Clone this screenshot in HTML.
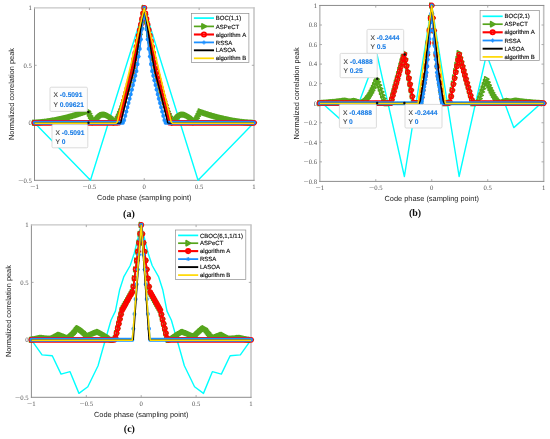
<!DOCTYPE html>
<html><head><meta charset="utf-8"><title>Normalized correlation peaks</title>
<style>
html,body{margin:0;padding:0;background:#fff}
svg{display:block}
text{text-rendering:geometricPrecision}
.tk{font-family:"Liberation Serif",serif;font-size:6.7px;fill:#555}
.lb{font-family:"Liberation Sans",sans-serif;font-size:7.4px;fill:#1c1c1c}
.lg{font-family:"Liberation Sans",sans-serif;font-size:6px;fill:#111;stroke:#111;stroke-width:0.15px;font-kerning:none}
.dt{font-family:"Liberation Sans",sans-serif;font-size:6.7px;fill:#333;stroke:#333;stroke-width:0.1px}
.dv{font-weight:bold;fill:#1a7de6;stroke:#1a7de6;stroke-width:0.1px}
.cap{font-family:"Liberation Serif",serif;font-weight:bold;font-size:10px;fill:#111}
</style></head><body>
<svg width="550" height="439" viewBox="0 0 550 439">
<defs><filter id="soft" x="0" y="0" width="550" height="439" filterUnits="userSpaceOnUse"><feGaussianBlur stdDeviation="0.36"/></filter></defs>
<rect width="550" height="439" fill="#fff"/>
<g filter="url(#soft)">
<line x1="34.5" y1="7.3" x2="34.5" y2="180.8" stroke="#8c8c8c" stroke-width="1"/>
<line x1="254" y1="7.3" x2="254" y2="180.8" stroke="#c6c6c6" stroke-width="1.6"/>
<line x1="34.0" y1="7.8" x2="254.5" y2="7.8" stroke="#c6c6c6" stroke-width="1.2"/>
<line x1="34.0" y1="180.3" x2="254.5" y2="180.3" stroke="#8c8c8c" stroke-width="1"/>
<path d="M89.38,180.3v-2.2M89.38,7.8v2.2M144.25,180.3v-2.2M144.25,7.8v2.2M199.12,180.3v-2.2M199.12,7.8v2.2M34.5,122.8h2.2M254,122.8h-2.2M34.5,65.3h2.2M254,65.3h-2.2" stroke="#9a9a9a" stroke-width="0.8" fill="none"/>
<text transform="translate(30.22,189.1) scale(1.38,1)" class="tk">−</text>
<text x="35.43" y="189.1" class="tk">1</text>
<text transform="translate(82.58,189.1) scale(1.38,1)" class="tk">−</text>
<text x="87.79" y="189.1" class="tk">0.5</text>
<text x="144.25" y="189.1" class="tk" text-anchor="middle">0</text>
<text x="199.12" y="189.1" class="tk" text-anchor="middle">0.5</text>
<text x="254" y="189.1" class="tk" text-anchor="middle">1</text>
<text transform="translate(18.21,182.6) scale(1.38,1)" class="tk">−</text>
<text x="23.43" y="182.6" class="tk">0.5</text>
<text x="31.8" y="125.1" class="tk" text-anchor="end">0</text>
<text x="31.8" y="67.6" class="tk" text-anchor="end">0.5</text>
<text x="31.8" y="10.1" class="tk" text-anchor="end">1</text>
<text x="144.25" y="199.65" class="lb" text-anchor="middle">Code phase (sampling point)</text>
<text transform="translate(13.65,94.05) rotate(-90)" class="lb" text-anchor="middle">Normalized correlation peak</text>
<polyline points="34.5,122.8 90.47,180.3 144.25,7.8 198.03,180.3 254,122.8" fill="none" stroke="#00ffff" stroke-width="1.4" stroke-linejoin="round" />
<polyline points="34.5,122.74 35.62,122.69 36.74,122.64 37.86,122.57 38.98,122.5 40.1,122.41 41.22,122.32 42.34,122.21 43.46,122.1 44.58,121.98 45.7,121.85 46.82,121.71 47.94,121.56 49.06,121.41 50.18,121.24 51.3,121.07 52.42,120.89 53.54,120.7 54.66,120.51 55.78,120.31 56.9,120.1 58.02,119.88 59.14,119.65 60.26,119.42 61.38,119.18 62.5,118.94 63.62,118.68 64.74,118.42 65.86,118.15 66.98,117.88 68.1,117.59 69.22,117.3 70.34,117.01 71.46,116.7 72.58,116.39 73.7,116.07 74.82,115.75 75.94,115.42 77.06,115.08 78.18,114.74 79.3,114.39 80.42,114.03 81.54,113.67 82.66,113.3 83.78,112.92 84.9,112.53 86.02,112.14 87.14,111.75 88.26,111.34 89.38,113.65 90.49,116.1 91.61,118.37 92.73,120.45 93.85,122.34 94.97,121.55 96.09,120.03 97.21,118.7 98.33,117.55 99.45,116.6 100.57,115.82 101.69,115.24 102.81,114.84 103.93,114.62 105.05,114.6 106.17,114.76 107.29,115.11 108.41,115.64 109.53,116.36 110.65,117.27 111.77,118.36 112.89,119.64 114.01,121.11 115.13,122.77 116.25,120.96 117.37,118.84 118.49,116.53 119.61,114.02 120.73,111.3 121.85,108.38 122.97,105.27 124.09,101.95 125.21,98.43 126.33,94.7 127.45,90.78 128.57,86.66 129.69,82.33 130.81,77.81 131.93,73.08 133.05,68.15 134.17,63.02 135.29,57.69 136.41,52.16 137.53,46.42 138.65,40.49 139.77,34.35 140.89,28.02 142.01,21.48 143.13,14.74 144.25,7.8 145.37,14.74 146.49,21.48 147.61,28.02 148.73,34.35 149.85,40.49 150.97,46.42 152.09,52.16 153.21,57.69 154.33,63.02 155.45,68.15 156.57,73.08 157.69,77.81 158.81,82.33 159.93,86.66 161.05,90.78 162.17,94.7 163.29,98.43 164.41,101.95 165.53,105.27 166.65,108.38 167.77,111.3 168.89,114.02 170.01,116.53 171.13,118.84 172.25,120.96 173.37,122.77 174.49,121.11 175.61,119.64 176.73,118.36 177.85,117.27 178.97,116.36 180.09,115.64 181.21,115.11 182.33,114.76 183.45,114.6 184.57,114.62 185.69,114.84 186.81,115.24 187.93,115.82 189.05,116.6 190.17,117.55 191.29,118.7 192.41,120.03 193.53,121.55 194.65,122.34 195.77,120.45 196.89,118.37 198.01,116.1 199.12,113.65 200.24,111.34 201.36,111.75 202.48,112.14 203.6,112.53 204.72,112.92 205.84,113.3 206.96,113.67 208.08,114.03 209.2,114.39 210.32,114.74 211.44,115.08 212.56,115.42 213.68,115.75 214.8,116.07 215.92,116.39 217.04,116.7 218.16,117.01 219.28,117.3 220.4,117.59 221.52,117.88 222.64,118.15 223.76,118.42 224.88,118.68 226,118.94 227.12,119.18 228.24,119.42 229.36,119.65 230.48,119.88 231.6,120.1 232.72,120.31 233.84,120.51 234.96,120.7 236.08,120.89 237.2,121.07 238.32,121.24 239.44,121.41 240.56,121.56 241.68,121.71 242.8,121.85 243.92,121.98 245.04,122.1 246.16,122.21 247.28,122.32 248.4,122.41 249.52,122.5 250.64,122.57 251.76,122.64 252.88,122.69 254,122.74" fill="none" stroke="#55a51c" stroke-width="1.6" stroke-linejoin="round" />
<path d="M32.58,120.34L36.9,122.74L32.58,125.14ZM33.7,120.29L38.02,122.69L33.7,125.09ZM34.82,120.24L39.14,122.64L34.82,125.04ZM35.94,120.17L40.26,122.57L35.94,124.97ZM37.06,120.1L41.38,122.5L37.06,124.9ZM38.18,120.01L42.5,122.41L38.18,124.81ZM39.3,119.92L43.62,122.32L39.3,124.72ZM40.42,119.81L44.74,122.21L40.42,124.61ZM41.54,119.7L45.86,122.1L41.54,124.5ZM42.66,119.58L46.98,121.98L42.66,124.38ZM43.78,119.45L48.1,121.85L43.78,124.25ZM44.9,119.31L49.22,121.71L44.9,124.11ZM46.02,119.16L50.34,121.56L46.02,123.96ZM47.14,119.01L51.46,121.41L47.14,123.81ZM48.26,118.84L52.58,121.24L48.26,123.64ZM49.38,118.67L53.7,121.07L49.38,123.47ZM50.5,118.49L54.82,120.89L50.5,123.29ZM51.62,118.3L55.94,120.7L51.62,123.1ZM52.74,118.11L57.06,120.51L52.74,122.91ZM53.86,117.91L58.18,120.31L53.86,122.71ZM54.98,117.7L59.3,120.1L54.98,122.5ZM56.1,117.48L60.42,119.88L56.1,122.28ZM57.22,117.25L61.54,119.65L57.22,122.05ZM58.34,117.02L62.66,119.42L58.34,121.82ZM59.46,116.78L63.78,119.18L59.46,121.58ZM60.58,116.54L64.9,118.94L60.58,121.34ZM61.7,116.28L66.02,118.68L61.7,121.08ZM62.82,116.02L67.14,118.42L62.82,120.82ZM63.94,115.75L68.26,118.15L63.94,120.55ZM65.06,115.48L69.38,117.88L65.06,120.28ZM66.18,115.19L70.5,117.59L66.18,119.99ZM67.3,114.9L71.62,117.3L67.3,119.7ZM68.42,114.61L72.74,117.01L68.42,119.41ZM69.54,114.3L73.86,116.7L69.54,119.1ZM70.66,113.99L74.98,116.39L70.66,118.79ZM71.78,113.67L76.1,116.07L71.78,118.47ZM72.9,113.35L77.22,115.75L72.9,118.15ZM74.02,113.02L78.34,115.42L74.02,117.82ZM75.14,112.68L79.46,115.08L75.14,117.48ZM76.26,112.34L80.58,114.74L76.26,117.14ZM77.38,111.99L81.7,114.39L77.38,116.79ZM78.5,111.63L82.82,114.03L78.5,116.43ZM79.62,111.27L83.94,113.67L79.62,116.07ZM80.74,110.9L85.06,113.3L80.74,115.7ZM81.86,110.52L86.18,112.92L81.86,115.32ZM82.98,110.13L87.3,112.53L82.98,114.93ZM84.1,109.74L88.42,112.14L84.1,114.54ZM85.22,109.35L89.54,111.75L85.22,114.15ZM86.34,108.94L90.66,111.34L86.34,113.74ZM87.45,111.25L91.78,113.65L87.45,116.05ZM88.57,113.7L92.89,116.1L88.57,118.5ZM89.69,115.97L94.01,118.37L89.69,120.77ZM90.81,118.05L95.13,120.45L90.81,122.85ZM91.93,119.94L96.25,122.34L91.93,124.74ZM93.05,119.15L97.37,121.55L93.05,123.95ZM94.17,117.63L98.49,120.03L94.17,122.43ZM95.29,116.3L99.61,118.7L95.29,121.1ZM96.41,115.15L100.73,117.55L96.41,119.95ZM97.53,114.2L101.85,116.6L97.53,119ZM98.65,113.42L102.97,115.82L98.65,118.22ZM99.77,112.84L104.09,115.24L99.77,117.64ZM100.89,112.44L105.21,114.84L100.89,117.24ZM102.01,112.22L106.33,114.62L102.01,117.02ZM103.13,112.2L107.45,114.6L103.13,117ZM104.25,112.36L108.57,114.76L104.25,117.16ZM105.37,112.71L109.69,115.11L105.37,117.51ZM106.49,113.24L110.81,115.64L106.49,118.04ZM107.61,113.96L111.93,116.36L107.61,118.76ZM108.73,114.87L113.05,117.27L108.73,119.67ZM109.85,115.96L114.17,118.36L109.85,120.76ZM110.97,117.24L115.29,119.64L110.97,122.04ZM112.09,118.71L116.41,121.11L112.09,123.51ZM113.21,120.37L117.53,122.77L113.21,125.17ZM114.33,118.56L118.65,120.96L114.33,123.36ZM115.45,116.44L119.77,118.84L115.45,121.24ZM116.57,114.13L120.89,116.53L116.57,118.93ZM117.69,111.62L122.01,114.02L117.69,116.42ZM118.81,108.9L123.13,111.3L118.81,113.7ZM119.93,105.98L124.25,108.38L119.93,110.78ZM121.05,102.87L125.37,105.27L121.05,107.67ZM122.17,99.55L126.49,101.95L122.17,104.35ZM123.29,96.03L127.61,98.43L123.29,100.83ZM124.41,92.3L128.73,94.7L124.41,97.1ZM125.53,88.38L129.85,90.78L125.53,93.18ZM126.65,84.26L130.97,86.66L126.65,89.06ZM127.77,79.93L132.09,82.33L127.77,84.73ZM128.89,75.41L133.21,77.81L128.89,80.21ZM130.01,70.68L134.33,73.08L130.01,75.48ZM131.13,65.75L135.45,68.15L131.13,70.55ZM132.25,60.62L136.57,63.02L132.25,65.42ZM133.37,55.29L137.69,57.69L133.37,60.09ZM134.49,49.76L138.81,52.16L134.49,54.56ZM135.61,44.02L139.93,46.42L135.61,48.82ZM136.73,38.09L141.05,40.49L136.73,42.89ZM137.85,31.95L142.17,34.35L137.85,36.75ZM138.97,25.62L143.29,28.02L138.97,30.42ZM140.09,19.08L144.41,21.48L140.09,23.88ZM141.21,12.34L145.53,14.74L141.21,17.14ZM142.33,5.4L146.65,7.8L142.33,10.2ZM143.45,12.34L147.77,14.74L143.45,17.14ZM144.57,19.08L148.89,21.48L144.57,23.88ZM145.69,25.62L150.01,28.02L145.69,30.42ZM146.81,31.95L151.13,34.35L146.81,36.75ZM147.93,38.09L152.25,40.49L147.93,42.89ZM149.05,44.02L153.37,46.42L149.05,48.82ZM150.17,49.76L154.49,52.16L150.17,54.56ZM151.29,55.29L155.61,57.69L151.29,60.09ZM152.41,60.62L156.73,63.02L152.41,65.42ZM153.53,65.75L157.85,68.15L153.53,70.55ZM154.65,70.68L158.97,73.08L154.65,75.48ZM155.77,75.41L160.09,77.81L155.77,80.21ZM156.89,79.93L161.21,82.33L156.89,84.73ZM158.01,84.26L162.33,86.66L158.01,89.06ZM159.13,88.38L163.45,90.78L159.13,93.18ZM160.25,92.3L164.57,94.7L160.25,97.1ZM161.37,96.03L165.69,98.43L161.37,100.83ZM162.49,99.55L166.81,101.95L162.49,104.35ZM163.61,102.87L167.93,105.27L163.61,107.67ZM164.73,105.98L169.05,108.38L164.73,110.78ZM165.85,108.9L170.17,111.3L165.85,113.7ZM166.97,111.62L171.29,114.02L166.97,116.42ZM168.09,114.13L172.41,116.53L168.09,118.93ZM169.21,116.44L173.53,118.84L169.21,121.24ZM170.33,118.56L174.65,120.96L170.33,123.36ZM171.45,120.37L175.77,122.77L171.45,125.17ZM172.57,118.71L176.89,121.11L172.57,123.51ZM173.69,117.24L178.01,119.64L173.69,122.04ZM174.81,115.96L179.13,118.36L174.81,120.76ZM175.93,114.87L180.25,117.27L175.93,119.67ZM177.05,113.96L181.37,116.36L177.05,118.76ZM178.17,113.24L182.49,115.64L178.17,118.04ZM179.29,112.71L183.61,115.11L179.29,117.51ZM180.41,112.36L184.73,114.76L180.41,117.16ZM181.53,112.2L185.85,114.6L181.53,117ZM182.65,112.22L186.97,114.62L182.65,117.02ZM183.77,112.44L188.09,114.84L183.77,117.24ZM184.89,112.84L189.21,115.24L184.89,117.64ZM186.01,113.42L190.33,115.82L186.01,118.22ZM187.13,114.2L191.45,116.6L187.13,119ZM188.25,115.15L192.57,117.55L188.25,119.95ZM189.37,116.3L193.69,118.7L189.37,121.1ZM190.49,117.63L194.81,120.03L190.49,122.43ZM191.61,119.15L195.93,121.55L191.61,123.95ZM192.73,119.94L197.05,122.34L192.73,124.74ZM193.85,118.05L198.17,120.45L193.85,122.85ZM194.97,115.97L199.29,118.37L194.97,120.77ZM196.09,113.7L200.41,116.1L196.09,118.5ZM197.2,111.25L201.52,113.65L197.2,116.05ZM198.32,108.94L202.64,111.34L198.32,113.74ZM199.44,109.35L203.76,111.75L199.44,114.15ZM200.56,109.74L204.88,112.14L200.56,114.54ZM201.68,110.13L206,112.53L201.68,114.93ZM202.8,110.52L207.12,112.92L202.8,115.32ZM203.92,110.9L208.24,113.3L203.92,115.7ZM205.04,111.27L209.36,113.67L205.04,116.07ZM206.16,111.63L210.48,114.03L206.16,116.43ZM207.28,111.99L211.6,114.39L207.28,116.79ZM208.4,112.34L212.72,114.74L208.4,117.14ZM209.52,112.68L213.84,115.08L209.52,117.48ZM210.64,113.02L214.96,115.42L210.64,117.82ZM211.76,113.35L216.08,115.75L211.76,118.15ZM212.88,113.67L217.2,116.07L212.88,118.47ZM214,113.99L218.32,116.39L214,118.79ZM215.12,114.3L219.44,116.7L215.12,119.1ZM216.24,114.61L220.56,117.01L216.24,119.41ZM217.36,114.9L221.68,117.3L217.36,119.7ZM218.48,115.19L222.8,117.59L218.48,119.99ZM219.6,115.48L223.92,117.88L219.6,120.28ZM220.72,115.75L225.04,118.15L220.72,120.55ZM221.84,116.02L226.16,118.42L221.84,120.82ZM222.96,116.28L227.28,118.68L222.96,121.08ZM224.08,116.54L228.4,118.94L224.08,121.34ZM225.2,116.78L229.52,119.18L225.2,121.58ZM226.32,117.02L230.64,119.42L226.32,121.82ZM227.44,117.25L231.76,119.65L227.44,122.05ZM228.56,117.48L232.88,119.88L228.56,122.28ZM229.68,117.7L234,120.1L229.68,122.5ZM230.8,117.91L235.12,120.31L230.8,122.71ZM231.92,118.11L236.24,120.51L231.92,122.91ZM233.04,118.3L237.36,120.7L233.04,123.1ZM234.16,118.49L238.48,120.89L234.16,123.29ZM235.28,118.67L239.6,121.07L235.28,123.47ZM236.4,118.84L240.72,121.24L236.4,123.64ZM237.52,119.01L241.84,121.41L237.52,123.81ZM238.64,119.16L242.96,121.56L238.64,123.96ZM239.76,119.31L244.08,121.71L239.76,124.11ZM240.88,119.45L245.2,121.85L240.88,124.25ZM242,119.58L246.32,121.98L242,124.38ZM243.12,119.7L247.44,122.1L243.12,124.5ZM244.24,119.81L248.56,122.21L244.24,124.61ZM245.36,119.92L249.68,122.32L245.36,124.72ZM246.48,120.01L250.8,122.41L246.48,124.81ZM247.6,120.1L251.92,122.5L247.6,124.9ZM248.72,120.17L253.04,122.57L248.72,124.97ZM249.84,120.24L254.16,122.64L249.84,125.04ZM250.96,120.29L255.28,122.69L250.96,125.09ZM252.08,120.34L256.4,122.74L252.08,125.14Z" fill="none" stroke="#55a51c" stroke-width="1.5" stroke-linejoin="round"/>
<polyline points="34.5,122.8 117.37,122.8 118.49,122.67 124.09,101.13 125.21,96.82 131.93,71.36 133.05,65.73 136.41,46.86 137.53,41.19 144.25,7.8 150.97,41.19 152.09,46.86 155.45,65.73 156.57,71.36 163.29,96.82 164.41,101.13 170.01,122.67 171.13,122.8 254,122.8" fill="none" stroke="#ff0000" stroke-width="1.7" stroke-linejoin="round" />
<path d="M32.35,122.8a2.15,2.15 0 1 0 4.3,0a2.15,2.15 0 1 0 -4.3,0M33.47,122.8a2.15,2.15 0 1 0 4.3,0a2.15,2.15 0 1 0 -4.3,0M34.59,122.8a2.15,2.15 0 1 0 4.3,0a2.15,2.15 0 1 0 -4.3,0M35.71,122.8a2.15,2.15 0 1 0 4.3,0a2.15,2.15 0 1 0 -4.3,0M36.83,122.8a2.15,2.15 0 1 0 4.3,0a2.15,2.15 0 1 0 -4.3,0M37.95,122.8a2.15,2.15 0 1 0 4.3,0a2.15,2.15 0 1 0 -4.3,0M39.07,122.8a2.15,2.15 0 1 0 4.3,0a2.15,2.15 0 1 0 -4.3,0M40.19,122.8a2.15,2.15 0 1 0 4.3,0a2.15,2.15 0 1 0 -4.3,0M41.31,122.8a2.15,2.15 0 1 0 4.3,0a2.15,2.15 0 1 0 -4.3,0M42.43,122.8a2.15,2.15 0 1 0 4.3,0a2.15,2.15 0 1 0 -4.3,0M43.55,122.8a2.15,2.15 0 1 0 4.3,0a2.15,2.15 0 1 0 -4.3,0M44.67,122.8a2.15,2.15 0 1 0 4.3,0a2.15,2.15 0 1 0 -4.3,0M45.79,122.8a2.15,2.15 0 1 0 4.3,0a2.15,2.15 0 1 0 -4.3,0M46.91,122.8a2.15,2.15 0 1 0 4.3,0a2.15,2.15 0 1 0 -4.3,0M48.03,122.8a2.15,2.15 0 1 0 4.3,0a2.15,2.15 0 1 0 -4.3,0M49.15,122.8a2.15,2.15 0 1 0 4.3,0a2.15,2.15 0 1 0 -4.3,0M50.27,122.8a2.15,2.15 0 1 0 4.3,0a2.15,2.15 0 1 0 -4.3,0M51.39,122.8a2.15,2.15 0 1 0 4.3,0a2.15,2.15 0 1 0 -4.3,0M52.51,122.8a2.15,2.15 0 1 0 4.3,0a2.15,2.15 0 1 0 -4.3,0M53.63,122.8a2.15,2.15 0 1 0 4.3,0a2.15,2.15 0 1 0 -4.3,0M54.75,122.8a2.15,2.15 0 1 0 4.3,0a2.15,2.15 0 1 0 -4.3,0M55.87,122.8a2.15,2.15 0 1 0 4.3,0a2.15,2.15 0 1 0 -4.3,0M56.99,122.8a2.15,2.15 0 1 0 4.3,0a2.15,2.15 0 1 0 -4.3,0M58.11,122.8a2.15,2.15 0 1 0 4.3,0a2.15,2.15 0 1 0 -4.3,0M59.23,122.8a2.15,2.15 0 1 0 4.3,0a2.15,2.15 0 1 0 -4.3,0M60.35,122.8a2.15,2.15 0 1 0 4.3,0a2.15,2.15 0 1 0 -4.3,0M61.47,122.8a2.15,2.15 0 1 0 4.3,0a2.15,2.15 0 1 0 -4.3,0M62.59,122.8a2.15,2.15 0 1 0 4.3,0a2.15,2.15 0 1 0 -4.3,0M63.71,122.8a2.15,2.15 0 1 0 4.3,0a2.15,2.15 0 1 0 -4.3,0M64.83,122.8a2.15,2.15 0 1 0 4.3,0a2.15,2.15 0 1 0 -4.3,0M65.95,122.8a2.15,2.15 0 1 0 4.3,0a2.15,2.15 0 1 0 -4.3,0M67.07,122.8a2.15,2.15 0 1 0 4.3,0a2.15,2.15 0 1 0 -4.3,0M68.19,122.8a2.15,2.15 0 1 0 4.3,0a2.15,2.15 0 1 0 -4.3,0M69.31,122.8a2.15,2.15 0 1 0 4.3,0a2.15,2.15 0 1 0 -4.3,0M70.43,122.8a2.15,2.15 0 1 0 4.3,0a2.15,2.15 0 1 0 -4.3,0M71.55,122.8a2.15,2.15 0 1 0 4.3,0a2.15,2.15 0 1 0 -4.3,0M72.67,122.8a2.15,2.15 0 1 0 4.3,0a2.15,2.15 0 1 0 -4.3,0M73.79,122.8a2.15,2.15 0 1 0 4.3,0a2.15,2.15 0 1 0 -4.3,0M74.91,122.8a2.15,2.15 0 1 0 4.3,0a2.15,2.15 0 1 0 -4.3,0M76.03,122.8a2.15,2.15 0 1 0 4.3,0a2.15,2.15 0 1 0 -4.3,0M77.15,122.8a2.15,2.15 0 1 0 4.3,0a2.15,2.15 0 1 0 -4.3,0M78.27,122.8a2.15,2.15 0 1 0 4.3,0a2.15,2.15 0 1 0 -4.3,0M79.39,122.8a2.15,2.15 0 1 0 4.3,0a2.15,2.15 0 1 0 -4.3,0M80.51,122.8a2.15,2.15 0 1 0 4.3,0a2.15,2.15 0 1 0 -4.3,0M81.63,122.8a2.15,2.15 0 1 0 4.3,0a2.15,2.15 0 1 0 -4.3,0M82.75,122.8a2.15,2.15 0 1 0 4.3,0a2.15,2.15 0 1 0 -4.3,0M83.87,122.8a2.15,2.15 0 1 0 4.3,0a2.15,2.15 0 1 0 -4.3,0M84.99,122.8a2.15,2.15 0 1 0 4.3,0a2.15,2.15 0 1 0 -4.3,0M86.11,122.8a2.15,2.15 0 1 0 4.3,0a2.15,2.15 0 1 0 -4.3,0M87.22,122.8a2.15,2.15 0 1 0 4.3,0a2.15,2.15 0 1 0 -4.3,0M88.34,122.8a2.15,2.15 0 1 0 4.3,0a2.15,2.15 0 1 0 -4.3,0M89.46,122.8a2.15,2.15 0 1 0 4.3,0a2.15,2.15 0 1 0 -4.3,0M90.58,122.8a2.15,2.15 0 1 0 4.3,0a2.15,2.15 0 1 0 -4.3,0M91.7,122.8a2.15,2.15 0 1 0 4.3,0a2.15,2.15 0 1 0 -4.3,0M92.82,122.8a2.15,2.15 0 1 0 4.3,0a2.15,2.15 0 1 0 -4.3,0M93.94,122.8a2.15,2.15 0 1 0 4.3,0a2.15,2.15 0 1 0 -4.3,0M95.06,122.8a2.15,2.15 0 1 0 4.3,0a2.15,2.15 0 1 0 -4.3,0M96.18,122.8a2.15,2.15 0 1 0 4.3,0a2.15,2.15 0 1 0 -4.3,0M97.3,122.8a2.15,2.15 0 1 0 4.3,0a2.15,2.15 0 1 0 -4.3,0M98.42,122.8a2.15,2.15 0 1 0 4.3,0a2.15,2.15 0 1 0 -4.3,0M99.54,122.8a2.15,2.15 0 1 0 4.3,0a2.15,2.15 0 1 0 -4.3,0M100.66,122.8a2.15,2.15 0 1 0 4.3,0a2.15,2.15 0 1 0 -4.3,0M101.78,122.8a2.15,2.15 0 1 0 4.3,0a2.15,2.15 0 1 0 -4.3,0M102.9,122.8a2.15,2.15 0 1 0 4.3,0a2.15,2.15 0 1 0 -4.3,0M104.02,122.8a2.15,2.15 0 1 0 4.3,0a2.15,2.15 0 1 0 -4.3,0M105.14,122.8a2.15,2.15 0 1 0 4.3,0a2.15,2.15 0 1 0 -4.3,0M106.26,122.8a2.15,2.15 0 1 0 4.3,0a2.15,2.15 0 1 0 -4.3,0M107.38,122.8a2.15,2.15 0 1 0 4.3,0a2.15,2.15 0 1 0 -4.3,0M108.5,122.8a2.15,2.15 0 1 0 4.3,0a2.15,2.15 0 1 0 -4.3,0M109.62,122.8a2.15,2.15 0 1 0 4.3,0a2.15,2.15 0 1 0 -4.3,0M110.74,122.8a2.15,2.15 0 1 0 4.3,0a2.15,2.15 0 1 0 -4.3,0M111.86,122.8a2.15,2.15 0 1 0 4.3,0a2.15,2.15 0 1 0 -4.3,0M112.98,122.8a2.15,2.15 0 1 0 4.3,0a2.15,2.15 0 1 0 -4.3,0M114.1,122.8a2.15,2.15 0 1 0 4.3,0a2.15,2.15 0 1 0 -4.3,0M115.22,122.8a2.15,2.15 0 1 0 4.3,0a2.15,2.15 0 1 0 -4.3,0M116.34,122.67a2.15,2.15 0 1 0 4.3,0a2.15,2.15 0 1 0 -4.3,0M117.46,118.36a2.15,2.15 0 1 0 4.3,0a2.15,2.15 0 1 0 -4.3,0M118.58,114.05a2.15,2.15 0 1 0 4.3,0a2.15,2.15 0 1 0 -4.3,0M119.7,109.74a2.15,2.15 0 1 0 4.3,0a2.15,2.15 0 1 0 -4.3,0M120.82,105.43a2.15,2.15 0 1 0 4.3,0a2.15,2.15 0 1 0 -4.3,0M121.94,101.13a2.15,2.15 0 1 0 4.3,0a2.15,2.15 0 1 0 -4.3,0M123.06,96.82a2.15,2.15 0 1 0 4.3,0a2.15,2.15 0 1 0 -4.3,0M124.18,92.58a2.15,2.15 0 1 0 4.3,0a2.15,2.15 0 1 0 -4.3,0M125.3,88.33a2.15,2.15 0 1 0 4.3,0a2.15,2.15 0 1 0 -4.3,0M126.42,84.09a2.15,2.15 0 1 0 4.3,0a2.15,2.15 0 1 0 -4.3,0M127.54,79.85a2.15,2.15 0 1 0 4.3,0a2.15,2.15 0 1 0 -4.3,0M128.66,75.61a2.15,2.15 0 1 0 4.3,0a2.15,2.15 0 1 0 -4.3,0M129.78,71.36a2.15,2.15 0 1 0 4.3,0a2.15,2.15 0 1 0 -4.3,0M130.9,65.73a2.15,2.15 0 1 0 4.3,0a2.15,2.15 0 1 0 -4.3,0M132.02,59.44a2.15,2.15 0 1 0 4.3,0a2.15,2.15 0 1 0 -4.3,0M133.14,53.15a2.15,2.15 0 1 0 4.3,0a2.15,2.15 0 1 0 -4.3,0M134.26,46.86a2.15,2.15 0 1 0 4.3,0a2.15,2.15 0 1 0 -4.3,0M135.38,41.19a2.15,2.15 0 1 0 4.3,0a2.15,2.15 0 1 0 -4.3,0M136.5,35.63a2.15,2.15 0 1 0 4.3,0a2.15,2.15 0 1 0 -4.3,0M137.62,30.06a2.15,2.15 0 1 0 4.3,0a2.15,2.15 0 1 0 -4.3,0M138.74,24.5a2.15,2.15 0 1 0 4.3,0a2.15,2.15 0 1 0 -4.3,0M139.86,18.93a2.15,2.15 0 1 0 4.3,0a2.15,2.15 0 1 0 -4.3,0M140.98,13.37a2.15,2.15 0 1 0 4.3,0a2.15,2.15 0 1 0 -4.3,0M142.1,7.8a2.15,2.15 0 1 0 4.3,0a2.15,2.15 0 1 0 -4.3,0M143.22,13.37a2.15,2.15 0 1 0 4.3,0a2.15,2.15 0 1 0 -4.3,0M144.34,18.93a2.15,2.15 0 1 0 4.3,0a2.15,2.15 0 1 0 -4.3,0M145.46,24.5a2.15,2.15 0 1 0 4.3,0a2.15,2.15 0 1 0 -4.3,0M146.58,30.06a2.15,2.15 0 1 0 4.3,0a2.15,2.15 0 1 0 -4.3,0M147.7,35.63a2.15,2.15 0 1 0 4.3,0a2.15,2.15 0 1 0 -4.3,0M148.82,41.19a2.15,2.15 0 1 0 4.3,0a2.15,2.15 0 1 0 -4.3,0M149.94,46.86a2.15,2.15 0 1 0 4.3,0a2.15,2.15 0 1 0 -4.3,0M151.06,53.15a2.15,2.15 0 1 0 4.3,0a2.15,2.15 0 1 0 -4.3,0M152.18,59.44a2.15,2.15 0 1 0 4.3,0a2.15,2.15 0 1 0 -4.3,0M153.3,65.73a2.15,2.15 0 1 0 4.3,0a2.15,2.15 0 1 0 -4.3,0M154.42,71.36a2.15,2.15 0 1 0 4.3,0a2.15,2.15 0 1 0 -4.3,0M155.54,75.61a2.15,2.15 0 1 0 4.3,0a2.15,2.15 0 1 0 -4.3,0M156.66,79.85a2.15,2.15 0 1 0 4.3,0a2.15,2.15 0 1 0 -4.3,0M157.78,84.09a2.15,2.15 0 1 0 4.3,0a2.15,2.15 0 1 0 -4.3,0M158.9,88.33a2.15,2.15 0 1 0 4.3,0a2.15,2.15 0 1 0 -4.3,0M160.02,92.58a2.15,2.15 0 1 0 4.3,0a2.15,2.15 0 1 0 -4.3,0M161.14,96.82a2.15,2.15 0 1 0 4.3,0a2.15,2.15 0 1 0 -4.3,0M162.26,101.13a2.15,2.15 0 1 0 4.3,0a2.15,2.15 0 1 0 -4.3,0M163.38,105.43a2.15,2.15 0 1 0 4.3,0a2.15,2.15 0 1 0 -4.3,0M164.5,109.74a2.15,2.15 0 1 0 4.3,0a2.15,2.15 0 1 0 -4.3,0M165.62,114.05a2.15,2.15 0 1 0 4.3,0a2.15,2.15 0 1 0 -4.3,0M166.74,118.36a2.15,2.15 0 1 0 4.3,0a2.15,2.15 0 1 0 -4.3,0M167.86,122.67a2.15,2.15 0 1 0 4.3,0a2.15,2.15 0 1 0 -4.3,0M168.98,122.8a2.15,2.15 0 1 0 4.3,0a2.15,2.15 0 1 0 -4.3,0M170.1,122.8a2.15,2.15 0 1 0 4.3,0a2.15,2.15 0 1 0 -4.3,0M171.22,122.8a2.15,2.15 0 1 0 4.3,0a2.15,2.15 0 1 0 -4.3,0M172.34,122.8a2.15,2.15 0 1 0 4.3,0a2.15,2.15 0 1 0 -4.3,0M173.46,122.8a2.15,2.15 0 1 0 4.3,0a2.15,2.15 0 1 0 -4.3,0M174.58,122.8a2.15,2.15 0 1 0 4.3,0a2.15,2.15 0 1 0 -4.3,0M175.7,122.8a2.15,2.15 0 1 0 4.3,0a2.15,2.15 0 1 0 -4.3,0M176.82,122.8a2.15,2.15 0 1 0 4.3,0a2.15,2.15 0 1 0 -4.3,0M177.94,122.8a2.15,2.15 0 1 0 4.3,0a2.15,2.15 0 1 0 -4.3,0M179.06,122.8a2.15,2.15 0 1 0 4.3,0a2.15,2.15 0 1 0 -4.3,0M180.18,122.8a2.15,2.15 0 1 0 4.3,0a2.15,2.15 0 1 0 -4.3,0M181.3,122.8a2.15,2.15 0 1 0 4.3,0a2.15,2.15 0 1 0 -4.3,0M182.42,122.8a2.15,2.15 0 1 0 4.3,0a2.15,2.15 0 1 0 -4.3,0M183.54,122.8a2.15,2.15 0 1 0 4.3,0a2.15,2.15 0 1 0 -4.3,0M184.66,122.8a2.15,2.15 0 1 0 4.3,0a2.15,2.15 0 1 0 -4.3,0M185.78,122.8a2.15,2.15 0 1 0 4.3,0a2.15,2.15 0 1 0 -4.3,0M186.9,122.8a2.15,2.15 0 1 0 4.3,0a2.15,2.15 0 1 0 -4.3,0M188.02,122.8a2.15,2.15 0 1 0 4.3,0a2.15,2.15 0 1 0 -4.3,0M189.14,122.8a2.15,2.15 0 1 0 4.3,0a2.15,2.15 0 1 0 -4.3,0M190.26,122.8a2.15,2.15 0 1 0 4.3,0a2.15,2.15 0 1 0 -4.3,0M191.38,122.8a2.15,2.15 0 1 0 4.3,0a2.15,2.15 0 1 0 -4.3,0M192.5,122.8a2.15,2.15 0 1 0 4.3,0a2.15,2.15 0 1 0 -4.3,0M193.62,122.8a2.15,2.15 0 1 0 4.3,0a2.15,2.15 0 1 0 -4.3,0M194.74,122.8a2.15,2.15 0 1 0 4.3,0a2.15,2.15 0 1 0 -4.3,0M195.86,122.8a2.15,2.15 0 1 0 4.3,0a2.15,2.15 0 1 0 -4.3,0M196.97,122.8a2.15,2.15 0 1 0 4.3,0a2.15,2.15 0 1 0 -4.3,0M198.09,122.8a2.15,2.15 0 1 0 4.3,0a2.15,2.15 0 1 0 -4.3,0M199.21,122.8a2.15,2.15 0 1 0 4.3,0a2.15,2.15 0 1 0 -4.3,0M200.33,122.8a2.15,2.15 0 1 0 4.3,0a2.15,2.15 0 1 0 -4.3,0M201.45,122.8a2.15,2.15 0 1 0 4.3,0a2.15,2.15 0 1 0 -4.3,0M202.57,122.8a2.15,2.15 0 1 0 4.3,0a2.15,2.15 0 1 0 -4.3,0M203.69,122.8a2.15,2.15 0 1 0 4.3,0a2.15,2.15 0 1 0 -4.3,0M204.81,122.8a2.15,2.15 0 1 0 4.3,0a2.15,2.15 0 1 0 -4.3,0M205.93,122.8a2.15,2.15 0 1 0 4.3,0a2.15,2.15 0 1 0 -4.3,0M207.05,122.8a2.15,2.15 0 1 0 4.3,0a2.15,2.15 0 1 0 -4.3,0M208.17,122.8a2.15,2.15 0 1 0 4.3,0a2.15,2.15 0 1 0 -4.3,0M209.29,122.8a2.15,2.15 0 1 0 4.3,0a2.15,2.15 0 1 0 -4.3,0M210.41,122.8a2.15,2.15 0 1 0 4.3,0a2.15,2.15 0 1 0 -4.3,0M211.53,122.8a2.15,2.15 0 1 0 4.3,0a2.15,2.15 0 1 0 -4.3,0M212.65,122.8a2.15,2.15 0 1 0 4.3,0a2.15,2.15 0 1 0 -4.3,0M213.77,122.8a2.15,2.15 0 1 0 4.3,0a2.15,2.15 0 1 0 -4.3,0M214.89,122.8a2.15,2.15 0 1 0 4.3,0a2.15,2.15 0 1 0 -4.3,0M216.01,122.8a2.15,2.15 0 1 0 4.3,0a2.15,2.15 0 1 0 -4.3,0M217.13,122.8a2.15,2.15 0 1 0 4.3,0a2.15,2.15 0 1 0 -4.3,0M218.25,122.8a2.15,2.15 0 1 0 4.3,0a2.15,2.15 0 1 0 -4.3,0M219.37,122.8a2.15,2.15 0 1 0 4.3,0a2.15,2.15 0 1 0 -4.3,0M220.49,122.8a2.15,2.15 0 1 0 4.3,0a2.15,2.15 0 1 0 -4.3,0M221.61,122.8a2.15,2.15 0 1 0 4.3,0a2.15,2.15 0 1 0 -4.3,0M222.73,122.8a2.15,2.15 0 1 0 4.3,0a2.15,2.15 0 1 0 -4.3,0M223.85,122.8a2.15,2.15 0 1 0 4.3,0a2.15,2.15 0 1 0 -4.3,0M224.97,122.8a2.15,2.15 0 1 0 4.3,0a2.15,2.15 0 1 0 -4.3,0M226.09,122.8a2.15,2.15 0 1 0 4.3,0a2.15,2.15 0 1 0 -4.3,0M227.21,122.8a2.15,2.15 0 1 0 4.3,0a2.15,2.15 0 1 0 -4.3,0M228.33,122.8a2.15,2.15 0 1 0 4.3,0a2.15,2.15 0 1 0 -4.3,0M229.45,122.8a2.15,2.15 0 1 0 4.3,0a2.15,2.15 0 1 0 -4.3,0M230.57,122.8a2.15,2.15 0 1 0 4.3,0a2.15,2.15 0 1 0 -4.3,0M231.69,122.8a2.15,2.15 0 1 0 4.3,0a2.15,2.15 0 1 0 -4.3,0M232.81,122.8a2.15,2.15 0 1 0 4.3,0a2.15,2.15 0 1 0 -4.3,0M233.93,122.8a2.15,2.15 0 1 0 4.3,0a2.15,2.15 0 1 0 -4.3,0M235.05,122.8a2.15,2.15 0 1 0 4.3,0a2.15,2.15 0 1 0 -4.3,0M236.17,122.8a2.15,2.15 0 1 0 4.3,0a2.15,2.15 0 1 0 -4.3,0M237.29,122.8a2.15,2.15 0 1 0 4.3,0a2.15,2.15 0 1 0 -4.3,0M238.41,122.8a2.15,2.15 0 1 0 4.3,0a2.15,2.15 0 1 0 -4.3,0M239.53,122.8a2.15,2.15 0 1 0 4.3,0a2.15,2.15 0 1 0 -4.3,0M240.65,122.8a2.15,2.15 0 1 0 4.3,0a2.15,2.15 0 1 0 -4.3,0M241.77,122.8a2.15,2.15 0 1 0 4.3,0a2.15,2.15 0 1 0 -4.3,0M242.89,122.8a2.15,2.15 0 1 0 4.3,0a2.15,2.15 0 1 0 -4.3,0M244.01,122.8a2.15,2.15 0 1 0 4.3,0a2.15,2.15 0 1 0 -4.3,0M245.13,122.8a2.15,2.15 0 1 0 4.3,0a2.15,2.15 0 1 0 -4.3,0M246.25,122.8a2.15,2.15 0 1 0 4.3,0a2.15,2.15 0 1 0 -4.3,0M247.37,122.8a2.15,2.15 0 1 0 4.3,0a2.15,2.15 0 1 0 -4.3,0M248.49,122.8a2.15,2.15 0 1 0 4.3,0a2.15,2.15 0 1 0 -4.3,0M249.61,122.8a2.15,2.15 0 1 0 4.3,0a2.15,2.15 0 1 0 -4.3,0M250.73,122.8a2.15,2.15 0 1 0 4.3,0a2.15,2.15 0 1 0 -4.3,0M251.85,122.8a2.15,2.15 0 1 0 4.3,0a2.15,2.15 0 1 0 -4.3,0" fill="none" stroke="#ff0000" stroke-width="1.4"/>
<polyline points="34.5,122.8 122.97,122.8 124.09,120.15 129.69,98.74 130.81,94.25 136.41,71.12 137.53,64.17 139.77,48.85 140.89,39.39 144.25,7.8 147.61,39.39 148.73,48.85 150.97,64.17 152.09,71.12 157.69,94.25 158.81,98.74 164.41,120.15 165.53,122.8 254,122.8" fill="none" stroke="#1e90ff" stroke-width="1.6" stroke-linejoin="round" />
<path d="M32.5,122.8h4M34.5,120.8v4M33.09,121.39l2.83,2.83M33.09,124.21l2.83,-2.83M33.62,122.8h4M35.62,120.8v4M34.21,121.39l2.83,2.83M34.21,124.21l2.83,-2.83M34.74,122.8h4M36.74,120.8v4M35.33,121.39l2.83,2.83M35.33,124.21l2.83,-2.83M35.86,122.8h4M37.86,120.8v4M36.45,121.39l2.83,2.83M36.45,124.21l2.83,-2.83M36.98,122.8h4M38.98,120.8v4M37.57,121.39l2.83,2.83M37.57,124.21l2.83,-2.83M38.1,122.8h4M40.1,120.8v4M38.69,121.39l2.83,2.83M38.69,124.21l2.83,-2.83M39.22,122.8h4M41.22,120.8v4M39.81,121.39l2.83,2.83M39.81,124.21l2.83,-2.83M40.34,122.8h4M42.34,120.8v4M40.93,121.39l2.83,2.83M40.93,124.21l2.83,-2.83M41.46,122.8h4M43.46,120.8v4M42.05,121.39l2.83,2.83M42.05,124.21l2.83,-2.83M42.58,122.8h4M44.58,120.8v4M43.17,121.39l2.83,2.83M43.17,124.21l2.83,-2.83M43.7,122.8h4M45.7,120.8v4M44.28,121.39l2.83,2.83M44.28,124.21l2.83,-2.83M44.82,122.8h4M46.82,120.8v4M45.4,121.39l2.83,2.83M45.4,124.21l2.83,-2.83M45.94,122.8h4M47.94,120.8v4M46.52,121.39l2.83,2.83M46.52,124.21l2.83,-2.83M47.06,122.8h4M49.06,120.8v4M47.64,121.39l2.83,2.83M47.64,124.21l2.83,-2.83M48.18,122.8h4M50.18,120.8v4M48.76,121.39l2.83,2.83M48.76,124.21l2.83,-2.83M49.3,122.8h4M51.3,120.8v4M49.88,121.39l2.83,2.83M49.88,124.21l2.83,-2.83M50.42,122.8h4M52.42,120.8v4M51,121.39l2.83,2.83M51,124.21l2.83,-2.83M51.54,122.8h4M53.54,120.8v4M52.12,121.39l2.83,2.83M52.12,124.21l2.83,-2.83M52.66,122.8h4M54.66,120.8v4M53.24,121.39l2.83,2.83M53.24,124.21l2.83,-2.83M53.78,122.8h4M55.78,120.8v4M54.36,121.39l2.83,2.83M54.36,124.21l2.83,-2.83M54.9,122.8h4M56.9,120.8v4M55.48,121.39l2.83,2.83M55.48,124.21l2.83,-2.83M56.02,122.8h4M58.02,120.8v4M56.6,121.39l2.83,2.83M56.6,124.21l2.83,-2.83M57.14,122.8h4M59.14,120.8v4M57.72,121.39l2.83,2.83M57.72,124.21l2.83,-2.83M58.26,122.8h4M60.26,120.8v4M58.84,121.39l2.83,2.83M58.84,124.21l2.83,-2.83M59.38,122.8h4M61.38,120.8v4M59.96,121.39l2.83,2.83M59.96,124.21l2.83,-2.83M60.5,122.8h4M62.5,120.8v4M61.08,121.39l2.83,2.83M61.08,124.21l2.83,-2.83M61.62,122.8h4M63.62,120.8v4M62.2,121.39l2.83,2.83M62.2,124.21l2.83,-2.83M62.74,122.8h4M64.74,120.8v4M63.32,121.39l2.83,2.83M63.32,124.21l2.83,-2.83M63.86,122.8h4M65.86,120.8v4M64.44,121.39l2.83,2.83M64.44,124.21l2.83,-2.83M64.98,122.8h4M66.98,120.8v4M65.56,121.39l2.83,2.83M65.56,124.21l2.83,-2.83M66.1,122.8h4M68.1,120.8v4M66.68,121.39l2.83,2.83M66.68,124.21l2.83,-2.83M67.22,122.8h4M69.22,120.8v4M67.8,121.39l2.83,2.83M67.8,124.21l2.83,-2.83M68.34,122.8h4M70.34,120.8v4M68.92,121.39l2.83,2.83M68.92,124.21l2.83,-2.83M69.46,122.8h4M71.46,120.8v4M70.04,121.39l2.83,2.83M70.04,124.21l2.83,-2.83M70.58,122.8h4M72.58,120.8v4M71.16,121.39l2.83,2.83M71.16,124.21l2.83,-2.83M71.7,122.8h4M73.7,120.8v4M72.28,121.39l2.83,2.83M72.28,124.21l2.83,-2.83M72.82,122.8h4M74.82,120.8v4M73.4,121.39l2.83,2.83M73.4,124.21l2.83,-2.83M73.94,122.8h4M75.94,120.8v4M74.52,121.39l2.83,2.83M74.52,124.21l2.83,-2.83M75.06,122.8h4M77.06,120.8v4M75.64,121.39l2.83,2.83M75.64,124.21l2.83,-2.83M76.18,122.8h4M78.18,120.8v4M76.76,121.39l2.83,2.83M76.76,124.21l2.83,-2.83M77.3,122.8h4M79.3,120.8v4M77.88,121.39l2.83,2.83M77.88,124.21l2.83,-2.83M78.42,122.8h4M80.42,120.8v4M79,121.39l2.83,2.83M79,124.21l2.83,-2.83M79.54,122.8h4M81.54,120.8v4M80.12,121.39l2.83,2.83M80.12,124.21l2.83,-2.83M80.66,122.8h4M82.66,120.8v4M81.24,121.39l2.83,2.83M81.24,124.21l2.83,-2.83M81.78,122.8h4M83.78,120.8v4M82.36,121.39l2.83,2.83M82.36,124.21l2.83,-2.83M82.9,122.8h4M84.9,120.8v4M83.48,121.39l2.83,2.83M83.48,124.21l2.83,-2.83M84.02,122.8h4M86.02,120.8v4M84.6,121.39l2.83,2.83M84.6,124.21l2.83,-2.83M85.14,122.8h4M87.14,120.8v4M85.72,121.39l2.83,2.83M85.72,124.21l2.83,-2.83M86.26,122.8h4M88.26,120.8v4M86.84,121.39l2.83,2.83M86.84,124.21l2.83,-2.83M87.38,122.8h4M89.38,120.8v4M87.96,121.39l2.83,2.83M87.96,124.21l2.83,-2.83M88.49,122.8h4M90.49,120.8v4M89.08,121.39l2.83,2.83M89.08,124.21l2.83,-2.83M89.61,122.8h4M91.61,120.8v4M90.2,121.39l2.83,2.83M90.2,124.21l2.83,-2.83M90.73,122.8h4M92.73,120.8v4M91.32,121.39l2.83,2.83M91.32,124.21l2.83,-2.83M91.85,122.8h4M93.85,120.8v4M92.44,121.39l2.83,2.83M92.44,124.21l2.83,-2.83M92.97,122.8h4M94.97,120.8v4M93.56,121.39l2.83,2.83M93.56,124.21l2.83,-2.83M94.09,122.8h4M96.09,120.8v4M94.68,121.39l2.83,2.83M94.68,124.21l2.83,-2.83M95.21,122.8h4M97.21,120.8v4M95.8,121.39l2.83,2.83M95.8,124.21l2.83,-2.83M96.33,122.8h4M98.33,120.8v4M96.92,121.39l2.83,2.83M96.92,124.21l2.83,-2.83M97.45,122.8h4M99.45,120.8v4M98.04,121.39l2.83,2.83M98.04,124.21l2.83,-2.83M98.57,122.8h4M100.57,120.8v4M99.16,121.39l2.83,2.83M99.16,124.21l2.83,-2.83M99.69,122.8h4M101.69,120.8v4M100.28,121.39l2.83,2.83M100.28,124.21l2.83,-2.83M100.81,122.8h4M102.81,120.8v4M101.4,121.39l2.83,2.83M101.4,124.21l2.83,-2.83M101.93,122.8h4M103.93,120.8v4M102.52,121.39l2.83,2.83M102.52,124.21l2.83,-2.83M103.05,122.8h4M105.05,120.8v4M103.64,121.39l2.83,2.83M103.64,124.21l2.83,-2.83M104.17,122.8h4M106.17,120.8v4M104.76,121.39l2.83,2.83M104.76,124.21l2.83,-2.83M105.29,122.8h4M107.29,120.8v4M105.88,121.39l2.83,2.83M105.88,124.21l2.83,-2.83M106.41,122.8h4M108.41,120.8v4M107,121.39l2.83,2.83M107,124.21l2.83,-2.83M107.53,122.8h4M109.53,120.8v4M108.12,121.39l2.83,2.83M108.12,124.21l2.83,-2.83M108.65,122.8h4M110.65,120.8v4M109.24,121.39l2.83,2.83M109.24,124.21l2.83,-2.83M109.77,122.8h4M111.77,120.8v4M110.36,121.39l2.83,2.83M110.36,124.21l2.83,-2.83M110.89,122.8h4M112.89,120.8v4M111.48,121.39l2.83,2.83M111.48,124.21l2.83,-2.83M112.01,122.8h4M114.01,120.8v4M112.6,121.39l2.83,2.83M112.6,124.21l2.83,-2.83M113.13,122.8h4M115.13,120.8v4M113.72,121.39l2.83,2.83M113.72,124.21l2.83,-2.83M114.25,122.8h4M116.25,120.8v4M114.84,121.39l2.83,2.83M114.84,124.21l2.83,-2.83M115.37,122.8h4M117.37,120.8v4M115.96,121.39l2.83,2.83M115.96,124.21l2.83,-2.83M116.49,122.8h4M118.49,120.8v4M117.08,121.39l2.83,2.83M117.08,124.21l2.83,-2.83M117.61,122.8h4M119.61,120.8v4M118.2,121.39l2.83,2.83M118.2,124.21l2.83,-2.83M118.73,122.8h4M120.73,120.8v4M119.32,121.39l2.83,2.83M119.32,124.21l2.83,-2.83M119.85,122.8h4M121.85,120.8v4M120.44,121.39l2.83,2.83M120.44,124.21l2.83,-2.83M120.97,122.8h4M122.97,120.8v4M121.56,121.39l2.83,2.83M121.56,124.21l2.83,-2.83M122.09,120.15h4M124.09,118.15v4M122.68,118.73l2.83,2.83M122.68,121.56l2.83,-2.83M123.21,115.86h4M125.21,113.86v4M123.8,114.45l2.83,2.83M123.8,117.28l2.83,-2.83M124.33,111.58h4M126.33,109.58v4M124.92,110.17l2.83,2.83M124.92,113l2.83,-2.83M125.45,107.3h4M127.45,105.3v4M126.04,105.89l2.83,2.83M126.04,108.72l2.83,-2.83M126.57,103.02h4M128.57,101.02v4M127.16,101.61l2.83,2.83M127.16,104.44l2.83,-2.83M127.69,98.74h4M129.69,96.74v4M128.28,97.33l2.83,2.83M128.28,100.15l2.83,-2.83M128.81,94.25h4M130.81,92.25v4M129.4,92.84l2.83,2.83M129.4,95.66l2.83,-2.83M129.93,89.62h4M131.93,87.62v4M130.52,88.21l2.83,2.83M130.52,91.04l2.83,-2.83M131.05,85h4M133.05,83v4M131.64,83.58l2.83,2.83M131.64,86.41l2.83,-2.83M132.17,80.37h4M134.17,78.37v4M132.76,78.96l2.83,2.83M132.76,81.78l2.83,-2.83M133.29,75.74h4M135.29,73.74v4M133.88,74.33l2.83,2.83M133.88,77.16l2.83,-2.83M134.41,71.12h4M136.41,69.12v4M135,69.7l2.83,2.83M135,72.53l2.83,-2.83M135.53,64.17h4M137.53,62.17v4M136.12,62.76l2.83,2.83M136.12,65.59l2.83,-2.83M136.65,56.51h4M138.65,54.51v4M137.24,55.1l2.83,2.83M137.24,57.92l2.83,-2.83M137.77,48.85h4M139.77,46.85v4M138.36,47.43l2.83,2.83M138.36,50.26l2.83,-2.83M138.89,39.39h4M140.89,37.39v4M139.48,37.97l2.83,2.83M139.48,40.8l2.83,-2.83M140.01,28.86h4M142.01,26.86v4M140.6,27.45l2.83,2.83M140.6,30.27l2.83,-2.83M141.13,18.33h4M143.13,16.33v4M141.72,16.92l2.83,2.83M141.72,19.74l2.83,-2.83M142.25,7.8h4M144.25,5.8v4M142.84,6.39l2.83,2.83M142.84,9.21l2.83,-2.83M143.37,18.33h4M145.37,16.33v4M143.96,16.92l2.83,2.83M143.96,19.74l2.83,-2.83M144.49,28.86h4M146.49,26.86v4M145.08,27.45l2.83,2.83M145.08,30.27l2.83,-2.83M145.61,39.39h4M147.61,37.39v4M146.2,37.97l2.83,2.83M146.2,40.8l2.83,-2.83M146.73,48.85h4M148.73,46.85v4M147.32,47.43l2.83,2.83M147.32,50.26l2.83,-2.83M147.85,56.51h4M149.85,54.51v4M148.44,55.1l2.83,2.83M148.44,57.92l2.83,-2.83M148.97,64.17h4M150.97,62.17v4M149.56,62.76l2.83,2.83M149.56,65.59l2.83,-2.83M150.09,71.12h4M152.09,69.12v4M150.68,69.7l2.83,2.83M150.68,72.53l2.83,-2.83M151.21,75.74h4M153.21,73.74v4M151.8,74.33l2.83,2.83M151.8,77.16l2.83,-2.83M152.33,80.37h4M154.33,78.37v4M152.92,78.96l2.83,2.83M152.92,81.78l2.83,-2.83M153.45,85h4M155.45,83v4M154.03,83.58l2.83,2.83M154.03,86.41l2.83,-2.83M154.57,89.62h4M156.57,87.62v4M155.15,88.21l2.83,2.83M155.15,91.04l2.83,-2.83M155.69,94.25h4M157.69,92.25v4M156.27,92.84l2.83,2.83M156.27,95.66l2.83,-2.83M156.81,98.74h4M158.81,96.74v4M157.39,97.33l2.83,2.83M157.39,100.15l2.83,-2.83M157.93,103.02h4M159.93,101.02v4M158.51,101.61l2.83,2.83M158.51,104.44l2.83,-2.83M159.05,107.3h4M161.05,105.3v4M159.63,105.89l2.83,2.83M159.63,108.72l2.83,-2.83M160.17,111.58h4M162.17,109.58v4M160.75,110.17l2.83,2.83M160.75,113l2.83,-2.83M161.29,115.86h4M163.29,113.86v4M161.87,114.45l2.83,2.83M161.87,117.28l2.83,-2.83M162.41,120.15h4M164.41,118.15v4M162.99,118.73l2.83,2.83M162.99,121.56l2.83,-2.83M163.53,122.8h4M165.53,120.8v4M164.11,121.39l2.83,2.83M164.11,124.21l2.83,-2.83M164.65,122.8h4M166.65,120.8v4M165.23,121.39l2.83,2.83M165.23,124.21l2.83,-2.83M165.77,122.8h4M167.77,120.8v4M166.35,121.39l2.83,2.83M166.35,124.21l2.83,-2.83M166.89,122.8h4M168.89,120.8v4M167.47,121.39l2.83,2.83M167.47,124.21l2.83,-2.83M168.01,122.8h4M170.01,120.8v4M168.59,121.39l2.83,2.83M168.59,124.21l2.83,-2.83M169.13,122.8h4M171.13,120.8v4M169.71,121.39l2.83,2.83M169.71,124.21l2.83,-2.83M170.25,122.8h4M172.25,120.8v4M170.83,121.39l2.83,2.83M170.83,124.21l2.83,-2.83M171.37,122.8h4M173.37,120.8v4M171.95,121.39l2.83,2.83M171.95,124.21l2.83,-2.83M172.49,122.8h4M174.49,120.8v4M173.07,121.39l2.83,2.83M173.07,124.21l2.83,-2.83M173.61,122.8h4M175.61,120.8v4M174.19,121.39l2.83,2.83M174.19,124.21l2.83,-2.83M174.73,122.8h4M176.73,120.8v4M175.31,121.39l2.83,2.83M175.31,124.21l2.83,-2.83M175.85,122.8h4M177.85,120.8v4M176.43,121.39l2.83,2.83M176.43,124.21l2.83,-2.83M176.97,122.8h4M178.97,120.8v4M177.55,121.39l2.83,2.83M177.55,124.21l2.83,-2.83M178.09,122.8h4M180.09,120.8v4M178.67,121.39l2.83,2.83M178.67,124.21l2.83,-2.83M179.21,122.8h4M181.21,120.8v4M179.79,121.39l2.83,2.83M179.79,124.21l2.83,-2.83M180.33,122.8h4M182.33,120.8v4M180.91,121.39l2.83,2.83M180.91,124.21l2.83,-2.83M181.45,122.8h4M183.45,120.8v4M182.03,121.39l2.83,2.83M182.03,124.21l2.83,-2.83M182.57,122.8h4M184.57,120.8v4M183.15,121.39l2.83,2.83M183.15,124.21l2.83,-2.83M183.69,122.8h4M185.69,120.8v4M184.27,121.39l2.83,2.83M184.27,124.21l2.83,-2.83M184.81,122.8h4M186.81,120.8v4M185.39,121.39l2.83,2.83M185.39,124.21l2.83,-2.83M185.93,122.8h4M187.93,120.8v4M186.51,121.39l2.83,2.83M186.51,124.21l2.83,-2.83M187.05,122.8h4M189.05,120.8v4M187.63,121.39l2.83,2.83M187.63,124.21l2.83,-2.83M188.17,122.8h4M190.17,120.8v4M188.75,121.39l2.83,2.83M188.75,124.21l2.83,-2.83M189.29,122.8h4M191.29,120.8v4M189.87,121.39l2.83,2.83M189.87,124.21l2.83,-2.83M190.41,122.8h4M192.41,120.8v4M190.99,121.39l2.83,2.83M190.99,124.21l2.83,-2.83M191.53,122.8h4M193.53,120.8v4M192.11,121.39l2.83,2.83M192.11,124.21l2.83,-2.83M192.65,122.8h4M194.65,120.8v4M193.23,121.39l2.83,2.83M193.23,124.21l2.83,-2.83M193.77,122.8h4M195.77,120.8v4M194.35,121.39l2.83,2.83M194.35,124.21l2.83,-2.83M194.89,122.8h4M196.89,120.8v4M195.47,121.39l2.83,2.83M195.47,124.21l2.83,-2.83M196.01,122.8h4M198.01,120.8v4M196.59,121.39l2.83,2.83M196.59,124.21l2.83,-2.83M197.12,122.8h4M199.12,120.8v4M197.71,121.39l2.83,2.83M197.71,124.21l2.83,-2.83M198.24,122.8h4M200.24,120.8v4M198.83,121.39l2.83,2.83M198.83,124.21l2.83,-2.83M199.36,122.8h4M201.36,120.8v4M199.95,121.39l2.83,2.83M199.95,124.21l2.83,-2.83M200.48,122.8h4M202.48,120.8v4M201.07,121.39l2.83,2.83M201.07,124.21l2.83,-2.83M201.6,122.8h4M203.6,120.8v4M202.19,121.39l2.83,2.83M202.19,124.21l2.83,-2.83M202.72,122.8h4M204.72,120.8v4M203.31,121.39l2.83,2.83M203.31,124.21l2.83,-2.83M203.84,122.8h4M205.84,120.8v4M204.43,121.39l2.83,2.83M204.43,124.21l2.83,-2.83M204.96,122.8h4M206.96,120.8v4M205.55,121.39l2.83,2.83M205.55,124.21l2.83,-2.83M206.08,122.8h4M208.08,120.8v4M206.67,121.39l2.83,2.83M206.67,124.21l2.83,-2.83M207.2,122.8h4M209.2,120.8v4M207.79,121.39l2.83,2.83M207.79,124.21l2.83,-2.83M208.32,122.8h4M210.32,120.8v4M208.91,121.39l2.83,2.83M208.91,124.21l2.83,-2.83M209.44,122.8h4M211.44,120.8v4M210.03,121.39l2.83,2.83M210.03,124.21l2.83,-2.83M210.56,122.8h4M212.56,120.8v4M211.15,121.39l2.83,2.83M211.15,124.21l2.83,-2.83M211.68,122.8h4M213.68,120.8v4M212.27,121.39l2.83,2.83M212.27,124.21l2.83,-2.83M212.8,122.8h4M214.8,120.8v4M213.39,121.39l2.83,2.83M213.39,124.21l2.83,-2.83M213.92,122.8h4M215.92,120.8v4M214.51,121.39l2.83,2.83M214.51,124.21l2.83,-2.83M215.04,122.8h4M217.04,120.8v4M215.63,121.39l2.83,2.83M215.63,124.21l2.83,-2.83M216.16,122.8h4M218.16,120.8v4M216.75,121.39l2.83,2.83M216.75,124.21l2.83,-2.83M217.28,122.8h4M219.28,120.8v4M217.87,121.39l2.83,2.83M217.87,124.21l2.83,-2.83M218.4,122.8h4M220.4,120.8v4M218.99,121.39l2.83,2.83M218.99,124.21l2.83,-2.83M219.52,122.8h4M221.52,120.8v4M220.11,121.39l2.83,2.83M220.11,124.21l2.83,-2.83M220.64,122.8h4M222.64,120.8v4M221.23,121.39l2.83,2.83M221.23,124.21l2.83,-2.83M221.76,122.8h4M223.76,120.8v4M222.35,121.39l2.83,2.83M222.35,124.21l2.83,-2.83M222.88,122.8h4M224.88,120.8v4M223.47,121.39l2.83,2.83M223.47,124.21l2.83,-2.83M224,122.8h4M226,120.8v4M224.59,121.39l2.83,2.83M224.59,124.21l2.83,-2.83M225.12,122.8h4M227.12,120.8v4M225.71,121.39l2.83,2.83M225.71,124.21l2.83,-2.83M226.24,122.8h4M228.24,120.8v4M226.83,121.39l2.83,2.83M226.83,124.21l2.83,-2.83M227.36,122.8h4M229.36,120.8v4M227.95,121.39l2.83,2.83M227.95,124.21l2.83,-2.83M228.48,122.8h4M230.48,120.8v4M229.07,121.39l2.83,2.83M229.07,124.21l2.83,-2.83M229.6,122.8h4M231.6,120.8v4M230.19,121.39l2.83,2.83M230.19,124.21l2.83,-2.83M230.72,122.8h4M232.72,120.8v4M231.31,121.39l2.83,2.83M231.31,124.21l2.83,-2.83M231.84,122.8h4M233.84,120.8v4M232.43,121.39l2.83,2.83M232.43,124.21l2.83,-2.83M232.96,122.8h4M234.96,120.8v4M233.55,121.39l2.83,2.83M233.55,124.21l2.83,-2.83M234.08,122.8h4M236.08,120.8v4M234.67,121.39l2.83,2.83M234.67,124.21l2.83,-2.83M235.2,122.8h4M237.2,120.8v4M235.79,121.39l2.83,2.83M235.79,124.21l2.83,-2.83M236.32,122.8h4M238.32,120.8v4M236.91,121.39l2.83,2.83M236.91,124.21l2.83,-2.83M237.44,122.8h4M239.44,120.8v4M238.03,121.39l2.83,2.83M238.03,124.21l2.83,-2.83M238.56,122.8h4M240.56,120.8v4M239.15,121.39l2.83,2.83M239.15,124.21l2.83,-2.83M239.68,122.8h4M241.68,120.8v4M240.27,121.39l2.83,2.83M240.27,124.21l2.83,-2.83M240.8,122.8h4M242.8,120.8v4M241.39,121.39l2.83,2.83M241.39,124.21l2.83,-2.83M241.92,122.8h4M243.92,120.8v4M242.51,121.39l2.83,2.83M242.51,124.21l2.83,-2.83M243.04,122.8h4M245.04,120.8v4M243.63,121.39l2.83,2.83M243.63,124.21l2.83,-2.83M244.16,122.8h4M246.16,120.8v4M244.75,121.39l2.83,2.83M244.75,124.21l2.83,-2.83M245.28,122.8h4M247.28,120.8v4M245.87,121.39l2.83,2.83M245.87,124.21l2.83,-2.83M246.4,122.8h4M248.4,120.8v4M246.99,121.39l2.83,2.83M246.99,124.21l2.83,-2.83M247.52,122.8h4M249.52,120.8v4M248.11,121.39l2.83,2.83M248.11,124.21l2.83,-2.83M248.64,122.8h4M250.64,120.8v4M249.23,121.39l2.83,2.83M249.23,124.21l2.83,-2.83M249.76,122.8h4M251.76,120.8v4M250.35,121.39l2.83,2.83M250.35,124.21l2.83,-2.83M250.88,122.8h4M252.88,120.8v4M251.47,121.39l2.83,2.83M251.47,124.21l2.83,-2.83M252,122.8h4M254,120.8v4M252.59,121.39l2.83,2.83M252.59,124.21l2.83,-2.83" fill="none" stroke="#1e90ff" stroke-width="1.1"/>
<polyline points="34.5,123.15 119.61,123.15 120.73,122.82 126.33,99.35 127.45,94.88 133.05,73.34 134.17,68.42 137.53,49.55 138.65,42.64 140.89,27.51 142.01,20.94 144.25,8.15 146.49,20.94 147.61,27.51 149.85,42.64 150.97,49.55 154.33,68.42 155.45,73.34 161.05,94.88 162.17,99.35 167.77,122.82 168.89,123.15 254,123.15" fill="none" stroke="#000000" stroke-width="1.4" stroke-linejoin="round" />
<polyline points="34.5,123.15 116.25,123.15 117.37,121.71 144.25,8.15 171.13,121.71 172.25,123.15 254,123.15" fill="none" stroke="#ffd800" stroke-width="1.5" stroke-linejoin="round" />
<rect x="191.4" y="13.5" width="57.5" height="49.1" fill="#fff" stroke="#8e8e8e" stroke-width="0.7"/>
<line x1="193.9" y1="18.1" x2="214" y2="18.1" stroke="#00ffff" stroke-width="1.7"/>
<text x="215.8" y="20.25" class="lg">BOC(1,1)</text>
<line x1="193.9" y1="26.4" x2="214" y2="26.4" stroke="#55a51c" stroke-width="1.7"/>
<path d="M202.05,24L206.25,26.4L202.05,28.8Z" fill="none" stroke="#55a51c" stroke-width="1.9" stroke-linejoin="round"/>
<text x="215.8" y="28.55" class="lg">ASPeCT</text>
<line x1="193.9" y1="34.5" x2="214" y2="34.5" stroke="#ff0000" stroke-width="2.1"/>
<circle cx="203.95" cy="34.5" r="2.1" fill="none" stroke="#ff0000" stroke-width="1.9"/>
<text x="215.8" y="36.65" class="lg">algorithm A</text>
<line x1="193.9" y1="42.4" x2="214" y2="42.4" stroke="#1e90ff" stroke-width="1.8"/>
<path d="M202.54,40.99l2.83,2.83M202.54,43.81l2.83,-2.83" stroke="#1e90ff" stroke-width="0.6" fill="none"/>
<path d="M203.95,40.4v4" stroke="#1e90ff" stroke-width="1.2" fill="none"/>
<text x="215.8" y="44.55" class="lg">RSSA</text>
<line x1="193.9" y1="50.3" x2="214" y2="50.3" stroke="#000000" stroke-width="1.9"/>
<text x="215.8" y="52.45" class="lg">LASOA</text>
<line x1="193.9" y1="58.3" x2="214" y2="58.3" stroke="#ffd800" stroke-width="1.7"/>
<text x="215.8" y="60.45" class="lg">algorithm B</text>
<rect x="50" y="87.2" width="37.4" height="24.2" rx="1.2" fill="#fdfdfd" stroke="#d2d2d2" stroke-width="0.8"/>
<text x="53.5" y="97.4" class="dt">X <tspan class="dv">-0.5091</tspan></text>
<text x="53.5" y="106.5" class="dt">Y <tspan class="dv">0.09621</tspan></text>
<circle cx="88.4" cy="112" r="1.25" fill="#111"/>
<rect x="52" y="124.6" width="35.8" height="23.2" rx="1.2" fill="#fdfdfd" stroke="#d2d2d2" stroke-width="0.8"/>
<text x="55.5" y="134.8" class="dt">X <tspan class="dv">-0.5091</tspan></text>
<text x="55.5" y="143.9" class="dt">Y <tspan class="dv">0</tspan></text>
<circle cx="88.5" cy="122.8" r="1.25" fill="#111"/>
<text x="128.9" y="216.6" class="cap" text-anchor="middle">(a)</text>
<line x1="319.8" y1="4.95" x2="319.8" y2="181.9" stroke="#c0c0c0" stroke-width="1.6"/>
<line x1="543.7" y1="4.95" x2="543.7" y2="181.9" stroke="#c0c0c0" stroke-width="1.6"/>
<line x1="319.3" y1="5.45" x2="544.2" y2="5.45" stroke="#8c8c8c" stroke-width="1"/>
<line x1="319.3" y1="181.4" x2="544.2" y2="181.4" stroke="#8c8c8c" stroke-width="1"/>
<path d="M375.78,181.4v-2.2M375.78,5.45v2.2M431.75,181.4v-2.2M431.75,5.45v2.2M487.73,181.4v-2.2M487.73,5.45v2.2M319.8,161.85h2.2M543.7,161.85h-2.2M319.8,142.3h2.2M543.7,142.3h-2.2M319.8,122.75h2.2M543.7,122.75h-2.2M319.8,103.2h2.2M543.7,103.2h-2.2M319.8,83.65h2.2M543.7,83.65h-2.2M319.8,64.1h2.2M543.7,64.1h-2.2M319.8,44.55h2.2M543.7,44.55h-2.2M319.8,25h2.2M543.7,25h-2.2" stroke="#9a9a9a" stroke-width="0.8" fill="none"/>
<text transform="translate(315.52,190.2) scale(1.38,1)" class="tk">−</text>
<text x="320.73" y="190.2" class="tk">1</text>
<text transform="translate(368.98,190.2) scale(1.38,1)" class="tk">−</text>
<text x="374.19" y="190.2" class="tk">0.5</text>
<text x="431.75" y="190.2" class="tk" text-anchor="middle">0</text>
<text x="487.73" y="190.2" class="tk" text-anchor="middle">0.5</text>
<text x="543.7" y="190.2" class="tk" text-anchor="middle">1</text>
<text transform="translate(303.51,183.7) scale(1.38,1)" class="tk">−</text>
<text x="308.73" y="183.7" class="tk">0.8</text>
<text transform="translate(303.51,164.15) scale(1.38,1)" class="tk">−</text>
<text x="308.73" y="164.15" class="tk">0.6</text>
<text transform="translate(303.51,144.6) scale(1.38,1)" class="tk">−</text>
<text x="308.73" y="144.6" class="tk">0.4</text>
<text transform="translate(303.51,125.05) scale(1.38,1)" class="tk">−</text>
<text x="308.73" y="125.05" class="tk">0.2</text>
<text x="317.1" y="105.5" class="tk" text-anchor="end">0</text>
<text x="317.1" y="85.95" class="tk" text-anchor="end">0.2</text>
<text x="317.1" y="66.4" class="tk" text-anchor="end">0.4</text>
<text x="317.1" y="46.85" class="tk" text-anchor="end">0.6</text>
<text x="317.1" y="27.3" class="tk" text-anchor="end">0.8</text>
<text x="317.1" y="7.75" class="tk" text-anchor="end">1</text>
<text x="431.75" y="200.75" class="lb" text-anchor="middle">Code phase (sampling point)</text>
<text transform="translate(298.8,93.42) rotate(-90)" class="lb" text-anchor="middle">Normalized correlation peak</text>
<polyline points="319.8,103.2 322.31,103.2 349.67,127.64 377.03,54.32 404.39,176.51 431.75,5.45 459.11,176.51 486.47,54.32 513.83,127.64 541.19,103.2 543.7,103.2" fill="none" stroke="#00ffff" stroke-width="1.4" stroke-linejoin="round" />
<polyline points="319.8,103.2 320.94,103.11 322.08,103.01 323.23,102.92 324.37,102.83 325.51,102.73 326.65,102.64 327.8,102.55 328.94,102.46 330.08,102.36 331.22,102.27 332.37,102.18 333.51,102.08 334.65,101.99 335.79,101.9 336.94,101.79 338.08,101.64 339.22,101.49 340.36,101.34 341.5,101.19 342.65,101.04 343.79,100.89 344.93,100.74 346.07,100.59 347.22,100.76 348.36,101.01 349.5,101.27 350.64,101.52 351.79,101.52 352.93,101.32 354.07,101.13 355.21,100.93 356.36,101.07 357.5,101.42 358.64,101.77 359.78,102.11 360.92,102.46 362.07,102.73 363.21,102.43 364.35,101.73 365.49,100.8 366.64,99.65 367.78,98.27 368.92,96.66 370.06,94.83 371.21,92.77 372.35,90.49 373.49,87.98 374.63,85.24 375.78,82.28 376.92,79.09 378.06,81.81 379.2,85.19 380.34,88.57 381.49,91.95 382.63,95.33 383.77,98.71 384.91,102.08 386.06,103.2 387.2,103.2 388.34,103.2 389.48,103.2 390.63,103.2 391.77,99.53 392.91,95.31 394.05,91.08 395.19,86.86 396.34,82.64 397.48,78.41 398.62,74.19 399.76,69.96 400.91,65.74 402.05,61.51 403.19,57.29 404.33,53.06 405.48,58.79 406.62,65.02 407.76,71.26 408.9,77.49 410.05,83.72 411.19,89.96 412.33,96.19 413.47,102.43 414.61,103.2 415.76,103.2 416.9,103.2 418.04,103.2 419.18,103.2 420.33,103.2 421.47,97.4 422.61,90.14 423.75,82.89 424.9,75.63 426.04,66.24 427.18,54.59 428.32,42.94 429.47,30.6 430.61,18.02 431.75,5.45 432.89,18.02 434.03,30.6 435.18,42.94 436.32,54.59 437.46,66.24 438.6,75.63 439.75,82.89 440.89,90.14 442.03,97.4 443.17,103.2 444.32,103.2 445.46,103.2 446.6,103.2 447.74,103.2 448.89,103.2 450.03,102.43 451.17,96.19 452.31,89.96 453.45,83.72 454.6,77.49 455.74,71.26 456.88,65.02 458.02,58.79 459.17,53.06 460.31,57.29 461.45,61.51 462.59,65.74 463.74,69.96 464.88,74.19 466.02,78.41 467.16,82.64 468.31,86.86 469.45,91.08 470.59,95.31 471.73,99.53 472.87,103.2 474.02,103.2 475.16,103.2 476.3,103.2 477.44,103.2 478.59,102.08 479.73,98.71 480.87,95.33 482.01,91.95 483.16,88.57 484.3,85.19 485.44,81.81 486.58,79.09 487.73,82.28 488.87,85.24 490.01,87.98 491.15,90.49 492.29,92.77 493.44,94.83 494.58,96.66 495.72,98.27 496.86,99.65 498.01,100.8 499.15,101.73 500.29,102.43 501.43,102.73 502.58,102.46 503.72,102.11 504.86,101.77 506,101.42 507.14,101.07 508.29,100.93 509.43,101.13 510.57,101.32 511.71,101.52 512.86,101.52 514,101.27 515.14,101.01 516.28,100.76 517.43,100.59 518.57,100.74 519.71,100.89 520.85,101.04 522,101.19 523.14,101.34 524.28,101.49 525.42,101.64 526.56,101.79 527.71,101.9 528.85,101.99 529.99,102.08 531.13,102.18 532.28,102.27 533.42,102.36 534.56,102.46 535.7,102.55 536.85,102.64 537.99,102.73 539.13,102.83 540.27,102.92 541.42,103.01 542.56,103.11 543.7,103.2" fill="none" stroke="#55a51c" stroke-width="1.6" stroke-linejoin="round" />
<path d="M317.88,100.8L322.2,103.2L317.88,105.6ZM319.02,100.71L323.34,103.11L319.02,105.51ZM320.16,100.61L324.48,103.01L320.16,105.41ZM321.31,100.52L325.63,102.92L321.31,105.32ZM322.45,100.43L326.77,102.83L322.45,105.23ZM323.59,100.33L327.91,102.73L323.59,105.13ZM324.73,100.24L329.05,102.64L324.73,105.04ZM325.88,100.15L330.2,102.55L325.88,104.95ZM327.02,100.06L331.34,102.46L327.02,104.86ZM328.16,99.96L332.48,102.36L328.16,104.76ZM329.3,99.87L333.62,102.27L329.3,104.67ZM330.45,99.78L334.77,102.18L330.45,104.58ZM331.59,99.68L335.91,102.08L331.59,104.48ZM332.73,99.59L337.05,101.99L332.73,104.39ZM333.87,99.5L338.19,101.9L333.87,104.3ZM335.02,99.39L339.34,101.79L335.02,104.19ZM336.16,99.24L340.48,101.64L336.16,104.04ZM337.3,99.09L341.62,101.49L337.3,103.89ZM338.44,98.94L342.76,101.34L338.44,103.74ZM339.58,98.79L343.9,101.19L339.58,103.59ZM340.73,98.64L345.05,101.04L340.73,103.44ZM341.87,98.49L346.19,100.89L341.87,103.29ZM343.01,98.34L347.33,100.74L343.01,103.14ZM344.15,98.19L348.47,100.59L344.15,102.99ZM345.3,98.36L349.62,100.76L345.3,103.16ZM346.44,98.61L350.76,101.01L346.44,103.41ZM347.58,98.87L351.9,101.27L347.58,103.67ZM348.72,99.12L353.04,101.52L348.72,103.92ZM349.87,99.12L354.19,101.52L349.87,103.92ZM351.01,98.92L355.33,101.32L351.01,103.72ZM352.15,98.73L356.47,101.13L352.15,103.53ZM353.29,98.53L357.61,100.93L353.29,103.33ZM354.44,98.67L358.76,101.07L354.44,103.47ZM355.58,99.02L359.9,101.42L355.58,103.82ZM356.72,99.37L361.04,101.77L356.72,104.17ZM357.86,99.71L362.18,102.11L357.86,104.51ZM359,100.06L363.32,102.46L359,104.86ZM360.15,100.33L364.47,102.73L360.15,105.13ZM361.29,100.03L365.61,102.43L361.29,104.83ZM362.43,99.33L366.75,101.73L362.43,104.13ZM363.57,98.4L367.89,100.8L363.57,103.2ZM364.72,97.25L369.04,99.65L364.72,102.05ZM365.86,95.87L370.18,98.27L365.86,100.67ZM367,94.26L371.32,96.66L367,99.06ZM368.14,92.43L372.46,94.83L368.14,97.23ZM369.29,90.37L373.61,92.77L369.29,95.17ZM370.43,88.09L374.75,90.49L370.43,92.89ZM371.57,85.58L375.89,87.98L371.57,90.38ZM372.71,82.84L377.03,85.24L372.71,87.64ZM373.86,79.88L378.18,82.28L373.86,84.68ZM375,76.69L379.32,79.09L375,81.49ZM376.14,79.41L380.46,81.81L376.14,84.21ZM377.28,82.79L381.6,85.19L377.28,87.59ZM378.42,86.17L382.74,88.57L378.42,90.97ZM379.57,89.55L383.89,91.95L379.57,94.35ZM380.71,92.93L385.03,95.33L380.71,97.73ZM381.85,96.31L386.17,98.71L381.85,101.11ZM382.99,99.68L387.31,102.08L382.99,104.48ZM384.14,100.8L388.46,103.2L384.14,105.6ZM385.28,100.8L389.6,103.2L385.28,105.6ZM386.42,100.8L390.74,103.2L386.42,105.6ZM387.56,100.8L391.88,103.2L387.56,105.6ZM388.71,100.8L393.03,103.2L388.71,105.6ZM389.85,97.13L394.17,99.53L389.85,101.93ZM390.99,92.91L395.31,95.31L390.99,97.71ZM392.13,88.68L396.45,91.08L392.13,93.48ZM393.27,84.46L397.59,86.86L393.27,89.26ZM394.42,80.24L398.74,82.64L394.42,85.04ZM395.56,76.01L399.88,78.41L395.56,80.81ZM396.7,71.79L401.02,74.19L396.7,76.59ZM397.84,67.56L402.16,69.96L397.84,72.36ZM398.99,63.34L403.31,65.74L398.99,68.14ZM400.13,59.11L404.45,61.51L400.13,63.91ZM401.27,54.89L405.59,57.29L401.27,59.69ZM402.41,50.66L406.73,53.06L402.41,55.46ZM403.56,56.39L407.88,58.79L403.56,61.19ZM404.7,62.62L409.02,65.02L404.7,67.42ZM405.84,68.86L410.16,71.26L405.84,73.66ZM406.98,75.09L411.3,77.49L406.98,79.89ZM408.13,81.32L412.45,83.72L408.13,86.12ZM409.27,87.56L413.59,89.96L409.27,92.36ZM410.41,93.79L414.73,96.19L410.41,98.59ZM411.55,100.03L415.87,102.43L411.55,104.83ZM412.69,100.8L417.01,103.2L412.69,105.6ZM413.84,100.8L418.16,103.2L413.84,105.6ZM414.98,100.8L419.3,103.2L414.98,105.6ZM416.12,100.8L420.44,103.2L416.12,105.6ZM417.26,100.8L421.58,103.2L417.26,105.6ZM418.41,100.8L422.73,103.2L418.41,105.6ZM419.55,95L423.87,97.4L419.55,99.8ZM420.69,87.74L425.01,90.14L420.69,92.54ZM421.83,80.49L426.15,82.89L421.83,85.29ZM422.98,73.23L427.3,75.63L422.98,78.03ZM424.12,63.84L428.44,66.24L424.12,68.64ZM425.26,52.19L429.58,54.59L425.26,56.99ZM426.4,40.54L430.72,42.94L426.4,45.34ZM427.55,28.2L431.87,30.6L427.55,33ZM428.69,15.62L433.01,18.02L428.69,20.42ZM429.83,3.05L434.15,5.45L429.83,7.85ZM430.97,15.62L435.29,18.02L430.97,20.42ZM432.11,28.2L436.43,30.6L432.11,33ZM433.26,40.54L437.58,42.94L433.26,45.34ZM434.4,52.19L438.72,54.59L434.4,56.99ZM435.54,63.84L439.86,66.24L435.54,68.64ZM436.68,73.23L441,75.63L436.68,78.03ZM437.83,80.49L442.15,82.89L437.83,85.29ZM438.97,87.74L443.29,90.14L438.97,92.54ZM440.11,95L444.43,97.4L440.11,99.8ZM441.25,100.8L445.57,103.2L441.25,105.6ZM442.4,100.8L446.72,103.2L442.4,105.6ZM443.54,100.8L447.86,103.2L443.54,105.6ZM444.68,100.8L449,103.2L444.68,105.6ZM445.82,100.8L450.14,103.2L445.82,105.6ZM446.97,100.8L451.29,103.2L446.97,105.6ZM448.11,100.03L452.43,102.43L448.11,104.83ZM449.25,93.79L453.57,96.19L449.25,98.59ZM450.39,87.56L454.71,89.96L450.39,92.36ZM451.53,81.32L455.85,83.72L451.53,86.12ZM452.68,75.09L457,77.49L452.68,79.89ZM453.82,68.86L458.14,71.26L453.82,73.66ZM454.96,62.62L459.28,65.02L454.96,67.42ZM456.1,56.39L460.42,58.79L456.1,61.19ZM457.25,50.66L461.57,53.06L457.25,55.46ZM458.39,54.89L462.71,57.29L458.39,59.69ZM459.53,59.11L463.85,61.51L459.53,63.91ZM460.67,63.34L464.99,65.74L460.67,68.14ZM461.82,67.56L466.14,69.96L461.82,72.36ZM462.96,71.79L467.28,74.19L462.96,76.59ZM464.1,76.01L468.42,78.41L464.1,80.81ZM465.24,80.24L469.56,82.64L465.24,85.04ZM466.39,84.46L470.71,86.86L466.39,89.26ZM467.53,88.68L471.85,91.08L467.53,93.48ZM468.67,92.91L472.99,95.31L468.67,97.71ZM469.81,97.13L474.13,99.53L469.81,101.93ZM470.95,100.8L475.27,103.2L470.95,105.6ZM472.1,100.8L476.42,103.2L472.1,105.6ZM473.24,100.8L477.56,103.2L473.24,105.6ZM474.38,100.8L478.7,103.2L474.38,105.6ZM475.52,100.8L479.84,103.2L475.52,105.6ZM476.67,99.68L480.99,102.08L476.67,104.48ZM477.81,96.31L482.13,98.71L477.81,101.11ZM478.95,92.93L483.27,95.33L478.95,97.73ZM480.09,89.55L484.41,91.95L480.09,94.35ZM481.24,86.17L485.56,88.57L481.24,90.97ZM482.38,82.79L486.7,85.19L482.38,87.59ZM483.52,79.41L487.84,81.81L483.52,84.21ZM484.66,76.69L488.98,79.09L484.66,81.49ZM485.81,79.88L490.12,82.28L485.81,84.68ZM486.95,82.84L491.27,85.24L486.95,87.64ZM488.09,85.58L492.41,87.98L488.09,90.38ZM489.23,88.09L493.55,90.49L489.23,92.89ZM490.37,90.37L494.69,92.77L490.37,95.17ZM491.52,92.43L495.84,94.83L491.52,97.23ZM492.66,94.26L496.98,96.66L492.66,99.06ZM493.8,95.87L498.12,98.27L493.8,100.67ZM494.94,97.25L499.26,99.65L494.94,102.05ZM496.09,98.4L500.41,100.8L496.09,103.2ZM497.23,99.33L501.55,101.73L497.23,104.13ZM498.37,100.03L502.69,102.43L498.37,104.83ZM499.51,100.33L503.83,102.73L499.51,105.13ZM500.66,100.06L504.98,102.46L500.66,104.86ZM501.8,99.71L506.12,102.11L501.8,104.51ZM502.94,99.37L507.26,101.77L502.94,104.17ZM504.08,99.02L508.4,101.42L504.08,103.82ZM505.22,98.67L509.54,101.07L505.22,103.47ZM506.37,98.53L510.69,100.93L506.37,103.33ZM507.51,98.73L511.83,101.13L507.51,103.53ZM508.65,98.92L512.97,101.32L508.65,103.72ZM509.79,99.12L514.11,101.52L509.79,103.92ZM510.94,99.12L515.26,101.52L510.94,103.92ZM512.08,98.87L516.4,101.27L512.08,103.67ZM513.22,98.61L517.54,101.01L513.22,103.41ZM514.36,98.36L518.68,100.76L514.36,103.16ZM515.51,98.19L519.83,100.59L515.51,102.99ZM516.65,98.34L520.97,100.74L516.65,103.14ZM517.79,98.49L522.11,100.89L517.79,103.29ZM518.93,98.64L523.25,101.04L518.93,103.44ZM520.08,98.79L524.4,101.19L520.08,103.59ZM521.22,98.94L525.54,101.34L521.22,103.74ZM522.36,99.09L526.68,101.49L522.36,103.89ZM523.5,99.24L527.82,101.64L523.5,104.04ZM524.64,99.39L528.96,101.79L524.64,104.19ZM525.79,99.5L530.11,101.9L525.79,104.3ZM526.93,99.59L531.25,101.99L526.93,104.39ZM528.07,99.68L532.39,102.08L528.07,104.48ZM529.21,99.78L533.53,102.18L529.21,104.58ZM530.36,99.87L534.68,102.27L530.36,104.67ZM531.5,99.96L535.82,102.36L531.5,104.76ZM532.64,100.06L536.96,102.46L532.64,104.86ZM533.78,100.15L538.1,102.55L533.78,104.95ZM534.93,100.24L539.25,102.64L534.93,105.04ZM536.07,100.33L540.39,102.73L536.07,105.13ZM537.21,100.43L541.53,102.83L537.21,105.23ZM538.35,100.52L542.67,102.92L538.35,105.32ZM539.5,100.61L543.82,103.01L539.5,105.41ZM540.64,100.71L544.96,103.11L540.64,105.51ZM541.78,100.8L546.1,103.2L541.78,105.6Z" fill="none" stroke="#55a51c" stroke-width="1.5" stroke-linejoin="round"/>
<polyline points="319.8,103.2 320.94,103.2 322.08,103.2 323.23,103.2 324.37,103.2 325.51,103.2 326.65,103.2 327.8,103.2 328.94,103.2 330.08,103.2 331.22,103.2 332.37,103.2 333.51,103.2 334.65,103.2 335.79,103.2 336.94,103.2 338.08,103.2 339.22,103.2 340.36,103.2 341.5,103.2 342.65,103.2 343.79,103.2 344.93,103.2 346.07,103.2 347.22,103.2 348.36,103.2 349.5,103.2 350.64,103.2 351.79,103.2 352.93,103.2 354.07,103.2 355.21,103.2 356.36,103.2 357.5,103.2 358.64,103.2 359.78,103.2 360.92,103.2 362.07,103.2 363.21,103.2 364.35,103.2 365.49,103.2 366.64,103.2 367.78,103.2 368.92,103.2 370.06,103.2 371.21,103.2 372.35,103.2 373.49,103.2 374.63,103.2 375.78,103.2 376.92,103.2 378.06,103.2 379.2,103.2 380.34,103.2 381.49,103.2 382.63,103.2 383.77,103.2 384.91,103.2 386.06,103.2 387.2,103.2 388.34,103.2 389.48,103.2 390.63,103.2 391.77,99.64 392.91,95.54 394.05,91.44 395.19,87.34 396.34,83.23 397.48,79.13 398.62,75.03 399.76,70.93 400.91,66.83 402.05,62.73 403.19,58.63 404.33,54.53 405.48,60.08 406.62,66.13 407.76,72.19 408.9,78.24 410.05,84.29 411.19,90.34 412.33,96.4 413.47,102.45 414.61,103.2 415.76,103.2 416.9,103.2 418.04,103.2 419.18,103.2 420.33,103.2 421.47,97.4 422.61,90.14 423.75,82.89 424.9,75.63 426.04,66.24 427.18,54.59 428.32,42.94 429.47,30.6 430.61,18.02 431.75,5.45 432.89,18.02 434.03,30.6 435.18,42.94 436.32,54.59 437.46,66.24 438.6,75.63 439.75,82.89 440.89,90.14 442.03,97.4 443.17,103.2 444.32,103.2 445.46,103.2 446.6,103.2 447.74,103.2 448.89,103.2 450.03,102.45 451.17,96.4 452.31,90.34 453.45,84.29 454.6,78.24 455.74,72.19 456.88,66.13 458.02,60.08 459.17,54.53 460.31,58.63 461.45,62.73 462.59,66.83 463.74,70.93 464.88,75.03 466.02,79.13 467.16,83.23 468.31,87.34 469.45,91.44 470.59,95.54 471.73,99.64 472.87,103.2 474.02,103.2 475.16,103.2 476.3,103.2 477.44,103.2 478.59,103.2 479.73,103.2 480.87,103.2 482.01,103.2 483.16,103.2 484.3,103.2 485.44,103.2 486.58,103.2 487.73,103.2 488.87,103.2 490.01,103.2 491.15,103.2 492.29,103.2 493.44,103.2 494.58,103.2 495.72,103.2 496.86,103.2 498.01,103.2 499.15,103.2 500.29,103.2 501.43,103.2 502.58,103.2 503.72,103.2 504.86,103.2 506,103.2 507.14,103.2 508.29,103.2 509.43,103.2 510.57,103.2 511.71,103.2 512.86,103.2 514,103.2 515.14,103.2 516.28,103.2 517.43,103.2 518.57,103.2 519.71,103.2 520.85,103.2 522,103.2 523.14,103.2 524.28,103.2 525.42,103.2 526.56,103.2 527.71,103.2 528.85,103.2 529.99,103.2 531.13,103.2 532.28,103.2 533.42,103.2 534.56,103.2 535.7,103.2 536.85,103.2 537.99,103.2 539.13,103.2 540.27,103.2 541.42,103.2 542.56,103.2 543.7,103.2" fill="none" stroke="#ff0000" stroke-width="1.7" stroke-linejoin="round" />
<path d="M317.65,103.2a2.15,2.15 0 1 0 4.3,0a2.15,2.15 0 1 0 -4.3,0M318.79,103.2a2.15,2.15 0 1 0 4.3,0a2.15,2.15 0 1 0 -4.3,0M319.93,103.2a2.15,2.15 0 1 0 4.3,0a2.15,2.15 0 1 0 -4.3,0M321.08,103.2a2.15,2.15 0 1 0 4.3,0a2.15,2.15 0 1 0 -4.3,0M322.22,103.2a2.15,2.15 0 1 0 4.3,0a2.15,2.15 0 1 0 -4.3,0M323.36,103.2a2.15,2.15 0 1 0 4.3,0a2.15,2.15 0 1 0 -4.3,0M324.5,103.2a2.15,2.15 0 1 0 4.3,0a2.15,2.15 0 1 0 -4.3,0M325.65,103.2a2.15,2.15 0 1 0 4.3,0a2.15,2.15 0 1 0 -4.3,0M326.79,103.2a2.15,2.15 0 1 0 4.3,0a2.15,2.15 0 1 0 -4.3,0M327.93,103.2a2.15,2.15 0 1 0 4.3,0a2.15,2.15 0 1 0 -4.3,0M329.07,103.2a2.15,2.15 0 1 0 4.3,0a2.15,2.15 0 1 0 -4.3,0M330.22,103.2a2.15,2.15 0 1 0 4.3,0a2.15,2.15 0 1 0 -4.3,0M331.36,103.2a2.15,2.15 0 1 0 4.3,0a2.15,2.15 0 1 0 -4.3,0M332.5,103.2a2.15,2.15 0 1 0 4.3,0a2.15,2.15 0 1 0 -4.3,0M333.64,103.2a2.15,2.15 0 1 0 4.3,0a2.15,2.15 0 1 0 -4.3,0M334.79,103.2a2.15,2.15 0 1 0 4.3,0a2.15,2.15 0 1 0 -4.3,0M335.93,103.2a2.15,2.15 0 1 0 4.3,0a2.15,2.15 0 1 0 -4.3,0M337.07,103.2a2.15,2.15 0 1 0 4.3,0a2.15,2.15 0 1 0 -4.3,0M338.21,103.2a2.15,2.15 0 1 0 4.3,0a2.15,2.15 0 1 0 -4.3,0M339.35,103.2a2.15,2.15 0 1 0 4.3,0a2.15,2.15 0 1 0 -4.3,0M340.5,103.2a2.15,2.15 0 1 0 4.3,0a2.15,2.15 0 1 0 -4.3,0M341.64,103.2a2.15,2.15 0 1 0 4.3,0a2.15,2.15 0 1 0 -4.3,0M342.78,103.2a2.15,2.15 0 1 0 4.3,0a2.15,2.15 0 1 0 -4.3,0M343.92,103.2a2.15,2.15 0 1 0 4.3,0a2.15,2.15 0 1 0 -4.3,0M345.07,103.2a2.15,2.15 0 1 0 4.3,0a2.15,2.15 0 1 0 -4.3,0M346.21,103.2a2.15,2.15 0 1 0 4.3,0a2.15,2.15 0 1 0 -4.3,0M347.35,103.2a2.15,2.15 0 1 0 4.3,0a2.15,2.15 0 1 0 -4.3,0M348.49,103.2a2.15,2.15 0 1 0 4.3,0a2.15,2.15 0 1 0 -4.3,0M349.64,103.2a2.15,2.15 0 1 0 4.3,0a2.15,2.15 0 1 0 -4.3,0M350.78,103.2a2.15,2.15 0 1 0 4.3,0a2.15,2.15 0 1 0 -4.3,0M351.92,103.2a2.15,2.15 0 1 0 4.3,0a2.15,2.15 0 1 0 -4.3,0M353.06,103.2a2.15,2.15 0 1 0 4.3,0a2.15,2.15 0 1 0 -4.3,0M354.21,103.2a2.15,2.15 0 1 0 4.3,0a2.15,2.15 0 1 0 -4.3,0M355.35,103.2a2.15,2.15 0 1 0 4.3,0a2.15,2.15 0 1 0 -4.3,0M356.49,103.2a2.15,2.15 0 1 0 4.3,0a2.15,2.15 0 1 0 -4.3,0M357.63,103.2a2.15,2.15 0 1 0 4.3,0a2.15,2.15 0 1 0 -4.3,0M358.77,103.2a2.15,2.15 0 1 0 4.3,0a2.15,2.15 0 1 0 -4.3,0M359.92,103.2a2.15,2.15 0 1 0 4.3,0a2.15,2.15 0 1 0 -4.3,0M361.06,103.2a2.15,2.15 0 1 0 4.3,0a2.15,2.15 0 1 0 -4.3,0M362.2,103.2a2.15,2.15 0 1 0 4.3,0a2.15,2.15 0 1 0 -4.3,0M363.34,103.2a2.15,2.15 0 1 0 4.3,0a2.15,2.15 0 1 0 -4.3,0M364.49,103.2a2.15,2.15 0 1 0 4.3,0a2.15,2.15 0 1 0 -4.3,0M365.63,103.2a2.15,2.15 0 1 0 4.3,0a2.15,2.15 0 1 0 -4.3,0M366.77,103.2a2.15,2.15 0 1 0 4.3,0a2.15,2.15 0 1 0 -4.3,0M367.91,103.2a2.15,2.15 0 1 0 4.3,0a2.15,2.15 0 1 0 -4.3,0M369.06,103.2a2.15,2.15 0 1 0 4.3,0a2.15,2.15 0 1 0 -4.3,0M370.2,103.2a2.15,2.15 0 1 0 4.3,0a2.15,2.15 0 1 0 -4.3,0M371.34,103.2a2.15,2.15 0 1 0 4.3,0a2.15,2.15 0 1 0 -4.3,0M372.48,103.2a2.15,2.15 0 1 0 4.3,0a2.15,2.15 0 1 0 -4.3,0M373.63,103.2a2.15,2.15 0 1 0 4.3,0a2.15,2.15 0 1 0 -4.3,0M374.77,103.2a2.15,2.15 0 1 0 4.3,0a2.15,2.15 0 1 0 -4.3,0M375.91,103.2a2.15,2.15 0 1 0 4.3,0a2.15,2.15 0 1 0 -4.3,0M377.05,103.2a2.15,2.15 0 1 0 4.3,0a2.15,2.15 0 1 0 -4.3,0M378.19,103.2a2.15,2.15 0 1 0 4.3,0a2.15,2.15 0 1 0 -4.3,0M379.34,103.2a2.15,2.15 0 1 0 4.3,0a2.15,2.15 0 1 0 -4.3,0M380.48,103.2a2.15,2.15 0 1 0 4.3,0a2.15,2.15 0 1 0 -4.3,0M381.62,103.2a2.15,2.15 0 1 0 4.3,0a2.15,2.15 0 1 0 -4.3,0M382.76,103.2a2.15,2.15 0 1 0 4.3,0a2.15,2.15 0 1 0 -4.3,0M383.91,103.2a2.15,2.15 0 1 0 4.3,0a2.15,2.15 0 1 0 -4.3,0M385.05,103.2a2.15,2.15 0 1 0 4.3,0a2.15,2.15 0 1 0 -4.3,0M386.19,103.2a2.15,2.15 0 1 0 4.3,0a2.15,2.15 0 1 0 -4.3,0M387.33,103.2a2.15,2.15 0 1 0 4.3,0a2.15,2.15 0 1 0 -4.3,0M388.48,103.2a2.15,2.15 0 1 0 4.3,0a2.15,2.15 0 1 0 -4.3,0M389.62,99.64a2.15,2.15 0 1 0 4.3,0a2.15,2.15 0 1 0 -4.3,0M390.76,95.54a2.15,2.15 0 1 0 4.3,0a2.15,2.15 0 1 0 -4.3,0M391.9,91.44a2.15,2.15 0 1 0 4.3,0a2.15,2.15 0 1 0 -4.3,0M393.04,87.34a2.15,2.15 0 1 0 4.3,0a2.15,2.15 0 1 0 -4.3,0M394.19,83.23a2.15,2.15 0 1 0 4.3,0a2.15,2.15 0 1 0 -4.3,0M395.33,79.13a2.15,2.15 0 1 0 4.3,0a2.15,2.15 0 1 0 -4.3,0M396.47,75.03a2.15,2.15 0 1 0 4.3,0a2.15,2.15 0 1 0 -4.3,0M397.61,70.93a2.15,2.15 0 1 0 4.3,0a2.15,2.15 0 1 0 -4.3,0M398.76,66.83a2.15,2.15 0 1 0 4.3,0a2.15,2.15 0 1 0 -4.3,0M399.9,62.73a2.15,2.15 0 1 0 4.3,0a2.15,2.15 0 1 0 -4.3,0M401.04,58.63a2.15,2.15 0 1 0 4.3,0a2.15,2.15 0 1 0 -4.3,0M402.18,54.53a2.15,2.15 0 1 0 4.3,0a2.15,2.15 0 1 0 -4.3,0M403.33,60.08a2.15,2.15 0 1 0 4.3,0a2.15,2.15 0 1 0 -4.3,0M404.47,66.13a2.15,2.15 0 1 0 4.3,0a2.15,2.15 0 1 0 -4.3,0M405.61,72.19a2.15,2.15 0 1 0 4.3,0a2.15,2.15 0 1 0 -4.3,0M406.75,78.24a2.15,2.15 0 1 0 4.3,0a2.15,2.15 0 1 0 -4.3,0M407.9,84.29a2.15,2.15 0 1 0 4.3,0a2.15,2.15 0 1 0 -4.3,0M409.04,90.34a2.15,2.15 0 1 0 4.3,0a2.15,2.15 0 1 0 -4.3,0M410.18,96.4a2.15,2.15 0 1 0 4.3,0a2.15,2.15 0 1 0 -4.3,0M411.32,102.45a2.15,2.15 0 1 0 4.3,0a2.15,2.15 0 1 0 -4.3,0M412.46,103.2a2.15,2.15 0 1 0 4.3,0a2.15,2.15 0 1 0 -4.3,0M413.61,103.2a2.15,2.15 0 1 0 4.3,0a2.15,2.15 0 1 0 -4.3,0M414.75,103.2a2.15,2.15 0 1 0 4.3,0a2.15,2.15 0 1 0 -4.3,0M415.89,103.2a2.15,2.15 0 1 0 4.3,0a2.15,2.15 0 1 0 -4.3,0M417.03,103.2a2.15,2.15 0 1 0 4.3,0a2.15,2.15 0 1 0 -4.3,0M418.18,103.2a2.15,2.15 0 1 0 4.3,0a2.15,2.15 0 1 0 -4.3,0M419.32,97.4a2.15,2.15 0 1 0 4.3,0a2.15,2.15 0 1 0 -4.3,0M420.46,90.14a2.15,2.15 0 1 0 4.3,0a2.15,2.15 0 1 0 -4.3,0M421.6,82.89a2.15,2.15 0 1 0 4.3,0a2.15,2.15 0 1 0 -4.3,0M422.75,75.63a2.15,2.15 0 1 0 4.3,0a2.15,2.15 0 1 0 -4.3,0M423.89,66.24a2.15,2.15 0 1 0 4.3,0a2.15,2.15 0 1 0 -4.3,0M425.03,54.59a2.15,2.15 0 1 0 4.3,0a2.15,2.15 0 1 0 -4.3,0M426.17,42.94a2.15,2.15 0 1 0 4.3,0a2.15,2.15 0 1 0 -4.3,0M427.32,30.6a2.15,2.15 0 1 0 4.3,0a2.15,2.15 0 1 0 -4.3,0M428.46,18.02a2.15,2.15 0 1 0 4.3,0a2.15,2.15 0 1 0 -4.3,0M429.6,5.45a2.15,2.15 0 1 0 4.3,0a2.15,2.15 0 1 0 -4.3,0M430.74,18.02a2.15,2.15 0 1 0 4.3,0a2.15,2.15 0 1 0 -4.3,0M431.88,30.6a2.15,2.15 0 1 0 4.3,0a2.15,2.15 0 1 0 -4.3,0M433.03,42.94a2.15,2.15 0 1 0 4.3,0a2.15,2.15 0 1 0 -4.3,0M434.17,54.59a2.15,2.15 0 1 0 4.3,0a2.15,2.15 0 1 0 -4.3,0M435.31,66.24a2.15,2.15 0 1 0 4.3,0a2.15,2.15 0 1 0 -4.3,0M436.45,75.63a2.15,2.15 0 1 0 4.3,0a2.15,2.15 0 1 0 -4.3,0M437.6,82.89a2.15,2.15 0 1 0 4.3,0a2.15,2.15 0 1 0 -4.3,0M438.74,90.14a2.15,2.15 0 1 0 4.3,0a2.15,2.15 0 1 0 -4.3,0M439.88,97.4a2.15,2.15 0 1 0 4.3,0a2.15,2.15 0 1 0 -4.3,0M441.02,103.2a2.15,2.15 0 1 0 4.3,0a2.15,2.15 0 1 0 -4.3,0M442.17,103.2a2.15,2.15 0 1 0 4.3,0a2.15,2.15 0 1 0 -4.3,0M443.31,103.2a2.15,2.15 0 1 0 4.3,0a2.15,2.15 0 1 0 -4.3,0M444.45,103.2a2.15,2.15 0 1 0 4.3,0a2.15,2.15 0 1 0 -4.3,0M445.59,103.2a2.15,2.15 0 1 0 4.3,0a2.15,2.15 0 1 0 -4.3,0M446.74,103.2a2.15,2.15 0 1 0 4.3,0a2.15,2.15 0 1 0 -4.3,0M447.88,102.45a2.15,2.15 0 1 0 4.3,0a2.15,2.15 0 1 0 -4.3,0M449.02,96.4a2.15,2.15 0 1 0 4.3,0a2.15,2.15 0 1 0 -4.3,0M450.16,90.34a2.15,2.15 0 1 0 4.3,0a2.15,2.15 0 1 0 -4.3,0M451.3,84.29a2.15,2.15 0 1 0 4.3,0a2.15,2.15 0 1 0 -4.3,0M452.45,78.24a2.15,2.15 0 1 0 4.3,0a2.15,2.15 0 1 0 -4.3,0M453.59,72.19a2.15,2.15 0 1 0 4.3,0a2.15,2.15 0 1 0 -4.3,0M454.73,66.13a2.15,2.15 0 1 0 4.3,0a2.15,2.15 0 1 0 -4.3,0M455.87,60.08a2.15,2.15 0 1 0 4.3,0a2.15,2.15 0 1 0 -4.3,0M457.02,54.53a2.15,2.15 0 1 0 4.3,0a2.15,2.15 0 1 0 -4.3,0M458.16,58.63a2.15,2.15 0 1 0 4.3,0a2.15,2.15 0 1 0 -4.3,0M459.3,62.73a2.15,2.15 0 1 0 4.3,0a2.15,2.15 0 1 0 -4.3,0M460.44,66.83a2.15,2.15 0 1 0 4.3,0a2.15,2.15 0 1 0 -4.3,0M461.59,70.93a2.15,2.15 0 1 0 4.3,0a2.15,2.15 0 1 0 -4.3,0M462.73,75.03a2.15,2.15 0 1 0 4.3,0a2.15,2.15 0 1 0 -4.3,0M463.87,79.13a2.15,2.15 0 1 0 4.3,0a2.15,2.15 0 1 0 -4.3,0M465.01,83.23a2.15,2.15 0 1 0 4.3,0a2.15,2.15 0 1 0 -4.3,0M466.16,87.34a2.15,2.15 0 1 0 4.3,0a2.15,2.15 0 1 0 -4.3,0M467.3,91.44a2.15,2.15 0 1 0 4.3,0a2.15,2.15 0 1 0 -4.3,0M468.44,95.54a2.15,2.15 0 1 0 4.3,0a2.15,2.15 0 1 0 -4.3,0M469.58,99.64a2.15,2.15 0 1 0 4.3,0a2.15,2.15 0 1 0 -4.3,0M470.72,103.2a2.15,2.15 0 1 0 4.3,0a2.15,2.15 0 1 0 -4.3,0M471.87,103.2a2.15,2.15 0 1 0 4.3,0a2.15,2.15 0 1 0 -4.3,0M473.01,103.2a2.15,2.15 0 1 0 4.3,0a2.15,2.15 0 1 0 -4.3,0M474.15,103.2a2.15,2.15 0 1 0 4.3,0a2.15,2.15 0 1 0 -4.3,0M475.29,103.2a2.15,2.15 0 1 0 4.3,0a2.15,2.15 0 1 0 -4.3,0M476.44,103.2a2.15,2.15 0 1 0 4.3,0a2.15,2.15 0 1 0 -4.3,0M477.58,103.2a2.15,2.15 0 1 0 4.3,0a2.15,2.15 0 1 0 -4.3,0M478.72,103.2a2.15,2.15 0 1 0 4.3,0a2.15,2.15 0 1 0 -4.3,0M479.86,103.2a2.15,2.15 0 1 0 4.3,0a2.15,2.15 0 1 0 -4.3,0M481.01,103.2a2.15,2.15 0 1 0 4.3,0a2.15,2.15 0 1 0 -4.3,0M482.15,103.2a2.15,2.15 0 1 0 4.3,0a2.15,2.15 0 1 0 -4.3,0M483.29,103.2a2.15,2.15 0 1 0 4.3,0a2.15,2.15 0 1 0 -4.3,0M484.43,103.2a2.15,2.15 0 1 0 4.3,0a2.15,2.15 0 1 0 -4.3,0M485.58,103.2a2.15,2.15 0 1 0 4.3,0a2.15,2.15 0 1 0 -4.3,0M486.72,103.2a2.15,2.15 0 1 0 4.3,0a2.15,2.15 0 1 0 -4.3,0M487.86,103.2a2.15,2.15 0 1 0 4.3,0a2.15,2.15 0 1 0 -4.3,0M489,103.2a2.15,2.15 0 1 0 4.3,0a2.15,2.15 0 1 0 -4.3,0M490.14,103.2a2.15,2.15 0 1 0 4.3,0a2.15,2.15 0 1 0 -4.3,0M491.29,103.2a2.15,2.15 0 1 0 4.3,0a2.15,2.15 0 1 0 -4.3,0M492.43,103.2a2.15,2.15 0 1 0 4.3,0a2.15,2.15 0 1 0 -4.3,0M493.57,103.2a2.15,2.15 0 1 0 4.3,0a2.15,2.15 0 1 0 -4.3,0M494.71,103.2a2.15,2.15 0 1 0 4.3,0a2.15,2.15 0 1 0 -4.3,0M495.86,103.2a2.15,2.15 0 1 0 4.3,0a2.15,2.15 0 1 0 -4.3,0M497,103.2a2.15,2.15 0 1 0 4.3,0a2.15,2.15 0 1 0 -4.3,0M498.14,103.2a2.15,2.15 0 1 0 4.3,0a2.15,2.15 0 1 0 -4.3,0M499.28,103.2a2.15,2.15 0 1 0 4.3,0a2.15,2.15 0 1 0 -4.3,0M500.43,103.2a2.15,2.15 0 1 0 4.3,0a2.15,2.15 0 1 0 -4.3,0M501.57,103.2a2.15,2.15 0 1 0 4.3,0a2.15,2.15 0 1 0 -4.3,0M502.71,103.2a2.15,2.15 0 1 0 4.3,0a2.15,2.15 0 1 0 -4.3,0M503.85,103.2a2.15,2.15 0 1 0 4.3,0a2.15,2.15 0 1 0 -4.3,0M504.99,103.2a2.15,2.15 0 1 0 4.3,0a2.15,2.15 0 1 0 -4.3,0M506.14,103.2a2.15,2.15 0 1 0 4.3,0a2.15,2.15 0 1 0 -4.3,0M507.28,103.2a2.15,2.15 0 1 0 4.3,0a2.15,2.15 0 1 0 -4.3,0M508.42,103.2a2.15,2.15 0 1 0 4.3,0a2.15,2.15 0 1 0 -4.3,0M509.56,103.2a2.15,2.15 0 1 0 4.3,0a2.15,2.15 0 1 0 -4.3,0M510.71,103.2a2.15,2.15 0 1 0 4.3,0a2.15,2.15 0 1 0 -4.3,0M511.85,103.2a2.15,2.15 0 1 0 4.3,0a2.15,2.15 0 1 0 -4.3,0M512.99,103.2a2.15,2.15 0 1 0 4.3,0a2.15,2.15 0 1 0 -4.3,0M514.13,103.2a2.15,2.15 0 1 0 4.3,0a2.15,2.15 0 1 0 -4.3,0M515.28,103.2a2.15,2.15 0 1 0 4.3,0a2.15,2.15 0 1 0 -4.3,0M516.42,103.2a2.15,2.15 0 1 0 4.3,0a2.15,2.15 0 1 0 -4.3,0M517.56,103.2a2.15,2.15 0 1 0 4.3,0a2.15,2.15 0 1 0 -4.3,0M518.7,103.2a2.15,2.15 0 1 0 4.3,0a2.15,2.15 0 1 0 -4.3,0M519.85,103.2a2.15,2.15 0 1 0 4.3,0a2.15,2.15 0 1 0 -4.3,0M520.99,103.2a2.15,2.15 0 1 0 4.3,0a2.15,2.15 0 1 0 -4.3,0M522.13,103.2a2.15,2.15 0 1 0 4.3,0a2.15,2.15 0 1 0 -4.3,0M523.27,103.2a2.15,2.15 0 1 0 4.3,0a2.15,2.15 0 1 0 -4.3,0M524.41,103.2a2.15,2.15 0 1 0 4.3,0a2.15,2.15 0 1 0 -4.3,0M525.56,103.2a2.15,2.15 0 1 0 4.3,0a2.15,2.15 0 1 0 -4.3,0M526.7,103.2a2.15,2.15 0 1 0 4.3,0a2.15,2.15 0 1 0 -4.3,0M527.84,103.2a2.15,2.15 0 1 0 4.3,0a2.15,2.15 0 1 0 -4.3,0M528.98,103.2a2.15,2.15 0 1 0 4.3,0a2.15,2.15 0 1 0 -4.3,0M530.13,103.2a2.15,2.15 0 1 0 4.3,0a2.15,2.15 0 1 0 -4.3,0M531.27,103.2a2.15,2.15 0 1 0 4.3,0a2.15,2.15 0 1 0 -4.3,0M532.41,103.2a2.15,2.15 0 1 0 4.3,0a2.15,2.15 0 1 0 -4.3,0M533.55,103.2a2.15,2.15 0 1 0 4.3,0a2.15,2.15 0 1 0 -4.3,0M534.7,103.2a2.15,2.15 0 1 0 4.3,0a2.15,2.15 0 1 0 -4.3,0M535.84,103.2a2.15,2.15 0 1 0 4.3,0a2.15,2.15 0 1 0 -4.3,0M536.98,103.2a2.15,2.15 0 1 0 4.3,0a2.15,2.15 0 1 0 -4.3,0M538.12,103.2a2.15,2.15 0 1 0 4.3,0a2.15,2.15 0 1 0 -4.3,0M539.27,103.2a2.15,2.15 0 1 0 4.3,0a2.15,2.15 0 1 0 -4.3,0M540.41,103.2a2.15,2.15 0 1 0 4.3,0a2.15,2.15 0 1 0 -4.3,0M541.55,103.2a2.15,2.15 0 1 0 4.3,0a2.15,2.15 0 1 0 -4.3,0" fill="none" stroke="#ff0000" stroke-width="1.4"/>
<polyline points="319.8,103.2 421.47,103.2 422.61,97.38 426.04,76.1 427.18,66.35 428.32,52.76 429.47,38.98 431.75,5.45 434.03,38.98 435.18,52.76 436.32,66.35 437.46,76.1 440.89,97.38 442.03,103.2 543.7,103.2" fill="none" stroke="#1e90ff" stroke-width="1.6" stroke-linejoin="round" />
<path d="M317.8,103.2h4M319.8,101.2v4M318.39,101.79l2.83,2.83M318.39,104.61l2.83,-2.83M318.94,103.2h4M320.94,101.2v4M319.53,101.79l2.83,2.83M319.53,104.61l2.83,-2.83M320.08,103.2h4M322.08,101.2v4M320.67,101.79l2.83,2.83M320.67,104.61l2.83,-2.83M321.23,103.2h4M323.23,101.2v4M321.81,101.79l2.83,2.83M321.81,104.61l2.83,-2.83M322.37,103.2h4M324.37,101.2v4M322.96,101.79l2.83,2.83M322.96,104.61l2.83,-2.83M323.51,103.2h4M325.51,101.2v4M324.1,101.79l2.83,2.83M324.1,104.61l2.83,-2.83M324.65,103.2h4M326.65,101.2v4M325.24,101.79l2.83,2.83M325.24,104.61l2.83,-2.83M325.8,103.2h4M327.8,101.2v4M326.38,101.79l2.83,2.83M326.38,104.61l2.83,-2.83M326.94,103.2h4M328.94,101.2v4M327.52,101.79l2.83,2.83M327.52,104.61l2.83,-2.83M328.08,103.2h4M330.08,101.2v4M328.67,101.79l2.83,2.83M328.67,104.61l2.83,-2.83M329.22,103.2h4M331.22,101.2v4M329.81,101.79l2.83,2.83M329.81,104.61l2.83,-2.83M330.37,103.2h4M332.37,101.2v4M330.95,101.79l2.83,2.83M330.95,104.61l2.83,-2.83M331.51,103.2h4M333.51,101.2v4M332.09,101.79l2.83,2.83M332.09,104.61l2.83,-2.83M332.65,103.2h4M334.65,101.2v4M333.24,101.79l2.83,2.83M333.24,104.61l2.83,-2.83M333.79,103.2h4M335.79,101.2v4M334.38,101.79l2.83,2.83M334.38,104.61l2.83,-2.83M334.94,103.2h4M336.94,101.2v4M335.52,101.79l2.83,2.83M335.52,104.61l2.83,-2.83M336.08,103.2h4M338.08,101.2v4M336.66,101.79l2.83,2.83M336.66,104.61l2.83,-2.83M337.22,103.2h4M339.22,101.2v4M337.81,101.79l2.83,2.83M337.81,104.61l2.83,-2.83M338.36,103.2h4M340.36,101.2v4M338.95,101.79l2.83,2.83M338.95,104.61l2.83,-2.83M339.5,103.2h4M341.5,101.2v4M340.09,101.79l2.83,2.83M340.09,104.61l2.83,-2.83M340.65,103.2h4M342.65,101.2v4M341.23,101.79l2.83,2.83M341.23,104.61l2.83,-2.83M341.79,103.2h4M343.79,101.2v4M342.38,101.79l2.83,2.83M342.38,104.61l2.83,-2.83M342.93,103.2h4M344.93,101.2v4M343.52,101.79l2.83,2.83M343.52,104.61l2.83,-2.83M344.07,103.2h4M346.07,101.2v4M344.66,101.79l2.83,2.83M344.66,104.61l2.83,-2.83M345.22,103.2h4M347.22,101.2v4M345.8,101.79l2.83,2.83M345.8,104.61l2.83,-2.83M346.36,103.2h4M348.36,101.2v4M346.94,101.79l2.83,2.83M346.94,104.61l2.83,-2.83M347.5,103.2h4M349.5,101.2v4M348.09,101.79l2.83,2.83M348.09,104.61l2.83,-2.83M348.64,103.2h4M350.64,101.2v4M349.23,101.79l2.83,2.83M349.23,104.61l2.83,-2.83M349.79,103.2h4M351.79,101.2v4M350.37,101.79l2.83,2.83M350.37,104.61l2.83,-2.83M350.93,103.2h4M352.93,101.2v4M351.51,101.79l2.83,2.83M351.51,104.61l2.83,-2.83M352.07,103.2h4M354.07,101.2v4M352.66,101.79l2.83,2.83M352.66,104.61l2.83,-2.83M353.21,103.2h4M355.21,101.2v4M353.8,101.79l2.83,2.83M353.8,104.61l2.83,-2.83M354.36,103.2h4M356.36,101.2v4M354.94,101.79l2.83,2.83M354.94,104.61l2.83,-2.83M355.5,103.2h4M357.5,101.2v4M356.08,101.79l2.83,2.83M356.08,104.61l2.83,-2.83M356.64,103.2h4M358.64,101.2v4M357.23,101.79l2.83,2.83M357.23,104.61l2.83,-2.83M357.78,103.2h4M359.78,101.2v4M358.37,101.79l2.83,2.83M358.37,104.61l2.83,-2.83M358.92,103.2h4M360.92,101.2v4M359.51,101.79l2.83,2.83M359.51,104.61l2.83,-2.83M360.07,103.2h4M362.07,101.2v4M360.65,101.79l2.83,2.83M360.65,104.61l2.83,-2.83M361.21,103.2h4M363.21,101.2v4M361.8,101.79l2.83,2.83M361.8,104.61l2.83,-2.83M362.35,103.2h4M364.35,101.2v4M362.94,101.79l2.83,2.83M362.94,104.61l2.83,-2.83M363.49,103.2h4M365.49,101.2v4M364.08,101.79l2.83,2.83M364.08,104.61l2.83,-2.83M364.64,103.2h4M366.64,101.2v4M365.22,101.79l2.83,2.83M365.22,104.61l2.83,-2.83M365.78,103.2h4M367.78,101.2v4M366.36,101.79l2.83,2.83M366.36,104.61l2.83,-2.83M366.92,103.2h4M368.92,101.2v4M367.51,101.79l2.83,2.83M367.51,104.61l2.83,-2.83M368.06,103.2h4M370.06,101.2v4M368.65,101.79l2.83,2.83M368.65,104.61l2.83,-2.83M369.21,103.2h4M371.21,101.2v4M369.79,101.79l2.83,2.83M369.79,104.61l2.83,-2.83M370.35,103.2h4M372.35,101.2v4M370.93,101.79l2.83,2.83M370.93,104.61l2.83,-2.83M371.49,103.2h4M373.49,101.2v4M372.08,101.79l2.83,2.83M372.08,104.61l2.83,-2.83M372.63,103.2h4M374.63,101.2v4M373.22,101.79l2.83,2.83M373.22,104.61l2.83,-2.83M373.78,103.2h4M375.78,101.2v4M374.36,101.79l2.83,2.83M374.36,104.61l2.83,-2.83M374.92,103.2h4M376.92,101.2v4M375.5,101.79l2.83,2.83M375.5,104.61l2.83,-2.83M376.06,103.2h4M378.06,101.2v4M376.65,101.79l2.83,2.83M376.65,104.61l2.83,-2.83M377.2,103.2h4M379.2,101.2v4M377.79,101.79l2.83,2.83M377.79,104.61l2.83,-2.83M378.34,103.2h4M380.34,101.2v4M378.93,101.79l2.83,2.83M378.93,104.61l2.83,-2.83M379.49,103.2h4M381.49,101.2v4M380.07,101.79l2.83,2.83M380.07,104.61l2.83,-2.83M380.63,103.2h4M382.63,101.2v4M381.22,101.79l2.83,2.83M381.22,104.61l2.83,-2.83M381.77,103.2h4M383.77,101.2v4M382.36,101.79l2.83,2.83M382.36,104.61l2.83,-2.83M382.91,103.2h4M384.91,101.2v4M383.5,101.79l2.83,2.83M383.5,104.61l2.83,-2.83M384.06,103.2h4M386.06,101.2v4M384.64,101.79l2.83,2.83M384.64,104.61l2.83,-2.83M385.2,103.2h4M387.2,101.2v4M385.78,101.79l2.83,2.83M385.78,104.61l2.83,-2.83M386.34,103.2h4M388.34,101.2v4M386.93,101.79l2.83,2.83M386.93,104.61l2.83,-2.83M387.48,103.2h4M389.48,101.2v4M388.07,101.79l2.83,2.83M388.07,104.61l2.83,-2.83M388.63,103.2h4M390.63,101.2v4M389.21,101.79l2.83,2.83M389.21,104.61l2.83,-2.83M389.77,103.2h4M391.77,101.2v4M390.35,101.79l2.83,2.83M390.35,104.61l2.83,-2.83M390.91,103.2h4M392.91,101.2v4M391.5,101.79l2.83,2.83M391.5,104.61l2.83,-2.83M392.05,103.2h4M394.05,101.2v4M392.64,101.79l2.83,2.83M392.64,104.61l2.83,-2.83M393.19,103.2h4M395.19,101.2v4M393.78,101.79l2.83,2.83M393.78,104.61l2.83,-2.83M394.34,103.2h4M396.34,101.2v4M394.92,101.79l2.83,2.83M394.92,104.61l2.83,-2.83M395.48,103.2h4M397.48,101.2v4M396.07,101.79l2.83,2.83M396.07,104.61l2.83,-2.83M396.62,103.2h4M398.62,101.2v4M397.21,101.79l2.83,2.83M397.21,104.61l2.83,-2.83M397.76,103.2h4M399.76,101.2v4M398.35,101.79l2.83,2.83M398.35,104.61l2.83,-2.83M398.91,103.2h4M400.91,101.2v4M399.49,101.79l2.83,2.83M399.49,104.61l2.83,-2.83M400.05,103.2h4M402.05,101.2v4M400.63,101.79l2.83,2.83M400.63,104.61l2.83,-2.83M401.19,103.2h4M403.19,101.2v4M401.78,101.79l2.83,2.83M401.78,104.61l2.83,-2.83M402.33,103.2h4M404.33,101.2v4M402.92,101.79l2.83,2.83M402.92,104.61l2.83,-2.83M403.48,103.2h4M405.48,101.2v4M404.06,101.79l2.83,2.83M404.06,104.61l2.83,-2.83M404.62,103.2h4M406.62,101.2v4M405.2,101.79l2.83,2.83M405.2,104.61l2.83,-2.83M405.76,103.2h4M407.76,101.2v4M406.35,101.79l2.83,2.83M406.35,104.61l2.83,-2.83M406.9,103.2h4M408.9,101.2v4M407.49,101.79l2.83,2.83M407.49,104.61l2.83,-2.83M408.05,103.2h4M410.05,101.2v4M408.63,101.79l2.83,2.83M408.63,104.61l2.83,-2.83M409.19,103.2h4M411.19,101.2v4M409.77,101.79l2.83,2.83M409.77,104.61l2.83,-2.83M410.33,103.2h4M412.33,101.2v4M410.92,101.79l2.83,2.83M410.92,104.61l2.83,-2.83M411.47,103.2h4M413.47,101.2v4M412.06,101.79l2.83,2.83M412.06,104.61l2.83,-2.83M412.61,103.2h4M414.61,101.2v4M413.2,101.79l2.83,2.83M413.2,104.61l2.83,-2.83M413.76,103.2h4M415.76,101.2v4M414.34,101.79l2.83,2.83M414.34,104.61l2.83,-2.83M414.9,103.2h4M416.9,101.2v4M415.49,101.79l2.83,2.83M415.49,104.61l2.83,-2.83M416.04,103.2h4M418.04,101.2v4M416.63,101.79l2.83,2.83M416.63,104.61l2.83,-2.83M417.18,103.2h4M419.18,101.2v4M417.77,101.79l2.83,2.83M417.77,104.61l2.83,-2.83M418.33,103.2h4M420.33,101.2v4M418.91,101.79l2.83,2.83M418.91,104.61l2.83,-2.83M418.9,103.2h4M420.9,101.2v4M419.48,101.79l2.83,2.83M419.48,104.61l2.83,-2.83M419.47,103.2h4M421.47,101.2v4M420.05,101.79l2.83,2.83M420.05,104.61l2.83,-2.83M420.04,100.93h4M422.04,98.93v4M420.63,99.52l2.83,2.83M420.63,102.34l2.83,-2.83M420.61,97.38h4M422.61,95.38v4M421.2,95.97l2.83,2.83M421.2,98.8l2.83,-2.83M421.18,93.84h4M423.18,91.84v4M421.77,92.42l2.83,2.83M421.77,95.25l2.83,-2.83M421.75,90.29h4M423.75,88.29v4M422.34,88.88l2.83,2.83M422.34,91.7l2.83,-2.83M422.32,86.74h4M424.32,84.74v4M422.91,85.33l2.83,2.83M422.91,88.16l2.83,-2.83M422.9,83.2h4M424.9,81.2v4M423.48,81.78l2.83,2.83M423.48,84.61l2.83,-2.83M423.47,79.65h4M425.47,77.65v4M424.05,78.24l2.83,2.83M424.05,81.07l2.83,-2.83M424.04,76.1h4M426.04,74.1v4M424.62,74.69l2.83,2.83M424.62,77.52l2.83,-2.83M424.61,72.56h4M426.61,70.56v4M425.2,71.14l2.83,2.83M425.2,73.97l2.83,-2.83M425.18,66.35h4M427.18,64.35v4M425.77,64.93l2.83,2.83M425.77,67.76l2.83,-2.83M425.75,59.55h4M427.75,57.55v4M426.34,58.14l2.83,2.83M426.34,60.97l2.83,-2.83M426.32,52.76h4M428.32,50.76v4M426.91,51.34l2.83,2.83M426.91,54.17l2.83,-2.83M426.89,45.96h4M428.89,43.96v4M427.48,44.55l2.83,2.83M427.48,47.38l2.83,-2.83M427.47,38.98h4M429.47,36.98v4M428.05,37.57l2.83,2.83M428.05,40.4l2.83,-2.83M428.04,30.6h4M430.04,28.6v4M428.62,29.19l2.83,2.83M428.62,32.01l2.83,-2.83M428.61,22.22h4M430.61,20.22v4M429.19,20.8l2.83,2.83M429.19,23.63l2.83,-2.83M429.18,13.83h4M431.18,11.83v4M429.76,12.42l2.83,2.83M429.76,15.25l2.83,-2.83M429.75,5.45h4M431.75,3.45v4M430.34,4.04l2.83,2.83M430.34,6.86l2.83,-2.83M430.32,13.83h4M432.32,11.83v4M430.91,12.42l2.83,2.83M430.91,15.25l2.83,-2.83M430.89,22.22h4M432.89,20.22v4M431.48,20.8l2.83,2.83M431.48,23.63l2.83,-2.83M431.46,30.6h4M433.46,28.6v4M432.05,29.19l2.83,2.83M432.05,32.01l2.83,-2.83M432.03,38.98h4M434.03,36.98v4M432.62,37.57l2.83,2.83M432.62,40.4l2.83,-2.83M432.61,45.96h4M434.61,43.96v4M433.19,44.55l2.83,2.83M433.19,47.38l2.83,-2.83M433.18,52.76h4M435.18,50.76v4M433.76,51.34l2.83,2.83M433.76,54.17l2.83,-2.83M433.75,59.55h4M435.75,57.55v4M434.33,58.14l2.83,2.83M434.33,60.97l2.83,-2.83M434.32,66.35h4M436.32,64.35v4M434.91,64.93l2.83,2.83M434.91,67.76l2.83,-2.83M434.89,72.56h4M436.89,70.56v4M435.48,71.14l2.83,2.83M435.48,73.97l2.83,-2.83M435.46,76.1h4M437.46,74.1v4M436.05,74.69l2.83,2.83M436.05,77.52l2.83,-2.83M436.03,79.65h4M438.03,77.65v4M436.62,78.24l2.83,2.83M436.62,81.07l2.83,-2.83M436.6,83.2h4M438.6,81.2v4M437.19,81.78l2.83,2.83M437.19,84.61l2.83,-2.83M437.18,86.74h4M439.18,84.74v4M437.76,85.33l2.83,2.83M437.76,88.16l2.83,-2.83M437.75,90.29h4M439.75,88.29v4M438.33,88.88l2.83,2.83M438.33,91.7l2.83,-2.83M438.32,93.84h4M440.32,91.84v4M438.9,92.42l2.83,2.83M438.9,95.25l2.83,-2.83M438.89,97.38h4M440.89,95.38v4M439.47,95.97l2.83,2.83M439.47,98.8l2.83,-2.83M439.46,100.93h4M441.46,98.93v4M440.05,99.52l2.83,2.83M440.05,102.34l2.83,-2.83M440.03,103.2h4M442.03,101.2v4M440.62,101.79l2.83,2.83M440.62,104.61l2.83,-2.83M440.6,103.2h4M442.6,101.2v4M441.19,101.79l2.83,2.83M441.19,104.61l2.83,-2.83M441.17,103.2h4M443.17,101.2v4M441.76,101.79l2.83,2.83M441.76,104.61l2.83,-2.83M442.32,103.2h4M444.32,101.2v4M442.9,101.79l2.83,2.83M442.9,104.61l2.83,-2.83M443.46,103.2h4M445.46,101.2v4M444.04,101.79l2.83,2.83M444.04,104.61l2.83,-2.83M444.6,103.2h4M446.6,101.2v4M445.19,101.79l2.83,2.83M445.19,104.61l2.83,-2.83M445.74,103.2h4M447.74,101.2v4M446.33,101.79l2.83,2.83M446.33,104.61l2.83,-2.83M446.89,103.2h4M448.89,101.2v4M447.47,101.79l2.83,2.83M447.47,104.61l2.83,-2.83M448.03,103.2h4M450.03,101.2v4M448.61,101.79l2.83,2.83M448.61,104.61l2.83,-2.83M449.17,103.2h4M451.17,101.2v4M449.76,101.79l2.83,2.83M449.76,104.61l2.83,-2.83M450.31,103.2h4M452.31,101.2v4M450.9,101.79l2.83,2.83M450.9,104.61l2.83,-2.83M451.45,103.2h4M453.45,101.2v4M452.04,101.79l2.83,2.83M452.04,104.61l2.83,-2.83M452.6,103.2h4M454.6,101.2v4M453.18,101.79l2.83,2.83M453.18,104.61l2.83,-2.83M453.74,103.2h4M455.74,101.2v4M454.33,101.79l2.83,2.83M454.33,104.61l2.83,-2.83M454.88,103.2h4M456.88,101.2v4M455.47,101.79l2.83,2.83M455.47,104.61l2.83,-2.83M456.02,103.2h4M458.02,101.2v4M456.61,101.79l2.83,2.83M456.61,104.61l2.83,-2.83M457.17,103.2h4M459.17,101.2v4M457.75,101.79l2.83,2.83M457.75,104.61l2.83,-2.83M458.31,103.2h4M460.31,101.2v4M458.89,101.79l2.83,2.83M458.89,104.61l2.83,-2.83M459.45,103.2h4M461.45,101.2v4M460.04,101.79l2.83,2.83M460.04,104.61l2.83,-2.83M460.59,103.2h4M462.59,101.2v4M461.18,101.79l2.83,2.83M461.18,104.61l2.83,-2.83M461.74,103.2h4M463.74,101.2v4M462.32,101.79l2.83,2.83M462.32,104.61l2.83,-2.83M462.88,103.2h4M464.88,101.2v4M463.46,101.79l2.83,2.83M463.46,104.61l2.83,-2.83M464.02,103.2h4M466.02,101.2v4M464.61,101.79l2.83,2.83M464.61,104.61l2.83,-2.83M465.16,103.2h4M467.16,101.2v4M465.75,101.79l2.83,2.83M465.75,104.61l2.83,-2.83M466.31,103.2h4M468.31,101.2v4M466.89,101.79l2.83,2.83M466.89,104.61l2.83,-2.83M467.45,103.2h4M469.45,101.2v4M468.03,101.79l2.83,2.83M468.03,104.61l2.83,-2.83M468.59,103.2h4M470.59,101.2v4M469.18,101.79l2.83,2.83M469.18,104.61l2.83,-2.83M469.73,103.2h4M471.73,101.2v4M470.32,101.79l2.83,2.83M470.32,104.61l2.83,-2.83M470.87,103.2h4M472.87,101.2v4M471.46,101.79l2.83,2.83M471.46,104.61l2.83,-2.83M472.02,103.2h4M474.02,101.2v4M472.6,101.79l2.83,2.83M472.6,104.61l2.83,-2.83M473.16,103.2h4M475.16,101.2v4M473.75,101.79l2.83,2.83M473.75,104.61l2.83,-2.83M474.3,103.2h4M476.3,101.2v4M474.89,101.79l2.83,2.83M474.89,104.61l2.83,-2.83M475.44,103.2h4M477.44,101.2v4M476.03,101.79l2.83,2.83M476.03,104.61l2.83,-2.83M476.59,103.2h4M478.59,101.2v4M477.17,101.79l2.83,2.83M477.17,104.61l2.83,-2.83M477.73,103.2h4M479.73,101.2v4M478.31,101.79l2.83,2.83M478.31,104.61l2.83,-2.83M478.87,103.2h4M480.87,101.2v4M479.46,101.79l2.83,2.83M479.46,104.61l2.83,-2.83M480.01,103.2h4M482.01,101.2v4M480.6,101.79l2.83,2.83M480.6,104.61l2.83,-2.83M481.16,103.2h4M483.16,101.2v4M481.74,101.79l2.83,2.83M481.74,104.61l2.83,-2.83M482.3,103.2h4M484.3,101.2v4M482.88,101.79l2.83,2.83M482.88,104.61l2.83,-2.83M483.44,103.2h4M485.44,101.2v4M484.03,101.79l2.83,2.83M484.03,104.61l2.83,-2.83M484.58,103.2h4M486.58,101.2v4M485.17,101.79l2.83,2.83M485.17,104.61l2.83,-2.83M485.73,103.2h4M487.73,101.2v4M486.31,101.79l2.83,2.83M486.31,104.61l2.83,-2.83M486.87,103.2h4M488.87,101.2v4M487.45,101.79l2.83,2.83M487.45,104.61l2.83,-2.83M488.01,103.2h4M490.01,101.2v4M488.6,101.79l2.83,2.83M488.6,104.61l2.83,-2.83M489.15,103.2h4M491.15,101.2v4M489.74,101.79l2.83,2.83M489.74,104.61l2.83,-2.83M490.29,103.2h4M492.29,101.2v4M490.88,101.79l2.83,2.83M490.88,104.61l2.83,-2.83M491.44,103.2h4M493.44,101.2v4M492.02,101.79l2.83,2.83M492.02,104.61l2.83,-2.83M492.58,103.2h4M494.58,101.2v4M493.17,101.79l2.83,2.83M493.17,104.61l2.83,-2.83M493.72,103.2h4M495.72,101.2v4M494.31,101.79l2.83,2.83M494.31,104.61l2.83,-2.83M494.86,103.2h4M496.86,101.2v4M495.45,101.79l2.83,2.83M495.45,104.61l2.83,-2.83M496.01,103.2h4M498.01,101.2v4M496.59,101.79l2.83,2.83M496.59,104.61l2.83,-2.83M497.15,103.2h4M499.15,101.2v4M497.73,101.79l2.83,2.83M497.73,104.61l2.83,-2.83M498.29,103.2h4M500.29,101.2v4M498.88,101.79l2.83,2.83M498.88,104.61l2.83,-2.83M499.43,103.2h4M501.43,101.2v4M500.02,101.79l2.83,2.83M500.02,104.61l2.83,-2.83M500.58,103.2h4M502.58,101.2v4M501.16,101.79l2.83,2.83M501.16,104.61l2.83,-2.83M501.72,103.2h4M503.72,101.2v4M502.3,101.79l2.83,2.83M502.3,104.61l2.83,-2.83M502.86,103.2h4M504.86,101.2v4M503.45,101.79l2.83,2.83M503.45,104.61l2.83,-2.83M504,103.2h4M506,101.2v4M504.59,101.79l2.83,2.83M504.59,104.61l2.83,-2.83M505.14,103.2h4M507.14,101.2v4M505.73,101.79l2.83,2.83M505.73,104.61l2.83,-2.83M506.29,103.2h4M508.29,101.2v4M506.87,101.79l2.83,2.83M506.87,104.61l2.83,-2.83M507.43,103.2h4M509.43,101.2v4M508.02,101.79l2.83,2.83M508.02,104.61l2.83,-2.83M508.57,103.2h4M510.57,101.2v4M509.16,101.79l2.83,2.83M509.16,104.61l2.83,-2.83M509.71,103.2h4M511.71,101.2v4M510.3,101.79l2.83,2.83M510.3,104.61l2.83,-2.83M510.86,103.2h4M512.86,101.2v4M511.44,101.79l2.83,2.83M511.44,104.61l2.83,-2.83M512,103.2h4M514,101.2v4M512.58,101.79l2.83,2.83M512.58,104.61l2.83,-2.83M513.14,103.2h4M515.14,101.2v4M513.73,101.79l2.83,2.83M513.73,104.61l2.83,-2.83M514.28,103.2h4M516.28,101.2v4M514.87,101.79l2.83,2.83M514.87,104.61l2.83,-2.83M515.43,103.2h4M517.43,101.2v4M516.01,101.79l2.83,2.83M516.01,104.61l2.83,-2.83M516.57,103.2h4M518.57,101.2v4M517.15,101.79l2.83,2.83M517.15,104.61l2.83,-2.83M517.71,103.2h4M519.71,101.2v4M518.3,101.79l2.83,2.83M518.3,104.61l2.83,-2.83M518.85,103.2h4M520.85,101.2v4M519.44,101.79l2.83,2.83M519.44,104.61l2.83,-2.83M520,103.2h4M522,101.2v4M520.58,101.79l2.83,2.83M520.58,104.61l2.83,-2.83M521.14,103.2h4M523.14,101.2v4M521.72,101.79l2.83,2.83M521.72,104.61l2.83,-2.83M522.28,103.2h4M524.28,101.2v4M522.87,101.79l2.83,2.83M522.87,104.61l2.83,-2.83M523.42,103.2h4M525.42,101.2v4M524.01,101.79l2.83,2.83M524.01,104.61l2.83,-2.83M524.56,103.2h4M526.56,101.2v4M525.15,101.79l2.83,2.83M525.15,104.61l2.83,-2.83M525.71,103.2h4M527.71,101.2v4M526.29,101.79l2.83,2.83M526.29,104.61l2.83,-2.83M526.85,103.2h4M528.85,101.2v4M527.44,101.79l2.83,2.83M527.44,104.61l2.83,-2.83M527.99,103.2h4M529.99,101.2v4M528.58,101.79l2.83,2.83M528.58,104.61l2.83,-2.83M529.13,103.2h4M531.13,101.2v4M529.72,101.79l2.83,2.83M529.72,104.61l2.83,-2.83M530.28,103.2h4M532.28,101.2v4M530.86,101.79l2.83,2.83M530.86,104.61l2.83,-2.83M531.42,103.2h4M533.42,101.2v4M532,101.79l2.83,2.83M532,104.61l2.83,-2.83M532.56,103.2h4M534.56,101.2v4M533.15,101.79l2.83,2.83M533.15,104.61l2.83,-2.83M533.7,103.2h4M535.7,101.2v4M534.29,101.79l2.83,2.83M534.29,104.61l2.83,-2.83M534.85,103.2h4M536.85,101.2v4M535.43,101.79l2.83,2.83M535.43,104.61l2.83,-2.83M535.99,103.2h4M537.99,101.2v4M536.57,101.79l2.83,2.83M536.57,104.61l2.83,-2.83M537.13,103.2h4M539.13,101.2v4M537.72,101.79l2.83,2.83M537.72,104.61l2.83,-2.83M538.27,103.2h4M540.27,101.2v4M538.86,101.79l2.83,2.83M538.86,104.61l2.83,-2.83M539.42,103.2h4M541.42,101.2v4M540,101.79l2.83,2.83M540,104.61l2.83,-2.83M540.56,103.2h4M542.56,101.2v4M541.14,101.79l2.83,2.83M541.14,104.61l2.83,-2.83M541.7,103.2h4M543.7,101.2v4M542.29,101.79l2.83,2.83M542.29,104.61l2.83,-2.83" fill="none" stroke="#1e90ff" stroke-width="1.1"/>
<polyline points="319.8,103.55 419.18,103.55 420.33,100.7 423.75,78.63 424.9,70.73 427.18,47.92 428.32,36.87 431.75,5.8 435.18,36.87 436.32,47.92 438.6,70.73 439.75,78.63 443.17,100.7 444.32,103.55 543.7,103.55" fill="none" stroke="#000000" stroke-width="1.4" stroke-linejoin="round" />
<polyline points="319.8,103.55 418.04,103.55 419.18,95.73 431.75,5.8 444.32,95.73 445.46,103.55 543.7,103.55" fill="none" stroke="#ffd800" stroke-width="1.5" stroke-linejoin="round" />
<rect x="480.1" y="10.5" width="59.19999999999993" height="49.9" fill="#fff" stroke="#8e8e8e" stroke-width="0.7"/>
<line x1="482.6" y1="16.3" x2="502.7" y2="16.3" stroke="#00ffff" stroke-width="1.7"/>
<text x="504.5" y="18.45" class="lg">BOC(2,1)</text>
<line x1="482.6" y1="24.2" x2="502.7" y2="24.2" stroke="#55a51c" stroke-width="1.7"/>
<path d="M490.75,21.8L494.95,24.2L490.75,26.6Z" fill="none" stroke="#55a51c" stroke-width="1.9" stroke-linejoin="round"/>
<text x="504.5" y="26.35" class="lg">ASPeCT</text>
<line x1="482.6" y1="32.3" x2="502.7" y2="32.3" stroke="#ff0000" stroke-width="2.1"/>
<circle cx="492.65" cy="32.3" r="2.1" fill="none" stroke="#ff0000" stroke-width="1.9"/>
<text x="504.5" y="34.45" class="lg">algorithm A</text>
<line x1="482.6" y1="40.5" x2="502.7" y2="40.5" stroke="#1e90ff" stroke-width="1.8"/>
<path d="M491.24,39.09l2.83,2.83M491.24,41.91l2.83,-2.83" stroke="#1e90ff" stroke-width="0.6" fill="none"/>
<path d="M492.65,38.5v4" stroke="#1e90ff" stroke-width="1.2" fill="none"/>
<text x="504.5" y="42.65" class="lg">RSSA</text>
<line x1="482.6" y1="48.7" x2="502.7" y2="48.7" stroke="#000000" stroke-width="1.9"/>
<text x="504.5" y="50.85" class="lg">LASOA</text>
<line x1="482.6" y1="56.9" x2="502.7" y2="56.9" stroke="#ffd800" stroke-width="1.7"/>
<text x="504.5" y="59.05" class="lg">algorithm B</text>
<rect x="367" y="29.4" width="36.7" height="24" rx="1.2" fill="#fdfdfd" stroke="#d2d2d2" stroke-width="0.8"/>
<text x="370.5" y="39.6" class="dt">X <tspan class="dv">-0.2444</tspan></text>
<text x="370.5" y="48.7" class="dt">Y <tspan class="dv">0.5</tspan></text>
<circle cx="404.7" cy="54.5" r="1.25" fill="#111"/>
<rect x="340.1" y="53.4" width="37.1" height="24.3" rx="1.2" fill="#fdfdfd" stroke="#d2d2d2" stroke-width="0.8"/>
<text x="343.6" y="63.6" class="dt">X <tspan class="dv">-0.4888</tspan></text>
<text x="343.6" y="72.7" class="dt">Y <tspan class="dv">0.25</tspan></text>
<circle cx="377.2" cy="78.8" r="1.25" fill="#111"/>
<rect x="339.4" y="104.4" width="37" height="23.6" rx="1.2" fill="#fdfdfd" stroke="#d2d2d2" stroke-width="0.8"/>
<text x="342.9" y="114.6" class="dt">X <tspan class="dv">-0.4888</tspan></text>
<text x="342.9" y="123.7" class="dt">Y <tspan class="dv">0</tspan></text>
<circle cx="377.1" cy="103" r="1.25" fill="#111"/>
<rect x="405" y="104.4" width="37" height="23.6" rx="1.2" fill="#fdfdfd" stroke="#d2d2d2" stroke-width="0.8"/>
<text x="408.5" y="114.6" class="dt">X <tspan class="dv">-0.2444</tspan></text>
<text x="408.5" y="123.7" class="dt">Y <tspan class="dv">0</tspan></text>
<circle cx="404.4" cy="103" r="1.25" fill="#111"/>
<text x="415" y="216" class="cap" text-anchor="middle">(b)</text>
<line x1="31.4" y1="224.4" x2="31.4" y2="397.8" stroke="#8c8c8c" stroke-width="1"/>
<line x1="251" y1="224.4" x2="251" y2="397.8" stroke="#c6c6c6" stroke-width="1.6"/>
<line x1="30.9" y1="224.9" x2="251.5" y2="224.9" stroke="#c6c6c6" stroke-width="1.2"/>
<line x1="30.9" y1="397.3" x2="251.5" y2="397.3" stroke="#8c8c8c" stroke-width="1"/>
<path d="M86.3,397.3v-2.2M86.3,224.9v2.2M141.2,397.3v-2.2M141.2,224.9v2.2M196.1,397.3v-2.2M196.1,224.9v2.2M31.4,339.83h2.2M251,339.83h-2.2M31.4,282.37h2.2M251,282.37h-2.2" stroke="#9a9a9a" stroke-width="0.8" fill="none"/>
<text transform="translate(27.12,406.1) scale(1.38,1)" class="tk">−</text>
<text x="32.33" y="406.1" class="tk">1</text>
<text transform="translate(79.51,406.1) scale(1.38,1)" class="tk">−</text>
<text x="84.72" y="406.1" class="tk">0.5</text>
<text x="141.2" y="406.1" class="tk" text-anchor="middle">0</text>
<text x="196.1" y="406.1" class="tk" text-anchor="middle">0.5</text>
<text x="251" y="406.1" class="tk" text-anchor="middle">1</text>
<text transform="translate(15.11,399.6) scale(1.38,1)" class="tk">−</text>
<text x="20.32" y="399.6" class="tk">0.5</text>
<text x="28.7" y="342.13" class="tk" text-anchor="end">0</text>
<text x="28.7" y="284.67" class="tk" text-anchor="end">0.5</text>
<text x="28.7" y="227.2" class="tk" text-anchor="end">1</text>
<text x="141.2" y="416.65" class="lb" text-anchor="middle">Code phase (sampling point)</text>
<text transform="translate(11.1,311.1) rotate(-90)" class="lb" text-anchor="middle">Normalized correlation peak</text>
<polyline points="31.4,339.83 42.05,354.89 52.26,355.69 61.05,374.08 70.05,371.67 78.94,393.39 87.84,386.73 98.05,365.81 101.89,352.02 111,320.29 115.4,311.1 119.57,290.07 123.74,276.96 130.22,265.47 134.28,253.17 141.2,224.9 148.12,253.17 152.18,265.47 158.66,276.96 162.83,290.07 167,311.1 171.39,320.29 180.51,352.02 184.35,365.81 194.56,386.73 203.46,393.39 212.35,371.67 221.35,374.08 230.14,355.69 240.35,354.89 251,339.83" fill="none" stroke="#00ffff" stroke-width="1.4" stroke-linejoin="round" />
<polyline points="31.4,339.83 32.52,339.65 33.64,339.46 34.76,339.27 35.88,339.08 37,338.89 38.12,338.64 39.24,338.39 40.36,338.14 41.48,337.89 42.6,337.85 43.72,338.01 44.84,338.17 45.97,338.34 47.09,338.47 48.21,338.51 49.33,338.56 50.45,338.61 51.57,338.65 52.69,338.46 53.81,337.87 54.93,337.29 56.05,336.7 57.17,336.09 58.29,335.49 59.41,334.89 60.53,334.93 61.65,335.36 62.77,335.78 63.89,336.21 65.01,336.65 66.13,337.09 67.25,337.53 68.37,337.97 69.49,337.41 70.61,336.39 71.73,335.36 72.86,334.33 73.98,333 75.1,331.56 76.22,330.13 77.34,328.7 78.46,328.08 79.58,329 80.7,329.91 81.82,330.82 82.94,331.73 84.06,332.79 85.18,333.86 86.3,334.92 87.42,335.99 88.54,336.07 89.66,335.56 90.78,335.05 91.9,334.54 93.02,334.04 94.14,333.61 95.26,333.18 96.38,332.76 97.5,332.33 98.62,331.9 99.74,332.25 100.87,332.89 101.99,333.53 103.11,334.17 104.23,334.81 105.35,335.5 106.47,336.28 107.59,337.07 108.71,337.85 109.83,338.63 110.95,339.41 112.07,339.83 113.19,339.83 114.31,339.83 115.43,337.85 116.55,333.14 117.67,328.43 118.79,323.72 119.91,319.01 121.03,314.3 122.15,310 123.27,308.01 124.39,306.01 125.51,304.02 126.63,302.03 127.76,300.04 128.88,298.05 130,296.06 131.12,294.07 132.24,292.08 133.36,286.6 134.48,278.24 135.6,269.35 136.72,260.46 137.84,251.57 138.96,242.68 140.08,233.79 141.2,224.9 142.32,233.79 143.44,242.68 144.56,251.57 145.68,260.46 146.8,269.35 147.92,278.24 149.04,286.6 150.16,292.08 151.28,294.07 152.4,296.06 153.52,298.05 154.64,300.04 155.77,302.03 156.89,304.02 158.01,306.01 159.13,308.01 160.25,310 161.37,314.3 162.49,319.01 163.61,323.72 164.73,328.43 165.85,333.14 166.97,337.85 168.09,339.83 169.21,339.83 170.33,339.83 171.45,339.41 172.57,338.63 173.69,337.85 174.81,337.07 175.93,336.28 177.05,335.5 178.17,334.81 179.29,334.17 180.41,333.53 181.53,332.89 182.66,332.25 183.78,331.9 184.9,332.33 186.02,332.76 187.14,333.18 188.26,333.61 189.38,334.04 190.5,334.54 191.62,335.05 192.74,335.56 193.86,336.07 194.98,335.99 196.1,334.92 197.22,333.86 198.34,332.79 199.46,331.73 200.58,330.82 201.7,329.91 202.82,329 203.94,328.08 205.06,328.7 206.18,330.13 207.3,331.56 208.42,333 209.54,334.33 210.67,335.36 211.79,336.39 212.91,337.41 214.03,337.97 215.15,337.53 216.27,337.09 217.39,336.65 218.51,336.21 219.63,335.78 220.75,335.36 221.87,334.93 222.99,334.89 224.11,335.49 225.23,336.09 226.35,336.7 227.47,337.29 228.59,337.87 229.71,338.46 230.83,338.65 231.95,338.61 233.07,338.56 234.19,338.51 235.31,338.47 236.43,338.34 237.56,338.17 238.68,338.01 239.8,337.85 240.92,337.89 242.04,338.14 243.16,338.39 244.28,338.64 245.4,338.89 246.52,339.08 247.64,339.27 248.76,339.46 249.88,339.65 251,339.83" fill="none" stroke="#55a51c" stroke-width="1.6" stroke-linejoin="round" />
<path d="M29.48,337.43L33.8,339.83L29.48,342.23ZM30.6,337.25L34.92,339.65L30.6,342.05ZM31.72,337.06L36.04,339.46L31.72,341.86ZM32.84,336.87L37.16,339.27L32.84,341.67ZM33.96,336.68L38.28,339.08L33.96,341.48ZM35.08,336.49L39.4,338.89L35.08,341.29ZM36.2,336.24L40.52,338.64L36.2,341.04ZM37.32,335.99L41.64,338.39L37.32,340.79ZM38.44,335.74L42.76,338.14L38.44,340.54ZM39.56,335.49L43.88,337.89L39.56,340.29ZM40.68,335.45L45,337.85L40.68,340.25ZM41.8,335.61L46.12,338.01L41.8,340.41ZM42.92,335.77L47.24,338.17L42.92,340.57ZM44.05,335.94L48.37,338.34L44.05,340.74ZM45.17,336.07L49.49,338.47L45.17,340.87ZM46.29,336.11L50.61,338.51L46.29,340.91ZM47.41,336.16L51.73,338.56L47.41,340.96ZM48.53,336.21L52.85,338.61L48.53,341.01ZM49.65,336.25L53.97,338.65L49.65,341.05ZM50.77,336.06L55.09,338.46L50.77,340.86ZM51.89,335.47L56.21,337.87L51.89,340.27ZM53.01,334.89L57.33,337.29L53.01,339.69ZM54.13,334.3L58.45,336.7L54.13,339.1ZM55.25,333.69L59.57,336.09L55.25,338.49ZM56.37,333.09L60.69,335.49L56.37,337.89ZM57.49,332.49L61.81,334.89L57.49,337.29ZM58.61,332.53L62.93,334.93L58.61,337.33ZM59.73,332.96L64.05,335.36L59.73,337.76ZM60.85,333.38L65.17,335.78L60.85,338.18ZM61.97,333.81L66.29,336.21L61.97,338.61ZM63.09,334.25L67.41,336.65L63.09,339.05ZM64.21,334.69L68.53,337.09L64.21,339.49ZM65.33,335.13L69.65,337.53L65.33,339.93ZM66.45,335.57L70.77,337.97L66.45,340.37ZM67.57,335.01L71.89,337.41L67.57,339.81ZM68.69,333.99L73.01,336.39L68.69,338.79ZM69.81,332.96L74.13,335.36L69.81,337.76ZM70.94,331.93L75.26,334.33L70.94,336.73ZM72.06,330.6L76.38,333L72.06,335.4ZM73.18,329.16L77.5,331.56L73.18,333.96ZM74.3,327.73L78.62,330.13L74.3,332.53ZM75.42,326.3L79.74,328.7L75.42,331.1ZM76.54,325.68L80.86,328.08L76.54,330.48ZM77.66,326.6L81.98,329L77.66,331.4ZM78.78,327.51L83.1,329.91L78.78,332.31ZM79.9,328.42L84.22,330.82L79.9,333.22ZM81.02,329.33L85.34,331.73L81.02,334.13ZM82.14,330.39L86.46,332.79L82.14,335.19ZM83.26,331.46L87.58,333.86L83.26,336.26ZM84.38,332.52L88.7,334.92L84.38,337.32ZM85.5,333.59L89.82,335.99L85.5,338.39ZM86.62,333.67L90.94,336.07L86.62,338.47ZM87.74,333.16L92.06,335.56L87.74,337.96ZM88.86,332.65L93.18,335.05L88.86,337.45ZM89.98,332.14L94.3,334.54L89.98,336.94ZM91.1,331.64L95.42,334.04L91.1,336.44ZM92.22,331.21L96.54,333.61L92.22,336.01ZM93.34,330.78L97.66,333.18L93.34,335.58ZM94.46,330.36L98.78,332.76L94.46,335.16ZM95.58,329.93L99.9,332.33L95.58,334.73ZM96.7,329.5L101.02,331.9L96.7,334.3ZM97.82,329.85L102.14,332.25L97.82,334.65ZM98.95,330.49L103.27,332.89L98.95,335.29ZM100.07,331.13L104.39,333.53L100.07,335.93ZM101.19,331.77L105.51,334.17L101.19,336.57ZM102.31,332.41L106.63,334.81L102.31,337.21ZM103.43,333.1L107.75,335.5L103.43,337.9ZM104.55,333.88L108.87,336.28L104.55,338.68ZM105.67,334.67L109.99,337.07L105.67,339.47ZM106.79,335.45L111.11,337.85L106.79,340.25ZM107.91,336.23L112.23,338.63L107.91,341.03ZM109.03,337.01L113.35,339.41L109.03,341.81ZM110.15,337.43L114.47,339.83L110.15,342.23ZM111.27,337.43L115.59,339.83L111.27,342.23ZM112.39,337.43L116.71,339.83L112.39,342.23ZM113.51,335.45L117.83,337.85L113.51,340.25ZM114.63,330.74L118.95,333.14L114.63,335.54ZM115.75,326.03L120.07,328.43L115.75,330.83ZM116.87,321.32L121.19,323.72L116.87,326.12ZM117.99,316.61L122.31,319.01L117.99,321.41ZM119.11,311.9L123.43,314.3L119.11,316.7ZM120.23,307.6L124.55,310L120.23,312.4ZM121.35,305.61L125.67,308.01L121.35,310.41ZM122.47,303.61L126.79,306.01L122.47,308.41ZM123.59,301.62L127.91,304.02L123.59,306.42ZM124.71,299.63L129.03,302.03L124.71,304.43ZM125.84,297.64L130.16,300.04L125.84,302.44ZM126.96,295.65L131.28,298.05L126.96,300.45ZM128.08,293.66L132.4,296.06L128.08,298.46ZM129.2,291.67L133.52,294.07L129.2,296.47ZM130.32,289.68L134.64,292.08L130.32,294.48ZM131.44,284.2L135.76,286.6L131.44,289ZM132.56,275.84L136.88,278.24L132.56,280.64ZM133.68,266.95L138,269.35L133.68,271.75ZM134.8,258.06L139.12,260.46L134.8,262.86ZM135.92,249.17L140.24,251.57L135.92,253.97ZM137.04,240.28L141.36,242.68L137.04,245.08ZM138.16,231.39L142.48,233.79L138.16,236.19ZM139.28,222.5L143.6,224.9L139.28,227.3ZM140.4,231.39L144.72,233.79L140.4,236.19ZM141.52,240.28L145.84,242.68L141.52,245.08ZM142.64,249.17L146.96,251.57L142.64,253.97ZM143.76,258.06L148.08,260.46L143.76,262.86ZM144.88,266.95L149.2,269.35L144.88,271.75ZM146,275.84L150.32,278.24L146,280.64ZM147.12,284.2L151.44,286.6L147.12,289ZM148.24,289.68L152.56,292.08L148.24,294.48ZM149.36,291.67L153.68,294.07L149.36,296.47ZM150.48,293.66L154.8,296.06L150.48,298.46ZM151.6,295.65L155.92,298.05L151.6,300.45ZM152.72,297.64L157.04,300.04L152.72,302.44ZM153.85,299.63L158.17,302.03L153.85,304.43ZM154.97,301.62L159.29,304.02L154.97,306.42ZM156.09,303.61L160.41,306.01L156.09,308.41ZM157.21,305.61L161.53,308.01L157.21,310.41ZM158.33,307.6L162.65,310L158.33,312.4ZM159.45,311.9L163.77,314.3L159.45,316.7ZM160.57,316.61L164.89,319.01L160.57,321.41ZM161.69,321.32L166.01,323.72L161.69,326.12ZM162.81,326.03L167.13,328.43L162.81,330.83ZM163.93,330.74L168.25,333.14L163.93,335.54ZM165.05,335.45L169.37,337.85L165.05,340.25ZM166.17,337.43L170.49,339.83L166.17,342.23ZM167.29,337.43L171.61,339.83L167.29,342.23ZM168.41,337.43L172.73,339.83L168.41,342.23ZM169.53,337.01L173.85,339.41L169.53,341.81ZM170.65,336.23L174.97,338.63L170.65,341.03ZM171.77,335.45L176.09,337.85L171.77,340.25ZM172.89,334.67L177.21,337.07L172.89,339.47ZM174.01,333.88L178.33,336.28L174.01,338.68ZM175.13,333.1L179.45,335.5L175.13,337.9ZM176.25,332.41L180.57,334.81L176.25,337.21ZM177.37,331.77L181.69,334.17L177.37,336.57ZM178.49,331.13L182.81,333.53L178.49,335.93ZM179.61,330.49L183.93,332.89L179.61,335.29ZM180.74,329.85L185.06,332.25L180.74,334.65ZM181.86,329.5L186.18,331.9L181.86,334.3ZM182.98,329.93L187.3,332.33L182.98,334.73ZM184.1,330.36L188.42,332.76L184.1,335.16ZM185.22,330.78L189.54,333.18L185.22,335.58ZM186.34,331.21L190.66,333.61L186.34,336.01ZM187.46,331.64L191.78,334.04L187.46,336.44ZM188.58,332.14L192.9,334.54L188.58,336.94ZM189.7,332.65L194.02,335.05L189.7,337.45ZM190.82,333.16L195.14,335.56L190.82,337.96ZM191.94,333.67L196.26,336.07L191.94,338.47ZM193.06,333.59L197.38,335.99L193.06,338.39ZM194.18,332.52L198.5,334.92L194.18,337.32ZM195.3,331.46L199.62,333.86L195.3,336.26ZM196.42,330.39L200.74,332.79L196.42,335.19ZM197.54,329.33L201.86,331.73L197.54,334.13ZM198.66,328.42L202.98,330.82L198.66,333.22ZM199.78,327.51L204.1,329.91L199.78,332.31ZM200.9,326.6L205.22,329L200.9,331.4ZM202.02,325.68L206.34,328.08L202.02,330.48ZM203.14,326.3L207.46,328.7L203.14,331.1ZM204.26,327.73L208.58,330.13L204.26,332.53ZM205.38,329.16L209.7,331.56L205.38,333.96ZM206.5,330.6L210.82,333L206.5,335.4ZM207.62,331.93L211.94,334.33L207.62,336.73ZM208.75,332.96L213.07,335.36L208.75,337.76ZM209.87,333.99L214.19,336.39L209.87,338.79ZM210.99,335.01L215.31,337.41L210.99,339.81ZM212.11,335.57L216.43,337.97L212.11,340.37ZM213.23,335.13L217.55,337.53L213.23,339.93ZM214.35,334.69L218.67,337.09L214.35,339.49ZM215.47,334.25L219.79,336.65L215.47,339.05ZM216.59,333.81L220.91,336.21L216.59,338.61ZM217.71,333.38L222.03,335.78L217.71,338.18ZM218.83,332.96L223.15,335.36L218.83,337.76ZM219.95,332.53L224.27,334.93L219.95,337.33ZM221.07,332.49L225.39,334.89L221.07,337.29ZM222.19,333.09L226.51,335.49L222.19,337.89ZM223.31,333.69L227.63,336.09L223.31,338.49ZM224.43,334.3L228.75,336.7L224.43,339.1ZM225.55,334.89L229.87,337.29L225.55,339.69ZM226.67,335.47L230.99,337.87L226.67,340.27ZM227.79,336.06L232.11,338.46L227.79,340.86ZM228.91,336.25L233.23,338.65L228.91,341.05ZM230.03,336.21L234.35,338.61L230.03,341.01ZM231.15,336.16L235.47,338.56L231.15,340.96ZM232.27,336.11L236.59,338.51L232.27,340.91ZM233.39,336.07L237.71,338.47L233.39,340.87ZM234.51,335.94L238.83,338.34L234.51,340.74ZM235.64,335.77L239.96,338.17L235.64,340.57ZM236.76,335.61L241.08,338.01L236.76,340.41ZM237.88,335.45L242.2,337.85L237.88,340.25ZM239,335.49L243.32,337.89L239,340.29ZM240.12,335.74L244.44,338.14L240.12,340.54ZM241.24,335.99L245.56,338.39L241.24,340.79ZM242.36,336.24L246.68,338.64L242.36,341.04ZM243.48,336.49L247.8,338.89L243.48,341.29ZM244.6,336.68L248.92,339.08L244.6,341.48ZM245.72,336.87L250.04,339.27L245.72,341.67ZM246.84,337.06L251.16,339.46L246.84,341.86ZM247.96,337.25L252.28,339.65L247.96,342.05ZM249.08,337.43L253.4,339.83L249.08,342.23Z" fill="none" stroke="#55a51c" stroke-width="1.5" stroke-linejoin="round"/>
<polyline points="31.4,339.83 32.52,339.83 33.64,339.83 34.76,339.83 35.88,339.83 37,339.83 38.12,339.83 39.24,339.83 40.36,339.83 41.48,339.83 42.6,339.83 43.72,339.83 44.84,339.83 45.97,339.83 47.09,339.83 48.21,339.83 49.33,339.83 50.45,339.83 51.57,339.83 52.69,339.83 53.81,339.83 54.93,339.83 56.05,339.83 57.17,339.83 58.29,339.83 59.41,339.83 60.53,339.83 61.65,339.83 62.77,339.83 63.89,339.83 65.01,339.83 66.13,339.83 67.25,339.83 68.37,339.83 69.49,339.83 70.61,339.83 71.73,339.83 72.86,339.83 73.98,339.83 75.1,339.83 76.22,339.83 77.34,339.83 78.46,339.83 79.58,339.83 80.7,339.83 81.82,339.83 82.94,339.83 84.06,339.83 85.18,339.83 86.3,339.83 87.42,339.83 88.54,339.83 89.66,339.83 90.78,339.83 91.9,339.83 93.02,339.83 94.14,339.83 95.26,339.83 96.38,339.83 97.5,339.83 98.62,339.83 99.74,339.83 100.87,339.83 101.99,339.83 103.11,339.83 104.23,339.83 105.35,339.83 106.47,339.83 107.59,339.83 108.71,339.83 109.83,339.83 110.95,339.83 112.07,339.83 113.19,339.83 114.31,339.83 115.43,337.85 116.55,333.14 117.67,328.43 118.79,323.72 119.91,319.01 121.03,314.3 122.15,310 123.27,308.01 124.39,306.01 125.51,304.02 126.63,302.03 127.76,300.04 128.88,298.05 130,296.06 131.12,294.07 132.24,292.08 133.36,286.6 134.48,278.24 135.6,269.35 136.72,260.46 137.84,251.57 138.96,242.68 140.08,233.79 141.2,224.9 142.32,233.79 143.44,242.68 144.56,251.57 145.68,260.46 146.8,269.35 147.92,278.24 149.04,286.6 150.16,292.08 151.28,294.07 152.4,296.06 153.52,298.05 154.64,300.04 155.77,302.03 156.89,304.02 158.01,306.01 159.13,308.01 160.25,310 161.37,314.3 162.49,319.01 163.61,323.72 164.73,328.43 165.85,333.14 166.97,337.85 168.09,339.83 169.21,339.83 170.33,339.83 171.45,339.83 172.57,339.83 173.69,339.83 174.81,339.83 175.93,339.83 177.05,339.83 178.17,339.83 179.29,339.83 180.41,339.83 181.53,339.83 182.66,339.83 183.78,339.83 184.9,339.83 186.02,339.83 187.14,339.83 188.26,339.83 189.38,339.83 190.5,339.83 191.62,339.83 192.74,339.83 193.86,339.83 194.98,339.83 196.1,339.83 197.22,339.83 198.34,339.83 199.46,339.83 200.58,339.83 201.7,339.83 202.82,339.83 203.94,339.83 205.06,339.83 206.18,339.83 207.3,339.83 208.42,339.83 209.54,339.83 210.67,339.83 211.79,339.83 212.91,339.83 214.03,339.83 215.15,339.83 216.27,339.83 217.39,339.83 218.51,339.83 219.63,339.83 220.75,339.83 221.87,339.83 222.99,339.83 224.11,339.83 225.23,339.83 226.35,339.83 227.47,339.83 228.59,339.83 229.71,339.83 230.83,339.83 231.95,339.83 233.07,339.83 234.19,339.83 235.31,339.83 236.43,339.83 237.56,339.83 238.68,339.83 239.8,339.83 240.92,339.83 242.04,339.83 243.16,339.83 244.28,339.83 245.4,339.83 246.52,339.83 247.64,339.83 248.76,339.83 249.88,339.83 251,339.83" fill="none" stroke="#ff0000" stroke-width="1.7" stroke-linejoin="round" />
<path d="M29.25,339.83a2.15,2.15 0 1 0 4.3,0a2.15,2.15 0 1 0 -4.3,0M30.37,339.83a2.15,2.15 0 1 0 4.3,0a2.15,2.15 0 1 0 -4.3,0M31.49,339.83a2.15,2.15 0 1 0 4.3,0a2.15,2.15 0 1 0 -4.3,0M32.61,339.83a2.15,2.15 0 1 0 4.3,0a2.15,2.15 0 1 0 -4.3,0M33.73,339.83a2.15,2.15 0 1 0 4.3,0a2.15,2.15 0 1 0 -4.3,0M34.85,339.83a2.15,2.15 0 1 0 4.3,0a2.15,2.15 0 1 0 -4.3,0M35.97,339.83a2.15,2.15 0 1 0 4.3,0a2.15,2.15 0 1 0 -4.3,0M37.09,339.83a2.15,2.15 0 1 0 4.3,0a2.15,2.15 0 1 0 -4.3,0M38.21,339.83a2.15,2.15 0 1 0 4.3,0a2.15,2.15 0 1 0 -4.3,0M39.33,339.83a2.15,2.15 0 1 0 4.3,0a2.15,2.15 0 1 0 -4.3,0M40.45,339.83a2.15,2.15 0 1 0 4.3,0a2.15,2.15 0 1 0 -4.3,0M41.57,339.83a2.15,2.15 0 1 0 4.3,0a2.15,2.15 0 1 0 -4.3,0M42.69,339.83a2.15,2.15 0 1 0 4.3,0a2.15,2.15 0 1 0 -4.3,0M43.82,339.83a2.15,2.15 0 1 0 4.3,0a2.15,2.15 0 1 0 -4.3,0M44.94,339.83a2.15,2.15 0 1 0 4.3,0a2.15,2.15 0 1 0 -4.3,0M46.06,339.83a2.15,2.15 0 1 0 4.3,0a2.15,2.15 0 1 0 -4.3,0M47.18,339.83a2.15,2.15 0 1 0 4.3,0a2.15,2.15 0 1 0 -4.3,0M48.3,339.83a2.15,2.15 0 1 0 4.3,0a2.15,2.15 0 1 0 -4.3,0M49.42,339.83a2.15,2.15 0 1 0 4.3,0a2.15,2.15 0 1 0 -4.3,0M50.54,339.83a2.15,2.15 0 1 0 4.3,0a2.15,2.15 0 1 0 -4.3,0M51.66,339.83a2.15,2.15 0 1 0 4.3,0a2.15,2.15 0 1 0 -4.3,0M52.78,339.83a2.15,2.15 0 1 0 4.3,0a2.15,2.15 0 1 0 -4.3,0M53.9,339.83a2.15,2.15 0 1 0 4.3,0a2.15,2.15 0 1 0 -4.3,0M55.02,339.83a2.15,2.15 0 1 0 4.3,0a2.15,2.15 0 1 0 -4.3,0M56.14,339.83a2.15,2.15 0 1 0 4.3,0a2.15,2.15 0 1 0 -4.3,0M57.26,339.83a2.15,2.15 0 1 0 4.3,0a2.15,2.15 0 1 0 -4.3,0M58.38,339.83a2.15,2.15 0 1 0 4.3,0a2.15,2.15 0 1 0 -4.3,0M59.5,339.83a2.15,2.15 0 1 0 4.3,0a2.15,2.15 0 1 0 -4.3,0M60.62,339.83a2.15,2.15 0 1 0 4.3,0a2.15,2.15 0 1 0 -4.3,0M61.74,339.83a2.15,2.15 0 1 0 4.3,0a2.15,2.15 0 1 0 -4.3,0M62.86,339.83a2.15,2.15 0 1 0 4.3,0a2.15,2.15 0 1 0 -4.3,0M63.98,339.83a2.15,2.15 0 1 0 4.3,0a2.15,2.15 0 1 0 -4.3,0M65.1,339.83a2.15,2.15 0 1 0 4.3,0a2.15,2.15 0 1 0 -4.3,0M66.22,339.83a2.15,2.15 0 1 0 4.3,0a2.15,2.15 0 1 0 -4.3,0M67.34,339.83a2.15,2.15 0 1 0 4.3,0a2.15,2.15 0 1 0 -4.3,0M68.46,339.83a2.15,2.15 0 1 0 4.3,0a2.15,2.15 0 1 0 -4.3,0M69.58,339.83a2.15,2.15 0 1 0 4.3,0a2.15,2.15 0 1 0 -4.3,0M70.71,339.83a2.15,2.15 0 1 0 4.3,0a2.15,2.15 0 1 0 -4.3,0M71.83,339.83a2.15,2.15 0 1 0 4.3,0a2.15,2.15 0 1 0 -4.3,0M72.95,339.83a2.15,2.15 0 1 0 4.3,0a2.15,2.15 0 1 0 -4.3,0M74.07,339.83a2.15,2.15 0 1 0 4.3,0a2.15,2.15 0 1 0 -4.3,0M75.19,339.83a2.15,2.15 0 1 0 4.3,0a2.15,2.15 0 1 0 -4.3,0M76.31,339.83a2.15,2.15 0 1 0 4.3,0a2.15,2.15 0 1 0 -4.3,0M77.43,339.83a2.15,2.15 0 1 0 4.3,0a2.15,2.15 0 1 0 -4.3,0M78.55,339.83a2.15,2.15 0 1 0 4.3,0a2.15,2.15 0 1 0 -4.3,0M79.67,339.83a2.15,2.15 0 1 0 4.3,0a2.15,2.15 0 1 0 -4.3,0M80.79,339.83a2.15,2.15 0 1 0 4.3,0a2.15,2.15 0 1 0 -4.3,0M81.91,339.83a2.15,2.15 0 1 0 4.3,0a2.15,2.15 0 1 0 -4.3,0M83.03,339.83a2.15,2.15 0 1 0 4.3,0a2.15,2.15 0 1 0 -4.3,0M84.15,339.83a2.15,2.15 0 1 0 4.3,0a2.15,2.15 0 1 0 -4.3,0M85.27,339.83a2.15,2.15 0 1 0 4.3,0a2.15,2.15 0 1 0 -4.3,0M86.39,339.83a2.15,2.15 0 1 0 4.3,0a2.15,2.15 0 1 0 -4.3,0M87.51,339.83a2.15,2.15 0 1 0 4.3,0a2.15,2.15 0 1 0 -4.3,0M88.63,339.83a2.15,2.15 0 1 0 4.3,0a2.15,2.15 0 1 0 -4.3,0M89.75,339.83a2.15,2.15 0 1 0 4.3,0a2.15,2.15 0 1 0 -4.3,0M90.87,339.83a2.15,2.15 0 1 0 4.3,0a2.15,2.15 0 1 0 -4.3,0M91.99,339.83a2.15,2.15 0 1 0 4.3,0a2.15,2.15 0 1 0 -4.3,0M93.11,339.83a2.15,2.15 0 1 0 4.3,0a2.15,2.15 0 1 0 -4.3,0M94.23,339.83a2.15,2.15 0 1 0 4.3,0a2.15,2.15 0 1 0 -4.3,0M95.35,339.83a2.15,2.15 0 1 0 4.3,0a2.15,2.15 0 1 0 -4.3,0M96.47,339.83a2.15,2.15 0 1 0 4.3,0a2.15,2.15 0 1 0 -4.3,0M97.59,339.83a2.15,2.15 0 1 0 4.3,0a2.15,2.15 0 1 0 -4.3,0M98.72,339.83a2.15,2.15 0 1 0 4.3,0a2.15,2.15 0 1 0 -4.3,0M99.84,339.83a2.15,2.15 0 1 0 4.3,0a2.15,2.15 0 1 0 -4.3,0M100.96,339.83a2.15,2.15 0 1 0 4.3,0a2.15,2.15 0 1 0 -4.3,0M102.08,339.83a2.15,2.15 0 1 0 4.3,0a2.15,2.15 0 1 0 -4.3,0M103.2,339.83a2.15,2.15 0 1 0 4.3,0a2.15,2.15 0 1 0 -4.3,0M104.32,339.83a2.15,2.15 0 1 0 4.3,0a2.15,2.15 0 1 0 -4.3,0M105.44,339.83a2.15,2.15 0 1 0 4.3,0a2.15,2.15 0 1 0 -4.3,0M106.56,339.83a2.15,2.15 0 1 0 4.3,0a2.15,2.15 0 1 0 -4.3,0M107.68,339.83a2.15,2.15 0 1 0 4.3,0a2.15,2.15 0 1 0 -4.3,0M108.8,339.83a2.15,2.15 0 1 0 4.3,0a2.15,2.15 0 1 0 -4.3,0M109.92,339.83a2.15,2.15 0 1 0 4.3,0a2.15,2.15 0 1 0 -4.3,0M111.04,339.83a2.15,2.15 0 1 0 4.3,0a2.15,2.15 0 1 0 -4.3,0M112.16,339.83a2.15,2.15 0 1 0 4.3,0a2.15,2.15 0 1 0 -4.3,0M113.28,337.85a2.15,2.15 0 1 0 4.3,0a2.15,2.15 0 1 0 -4.3,0M114.4,333.14a2.15,2.15 0 1 0 4.3,0a2.15,2.15 0 1 0 -4.3,0M115.52,328.43a2.15,2.15 0 1 0 4.3,0a2.15,2.15 0 1 0 -4.3,0M116.64,323.72a2.15,2.15 0 1 0 4.3,0a2.15,2.15 0 1 0 -4.3,0M117.76,319.01a2.15,2.15 0 1 0 4.3,0a2.15,2.15 0 1 0 -4.3,0M118.88,314.3a2.15,2.15 0 1 0 4.3,0a2.15,2.15 0 1 0 -4.3,0M120,310a2.15,2.15 0 1 0 4.3,0a2.15,2.15 0 1 0 -4.3,0M121.12,308.01a2.15,2.15 0 1 0 4.3,0a2.15,2.15 0 1 0 -4.3,0M122.24,306.01a2.15,2.15 0 1 0 4.3,0a2.15,2.15 0 1 0 -4.3,0M123.36,304.02a2.15,2.15 0 1 0 4.3,0a2.15,2.15 0 1 0 -4.3,0M124.48,302.03a2.15,2.15 0 1 0 4.3,0a2.15,2.15 0 1 0 -4.3,0M125.61,300.04a2.15,2.15 0 1 0 4.3,0a2.15,2.15 0 1 0 -4.3,0M126.73,298.05a2.15,2.15 0 1 0 4.3,0a2.15,2.15 0 1 0 -4.3,0M127.85,296.06a2.15,2.15 0 1 0 4.3,0a2.15,2.15 0 1 0 -4.3,0M128.97,294.07a2.15,2.15 0 1 0 4.3,0a2.15,2.15 0 1 0 -4.3,0M130.09,292.08a2.15,2.15 0 1 0 4.3,0a2.15,2.15 0 1 0 -4.3,0M131.21,286.6a2.15,2.15 0 1 0 4.3,0a2.15,2.15 0 1 0 -4.3,0M132.33,278.24a2.15,2.15 0 1 0 4.3,0a2.15,2.15 0 1 0 -4.3,0M133.45,269.35a2.15,2.15 0 1 0 4.3,0a2.15,2.15 0 1 0 -4.3,0M134.57,260.46a2.15,2.15 0 1 0 4.3,0a2.15,2.15 0 1 0 -4.3,0M135.69,251.57a2.15,2.15 0 1 0 4.3,0a2.15,2.15 0 1 0 -4.3,0M136.81,242.68a2.15,2.15 0 1 0 4.3,0a2.15,2.15 0 1 0 -4.3,0M137.93,233.79a2.15,2.15 0 1 0 4.3,0a2.15,2.15 0 1 0 -4.3,0M139.05,224.9a2.15,2.15 0 1 0 4.3,0a2.15,2.15 0 1 0 -4.3,0M140.17,233.79a2.15,2.15 0 1 0 4.3,0a2.15,2.15 0 1 0 -4.3,0M141.29,242.68a2.15,2.15 0 1 0 4.3,0a2.15,2.15 0 1 0 -4.3,0M142.41,251.57a2.15,2.15 0 1 0 4.3,0a2.15,2.15 0 1 0 -4.3,0M143.53,260.46a2.15,2.15 0 1 0 4.3,0a2.15,2.15 0 1 0 -4.3,0M144.65,269.35a2.15,2.15 0 1 0 4.3,0a2.15,2.15 0 1 0 -4.3,0M145.77,278.24a2.15,2.15 0 1 0 4.3,0a2.15,2.15 0 1 0 -4.3,0M146.89,286.6a2.15,2.15 0 1 0 4.3,0a2.15,2.15 0 1 0 -4.3,0M148.01,292.08a2.15,2.15 0 1 0 4.3,0a2.15,2.15 0 1 0 -4.3,0M149.13,294.07a2.15,2.15 0 1 0 4.3,0a2.15,2.15 0 1 0 -4.3,0M150.25,296.06a2.15,2.15 0 1 0 4.3,0a2.15,2.15 0 1 0 -4.3,0M151.37,298.05a2.15,2.15 0 1 0 4.3,0a2.15,2.15 0 1 0 -4.3,0M152.49,300.04a2.15,2.15 0 1 0 4.3,0a2.15,2.15 0 1 0 -4.3,0M153.62,302.03a2.15,2.15 0 1 0 4.3,0a2.15,2.15 0 1 0 -4.3,0M154.74,304.02a2.15,2.15 0 1 0 4.3,0a2.15,2.15 0 1 0 -4.3,0M155.86,306.01a2.15,2.15 0 1 0 4.3,0a2.15,2.15 0 1 0 -4.3,0M156.98,308.01a2.15,2.15 0 1 0 4.3,0a2.15,2.15 0 1 0 -4.3,0M158.1,310a2.15,2.15 0 1 0 4.3,0a2.15,2.15 0 1 0 -4.3,0M159.22,314.3a2.15,2.15 0 1 0 4.3,0a2.15,2.15 0 1 0 -4.3,0M160.34,319.01a2.15,2.15 0 1 0 4.3,0a2.15,2.15 0 1 0 -4.3,0M161.46,323.72a2.15,2.15 0 1 0 4.3,0a2.15,2.15 0 1 0 -4.3,0M162.58,328.43a2.15,2.15 0 1 0 4.3,0a2.15,2.15 0 1 0 -4.3,0M163.7,333.14a2.15,2.15 0 1 0 4.3,0a2.15,2.15 0 1 0 -4.3,0M164.82,337.85a2.15,2.15 0 1 0 4.3,0a2.15,2.15 0 1 0 -4.3,0M165.94,339.83a2.15,2.15 0 1 0 4.3,0a2.15,2.15 0 1 0 -4.3,0M167.06,339.83a2.15,2.15 0 1 0 4.3,0a2.15,2.15 0 1 0 -4.3,0M168.18,339.83a2.15,2.15 0 1 0 4.3,0a2.15,2.15 0 1 0 -4.3,0M169.3,339.83a2.15,2.15 0 1 0 4.3,0a2.15,2.15 0 1 0 -4.3,0M170.42,339.83a2.15,2.15 0 1 0 4.3,0a2.15,2.15 0 1 0 -4.3,0M171.54,339.83a2.15,2.15 0 1 0 4.3,0a2.15,2.15 0 1 0 -4.3,0M172.66,339.83a2.15,2.15 0 1 0 4.3,0a2.15,2.15 0 1 0 -4.3,0M173.78,339.83a2.15,2.15 0 1 0 4.3,0a2.15,2.15 0 1 0 -4.3,0M174.9,339.83a2.15,2.15 0 1 0 4.3,0a2.15,2.15 0 1 0 -4.3,0M176.02,339.83a2.15,2.15 0 1 0 4.3,0a2.15,2.15 0 1 0 -4.3,0M177.14,339.83a2.15,2.15 0 1 0 4.3,0a2.15,2.15 0 1 0 -4.3,0M178.26,339.83a2.15,2.15 0 1 0 4.3,0a2.15,2.15 0 1 0 -4.3,0M179.38,339.83a2.15,2.15 0 1 0 4.3,0a2.15,2.15 0 1 0 -4.3,0M180.51,339.83a2.15,2.15 0 1 0 4.3,0a2.15,2.15 0 1 0 -4.3,0M181.63,339.83a2.15,2.15 0 1 0 4.3,0a2.15,2.15 0 1 0 -4.3,0M182.75,339.83a2.15,2.15 0 1 0 4.3,0a2.15,2.15 0 1 0 -4.3,0M183.87,339.83a2.15,2.15 0 1 0 4.3,0a2.15,2.15 0 1 0 -4.3,0M184.99,339.83a2.15,2.15 0 1 0 4.3,0a2.15,2.15 0 1 0 -4.3,0M186.11,339.83a2.15,2.15 0 1 0 4.3,0a2.15,2.15 0 1 0 -4.3,0M187.23,339.83a2.15,2.15 0 1 0 4.3,0a2.15,2.15 0 1 0 -4.3,0M188.35,339.83a2.15,2.15 0 1 0 4.3,0a2.15,2.15 0 1 0 -4.3,0M189.47,339.83a2.15,2.15 0 1 0 4.3,0a2.15,2.15 0 1 0 -4.3,0M190.59,339.83a2.15,2.15 0 1 0 4.3,0a2.15,2.15 0 1 0 -4.3,0M191.71,339.83a2.15,2.15 0 1 0 4.3,0a2.15,2.15 0 1 0 -4.3,0M192.83,339.83a2.15,2.15 0 1 0 4.3,0a2.15,2.15 0 1 0 -4.3,0M193.95,339.83a2.15,2.15 0 1 0 4.3,0a2.15,2.15 0 1 0 -4.3,0M195.07,339.83a2.15,2.15 0 1 0 4.3,0a2.15,2.15 0 1 0 -4.3,0M196.19,339.83a2.15,2.15 0 1 0 4.3,0a2.15,2.15 0 1 0 -4.3,0M197.31,339.83a2.15,2.15 0 1 0 4.3,0a2.15,2.15 0 1 0 -4.3,0M198.43,339.83a2.15,2.15 0 1 0 4.3,0a2.15,2.15 0 1 0 -4.3,0M199.55,339.83a2.15,2.15 0 1 0 4.3,0a2.15,2.15 0 1 0 -4.3,0M200.67,339.83a2.15,2.15 0 1 0 4.3,0a2.15,2.15 0 1 0 -4.3,0M201.79,339.83a2.15,2.15 0 1 0 4.3,0a2.15,2.15 0 1 0 -4.3,0M202.91,339.83a2.15,2.15 0 1 0 4.3,0a2.15,2.15 0 1 0 -4.3,0M204.03,339.83a2.15,2.15 0 1 0 4.3,0a2.15,2.15 0 1 0 -4.3,0M205.15,339.83a2.15,2.15 0 1 0 4.3,0a2.15,2.15 0 1 0 -4.3,0M206.27,339.83a2.15,2.15 0 1 0 4.3,0a2.15,2.15 0 1 0 -4.3,0M207.39,339.83a2.15,2.15 0 1 0 4.3,0a2.15,2.15 0 1 0 -4.3,0M208.52,339.83a2.15,2.15 0 1 0 4.3,0a2.15,2.15 0 1 0 -4.3,0M209.64,339.83a2.15,2.15 0 1 0 4.3,0a2.15,2.15 0 1 0 -4.3,0M210.76,339.83a2.15,2.15 0 1 0 4.3,0a2.15,2.15 0 1 0 -4.3,0M211.88,339.83a2.15,2.15 0 1 0 4.3,0a2.15,2.15 0 1 0 -4.3,0M213,339.83a2.15,2.15 0 1 0 4.3,0a2.15,2.15 0 1 0 -4.3,0M214.12,339.83a2.15,2.15 0 1 0 4.3,0a2.15,2.15 0 1 0 -4.3,0M215.24,339.83a2.15,2.15 0 1 0 4.3,0a2.15,2.15 0 1 0 -4.3,0M216.36,339.83a2.15,2.15 0 1 0 4.3,0a2.15,2.15 0 1 0 -4.3,0M217.48,339.83a2.15,2.15 0 1 0 4.3,0a2.15,2.15 0 1 0 -4.3,0M218.6,339.83a2.15,2.15 0 1 0 4.3,0a2.15,2.15 0 1 0 -4.3,0M219.72,339.83a2.15,2.15 0 1 0 4.3,0a2.15,2.15 0 1 0 -4.3,0M220.84,339.83a2.15,2.15 0 1 0 4.3,0a2.15,2.15 0 1 0 -4.3,0M221.96,339.83a2.15,2.15 0 1 0 4.3,0a2.15,2.15 0 1 0 -4.3,0M223.08,339.83a2.15,2.15 0 1 0 4.3,0a2.15,2.15 0 1 0 -4.3,0M224.2,339.83a2.15,2.15 0 1 0 4.3,0a2.15,2.15 0 1 0 -4.3,0M225.32,339.83a2.15,2.15 0 1 0 4.3,0a2.15,2.15 0 1 0 -4.3,0M226.44,339.83a2.15,2.15 0 1 0 4.3,0a2.15,2.15 0 1 0 -4.3,0M227.56,339.83a2.15,2.15 0 1 0 4.3,0a2.15,2.15 0 1 0 -4.3,0M228.68,339.83a2.15,2.15 0 1 0 4.3,0a2.15,2.15 0 1 0 -4.3,0M229.8,339.83a2.15,2.15 0 1 0 4.3,0a2.15,2.15 0 1 0 -4.3,0M230.92,339.83a2.15,2.15 0 1 0 4.3,0a2.15,2.15 0 1 0 -4.3,0M232.04,339.83a2.15,2.15 0 1 0 4.3,0a2.15,2.15 0 1 0 -4.3,0M233.16,339.83a2.15,2.15 0 1 0 4.3,0a2.15,2.15 0 1 0 -4.3,0M234.28,339.83a2.15,2.15 0 1 0 4.3,0a2.15,2.15 0 1 0 -4.3,0M235.41,339.83a2.15,2.15 0 1 0 4.3,0a2.15,2.15 0 1 0 -4.3,0M236.53,339.83a2.15,2.15 0 1 0 4.3,0a2.15,2.15 0 1 0 -4.3,0M237.65,339.83a2.15,2.15 0 1 0 4.3,0a2.15,2.15 0 1 0 -4.3,0M238.77,339.83a2.15,2.15 0 1 0 4.3,0a2.15,2.15 0 1 0 -4.3,0M239.89,339.83a2.15,2.15 0 1 0 4.3,0a2.15,2.15 0 1 0 -4.3,0M241.01,339.83a2.15,2.15 0 1 0 4.3,0a2.15,2.15 0 1 0 -4.3,0M242.13,339.83a2.15,2.15 0 1 0 4.3,0a2.15,2.15 0 1 0 -4.3,0M243.25,339.83a2.15,2.15 0 1 0 4.3,0a2.15,2.15 0 1 0 -4.3,0M244.37,339.83a2.15,2.15 0 1 0 4.3,0a2.15,2.15 0 1 0 -4.3,0M245.49,339.83a2.15,2.15 0 1 0 4.3,0a2.15,2.15 0 1 0 -4.3,0M246.61,339.83a2.15,2.15 0 1 0 4.3,0a2.15,2.15 0 1 0 -4.3,0M247.73,339.83a2.15,2.15 0 1 0 4.3,0a2.15,2.15 0 1 0 -4.3,0M248.85,339.83a2.15,2.15 0 1 0 4.3,0a2.15,2.15 0 1 0 -4.3,0" fill="none" stroke="#ff0000" stroke-width="1.4"/>
<polyline points="31.4,339.83 132.24,339.83 133.36,328.82 141.2,224.9 149.04,328.82 150.16,339.83 251,339.83" fill="none" stroke="#1e90ff" stroke-width="1.6" stroke-linejoin="round" />
<path d="M29.4,339.83h4M31.4,337.83v4M29.99,338.42l2.83,2.83M29.99,341.25l2.83,-2.83M30.52,339.83h4M32.52,337.83v4M31.11,338.42l2.83,2.83M31.11,341.25l2.83,-2.83M31.64,339.83h4M33.64,337.83v4M32.23,338.42l2.83,2.83M32.23,341.25l2.83,-2.83M32.76,339.83h4M34.76,337.83v4M33.35,338.42l2.83,2.83M33.35,341.25l2.83,-2.83M33.88,339.83h4M35.88,337.83v4M34.47,338.42l2.83,2.83M34.47,341.25l2.83,-2.83M35,339.83h4M37,337.83v4M35.59,338.42l2.83,2.83M35.59,341.25l2.83,-2.83M36.12,339.83h4M38.12,337.83v4M36.71,338.42l2.83,2.83M36.71,341.25l2.83,-2.83M37.24,339.83h4M39.24,337.83v4M37.83,338.42l2.83,2.83M37.83,341.25l2.83,-2.83M38.36,339.83h4M40.36,337.83v4M38.95,338.42l2.83,2.83M38.95,341.25l2.83,-2.83M39.48,339.83h4M41.48,337.83v4M40.07,338.42l2.83,2.83M40.07,341.25l2.83,-2.83M40.6,339.83h4M42.6,337.83v4M41.19,338.42l2.83,2.83M41.19,341.25l2.83,-2.83M41.72,339.83h4M43.72,337.83v4M42.31,338.42l2.83,2.83M42.31,341.25l2.83,-2.83M42.84,339.83h4M44.84,337.83v4M43.43,338.42l2.83,2.83M43.43,341.25l2.83,-2.83M43.97,339.83h4M45.97,337.83v4M44.55,338.42l2.83,2.83M44.55,341.25l2.83,-2.83M45.09,339.83h4M47.09,337.83v4M45.67,338.42l2.83,2.83M45.67,341.25l2.83,-2.83M46.21,339.83h4M48.21,337.83v4M46.79,338.42l2.83,2.83M46.79,341.25l2.83,-2.83M47.33,339.83h4M49.33,337.83v4M47.91,338.42l2.83,2.83M47.91,341.25l2.83,-2.83M48.45,339.83h4M50.45,337.83v4M49.03,338.42l2.83,2.83M49.03,341.25l2.83,-2.83M49.57,339.83h4M51.57,337.83v4M50.15,338.42l2.83,2.83M50.15,341.25l2.83,-2.83M50.69,339.83h4M52.69,337.83v4M51.27,338.42l2.83,2.83M51.27,341.25l2.83,-2.83M51.81,339.83h4M53.81,337.83v4M52.39,338.42l2.83,2.83M52.39,341.25l2.83,-2.83M52.93,339.83h4M54.93,337.83v4M53.51,338.42l2.83,2.83M53.51,341.25l2.83,-2.83M54.05,339.83h4M56.05,337.83v4M54.63,338.42l2.83,2.83M54.63,341.25l2.83,-2.83M55.17,339.83h4M57.17,337.83v4M55.76,338.42l2.83,2.83M55.76,341.25l2.83,-2.83M56.29,339.83h4M58.29,337.83v4M56.88,338.42l2.83,2.83M56.88,341.25l2.83,-2.83M57.41,339.83h4M59.41,337.83v4M58,338.42l2.83,2.83M58,341.25l2.83,-2.83M58.53,339.83h4M60.53,337.83v4M59.12,338.42l2.83,2.83M59.12,341.25l2.83,-2.83M59.65,339.83h4M61.65,337.83v4M60.24,338.42l2.83,2.83M60.24,341.25l2.83,-2.83M60.77,339.83h4M62.77,337.83v4M61.36,338.42l2.83,2.83M61.36,341.25l2.83,-2.83M61.89,339.83h4M63.89,337.83v4M62.48,338.42l2.83,2.83M62.48,341.25l2.83,-2.83M63.01,339.83h4M65.01,337.83v4M63.6,338.42l2.83,2.83M63.6,341.25l2.83,-2.83M64.13,339.83h4M66.13,337.83v4M64.72,338.42l2.83,2.83M64.72,341.25l2.83,-2.83M65.25,339.83h4M67.25,337.83v4M65.84,338.42l2.83,2.83M65.84,341.25l2.83,-2.83M66.37,339.83h4M68.37,337.83v4M66.96,338.42l2.83,2.83M66.96,341.25l2.83,-2.83M67.49,339.83h4M69.49,337.83v4M68.08,338.42l2.83,2.83M68.08,341.25l2.83,-2.83M68.61,339.83h4M70.61,337.83v4M69.2,338.42l2.83,2.83M69.2,341.25l2.83,-2.83M69.73,339.83h4M71.73,337.83v4M70.32,338.42l2.83,2.83M70.32,341.25l2.83,-2.83M70.86,339.83h4M72.86,337.83v4M71.44,338.42l2.83,2.83M71.44,341.25l2.83,-2.83M71.98,339.83h4M73.98,337.83v4M72.56,338.42l2.83,2.83M72.56,341.25l2.83,-2.83M73.1,339.83h4M75.1,337.83v4M73.68,338.42l2.83,2.83M73.68,341.25l2.83,-2.83M74.22,339.83h4M76.22,337.83v4M74.8,338.42l2.83,2.83M74.8,341.25l2.83,-2.83M75.34,339.83h4M77.34,337.83v4M75.92,338.42l2.83,2.83M75.92,341.25l2.83,-2.83M76.46,339.83h4M78.46,337.83v4M77.04,338.42l2.83,2.83M77.04,341.25l2.83,-2.83M77.58,339.83h4M79.58,337.83v4M78.16,338.42l2.83,2.83M78.16,341.25l2.83,-2.83M78.7,339.83h4M80.7,337.83v4M79.28,338.42l2.83,2.83M79.28,341.25l2.83,-2.83M79.82,339.83h4M81.82,337.83v4M80.4,338.42l2.83,2.83M80.4,341.25l2.83,-2.83M80.94,339.83h4M82.94,337.83v4M81.52,338.42l2.83,2.83M81.52,341.25l2.83,-2.83M82.06,339.83h4M84.06,337.83v4M82.65,338.42l2.83,2.83M82.65,341.25l2.83,-2.83M83.18,339.83h4M85.18,337.83v4M83.77,338.42l2.83,2.83M83.77,341.25l2.83,-2.83M84.3,339.83h4M86.3,337.83v4M84.89,338.42l2.83,2.83M84.89,341.25l2.83,-2.83M85.42,339.83h4M87.42,337.83v4M86.01,338.42l2.83,2.83M86.01,341.25l2.83,-2.83M86.54,339.83h4M88.54,337.83v4M87.13,338.42l2.83,2.83M87.13,341.25l2.83,-2.83M87.66,339.83h4M89.66,337.83v4M88.25,338.42l2.83,2.83M88.25,341.25l2.83,-2.83M88.78,339.83h4M90.78,337.83v4M89.37,338.42l2.83,2.83M89.37,341.25l2.83,-2.83M89.9,339.83h4M91.9,337.83v4M90.49,338.42l2.83,2.83M90.49,341.25l2.83,-2.83M91.02,339.83h4M93.02,337.83v4M91.61,338.42l2.83,2.83M91.61,341.25l2.83,-2.83M92.14,339.83h4M94.14,337.83v4M92.73,338.42l2.83,2.83M92.73,341.25l2.83,-2.83M93.26,339.83h4M95.26,337.83v4M93.85,338.42l2.83,2.83M93.85,341.25l2.83,-2.83M94.38,339.83h4M96.38,337.83v4M94.97,338.42l2.83,2.83M94.97,341.25l2.83,-2.83M95.5,339.83h4M97.5,337.83v4M96.09,338.42l2.83,2.83M96.09,341.25l2.83,-2.83M96.62,339.83h4M98.62,337.83v4M97.21,338.42l2.83,2.83M97.21,341.25l2.83,-2.83M97.74,339.83h4M99.74,337.83v4M98.33,338.42l2.83,2.83M98.33,341.25l2.83,-2.83M98.87,339.83h4M100.87,337.83v4M99.45,338.42l2.83,2.83M99.45,341.25l2.83,-2.83M99.99,339.83h4M101.99,337.83v4M100.57,338.42l2.83,2.83M100.57,341.25l2.83,-2.83M101.11,339.83h4M103.11,337.83v4M101.69,338.42l2.83,2.83M101.69,341.25l2.83,-2.83M102.23,339.83h4M104.23,337.83v4M102.81,338.42l2.83,2.83M102.81,341.25l2.83,-2.83M103.35,339.83h4M105.35,337.83v4M103.93,338.42l2.83,2.83M103.93,341.25l2.83,-2.83M104.47,339.83h4M106.47,337.83v4M105.05,338.42l2.83,2.83M105.05,341.25l2.83,-2.83M105.59,339.83h4M107.59,337.83v4M106.17,338.42l2.83,2.83M106.17,341.25l2.83,-2.83M106.71,339.83h4M108.71,337.83v4M107.29,338.42l2.83,2.83M107.29,341.25l2.83,-2.83M107.83,339.83h4M109.83,337.83v4M108.41,338.42l2.83,2.83M108.41,341.25l2.83,-2.83M108.95,339.83h4M110.95,337.83v4M109.53,338.42l2.83,2.83M109.53,341.25l2.83,-2.83M110.07,339.83h4M112.07,337.83v4M110.66,338.42l2.83,2.83M110.66,341.25l2.83,-2.83M111.19,339.83h4M113.19,337.83v4M111.78,338.42l2.83,2.83M111.78,341.25l2.83,-2.83M112.31,339.83h4M114.31,337.83v4M112.9,338.42l2.83,2.83M112.9,341.25l2.83,-2.83M113.43,339.83h4M115.43,337.83v4M114.02,338.42l2.83,2.83M114.02,341.25l2.83,-2.83M114.55,339.83h4M116.55,337.83v4M115.14,338.42l2.83,2.83M115.14,341.25l2.83,-2.83M115.67,339.83h4M117.67,337.83v4M116.26,338.42l2.83,2.83M116.26,341.25l2.83,-2.83M116.79,339.83h4M118.79,337.83v4M117.38,338.42l2.83,2.83M117.38,341.25l2.83,-2.83M117.91,339.83h4M119.91,337.83v4M118.5,338.42l2.83,2.83M118.5,341.25l2.83,-2.83M119.03,339.83h4M121.03,337.83v4M119.62,338.42l2.83,2.83M119.62,341.25l2.83,-2.83M120.15,339.83h4M122.15,337.83v4M120.74,338.42l2.83,2.83M120.74,341.25l2.83,-2.83M121.27,339.83h4M123.27,337.83v4M121.86,338.42l2.83,2.83M121.86,341.25l2.83,-2.83M122.39,339.83h4M124.39,337.83v4M122.98,338.42l2.83,2.83M122.98,341.25l2.83,-2.83M123.51,339.83h4M125.51,337.83v4M124.1,338.42l2.83,2.83M124.1,341.25l2.83,-2.83M124.63,339.83h4M126.63,337.83v4M125.22,338.42l2.83,2.83M125.22,341.25l2.83,-2.83M125.76,339.83h4M127.76,337.83v4M126.34,338.42l2.83,2.83M126.34,341.25l2.83,-2.83M126.88,339.83h4M128.88,337.83v4M127.46,338.42l2.83,2.83M127.46,341.25l2.83,-2.83M128,339.83h4M130,337.83v4M128.58,338.42l2.83,2.83M128.58,341.25l2.83,-2.83M129.12,339.83h4M131.12,337.83v4M129.7,338.42l2.83,2.83M129.7,341.25l2.83,-2.83M130.24,339.83h4M132.24,337.83v4M130.82,338.42l2.83,2.83M130.82,341.25l2.83,-2.83M131.36,328.82h4M133.36,326.82v4M131.94,327.4l2.83,2.83M131.94,330.23l2.83,-2.83M132.48,313.97h4M134.48,311.97v4M133.06,312.56l2.83,2.83M133.06,315.39l2.83,-2.83M133.6,299.13h4M135.6,297.13v4M134.18,297.71l2.83,2.83M134.18,300.54l2.83,-2.83M134.72,284.28h4M136.72,282.28v4M135.3,282.87l2.83,2.83M135.3,285.7l2.83,-2.83M135.84,269.44h4M137.84,267.44v4M136.42,268.02l2.83,2.83M136.42,270.85l2.83,-2.83M136.96,254.59h4M138.96,252.59v4M137.55,253.18l2.83,2.83M137.55,256l2.83,-2.83M138.08,239.75h4M140.08,237.75v4M138.67,238.33l2.83,2.83M138.67,241.16l2.83,-2.83M139.2,224.9h4M141.2,222.9v4M139.79,223.49l2.83,2.83M139.79,226.31l2.83,-2.83M140.32,239.75h4M142.32,237.75v4M140.91,238.33l2.83,2.83M140.91,241.16l2.83,-2.83M141.44,254.59h4M143.44,252.59v4M142.03,253.18l2.83,2.83M142.03,256l2.83,-2.83M142.56,269.44h4M144.56,267.44v4M143.15,268.02l2.83,2.83M143.15,270.85l2.83,-2.83M143.68,284.28h4M145.68,282.28v4M144.27,282.87l2.83,2.83M144.27,285.7l2.83,-2.83M144.8,299.13h4M146.8,297.13v4M145.39,297.71l2.83,2.83M145.39,300.54l2.83,-2.83M145.92,313.97h4M147.92,311.97v4M146.51,312.56l2.83,2.83M146.51,315.39l2.83,-2.83M147.04,328.82h4M149.04,326.82v4M147.63,327.4l2.83,2.83M147.63,330.23l2.83,-2.83M148.16,339.83h4M150.16,337.83v4M148.75,338.42l2.83,2.83M148.75,341.25l2.83,-2.83M149.28,339.83h4M151.28,337.83v4M149.87,338.42l2.83,2.83M149.87,341.25l2.83,-2.83M150.4,339.83h4M152.4,337.83v4M150.99,338.42l2.83,2.83M150.99,341.25l2.83,-2.83M151.52,339.83h4M153.52,337.83v4M152.11,338.42l2.83,2.83M152.11,341.25l2.83,-2.83M152.64,339.83h4M154.64,337.83v4M153.23,338.42l2.83,2.83M153.23,341.25l2.83,-2.83M153.77,339.83h4M155.77,337.83v4M154.35,338.42l2.83,2.83M154.35,341.25l2.83,-2.83M154.89,339.83h4M156.89,337.83v4M155.47,338.42l2.83,2.83M155.47,341.25l2.83,-2.83M156.01,339.83h4M158.01,337.83v4M156.59,338.42l2.83,2.83M156.59,341.25l2.83,-2.83M157.13,339.83h4M159.13,337.83v4M157.71,338.42l2.83,2.83M157.71,341.25l2.83,-2.83M158.25,339.83h4M160.25,337.83v4M158.83,338.42l2.83,2.83M158.83,341.25l2.83,-2.83M159.37,339.83h4M161.37,337.83v4M159.95,338.42l2.83,2.83M159.95,341.25l2.83,-2.83M160.49,339.83h4M162.49,337.83v4M161.07,338.42l2.83,2.83M161.07,341.25l2.83,-2.83M161.61,339.83h4M163.61,337.83v4M162.19,338.42l2.83,2.83M162.19,341.25l2.83,-2.83M162.73,339.83h4M164.73,337.83v4M163.31,338.42l2.83,2.83M163.31,341.25l2.83,-2.83M163.85,339.83h4M165.85,337.83v4M164.43,338.42l2.83,2.83M164.43,341.25l2.83,-2.83M164.97,339.83h4M166.97,337.83v4M165.56,338.42l2.83,2.83M165.56,341.25l2.83,-2.83M166.09,339.83h4M168.09,337.83v4M166.68,338.42l2.83,2.83M166.68,341.25l2.83,-2.83M167.21,339.83h4M169.21,337.83v4M167.8,338.42l2.83,2.83M167.8,341.25l2.83,-2.83M168.33,339.83h4M170.33,337.83v4M168.92,338.42l2.83,2.83M168.92,341.25l2.83,-2.83M169.45,339.83h4M171.45,337.83v4M170.04,338.42l2.83,2.83M170.04,341.25l2.83,-2.83M170.57,339.83h4M172.57,337.83v4M171.16,338.42l2.83,2.83M171.16,341.25l2.83,-2.83M171.69,339.83h4M173.69,337.83v4M172.28,338.42l2.83,2.83M172.28,341.25l2.83,-2.83M172.81,339.83h4M174.81,337.83v4M173.4,338.42l2.83,2.83M173.4,341.25l2.83,-2.83M173.93,339.83h4M175.93,337.83v4M174.52,338.42l2.83,2.83M174.52,341.25l2.83,-2.83M175.05,339.83h4M177.05,337.83v4M175.64,338.42l2.83,2.83M175.64,341.25l2.83,-2.83M176.17,339.83h4M178.17,337.83v4M176.76,338.42l2.83,2.83M176.76,341.25l2.83,-2.83M177.29,339.83h4M179.29,337.83v4M177.88,338.42l2.83,2.83M177.88,341.25l2.83,-2.83M178.41,339.83h4M180.41,337.83v4M179,338.42l2.83,2.83M179,341.25l2.83,-2.83M179.53,339.83h4M181.53,337.83v4M180.12,338.42l2.83,2.83M180.12,341.25l2.83,-2.83M180.66,339.83h4M182.66,337.83v4M181.24,338.42l2.83,2.83M181.24,341.25l2.83,-2.83M181.78,339.83h4M183.78,337.83v4M182.36,338.42l2.83,2.83M182.36,341.25l2.83,-2.83M182.9,339.83h4M184.9,337.83v4M183.48,338.42l2.83,2.83M183.48,341.25l2.83,-2.83M184.02,339.83h4M186.02,337.83v4M184.6,338.42l2.83,2.83M184.6,341.25l2.83,-2.83M185.14,339.83h4M187.14,337.83v4M185.72,338.42l2.83,2.83M185.72,341.25l2.83,-2.83M186.26,339.83h4M188.26,337.83v4M186.84,338.42l2.83,2.83M186.84,341.25l2.83,-2.83M187.38,339.83h4M189.38,337.83v4M187.96,338.42l2.83,2.83M187.96,341.25l2.83,-2.83M188.5,339.83h4M190.5,337.83v4M189.08,338.42l2.83,2.83M189.08,341.25l2.83,-2.83M189.62,339.83h4M191.62,337.83v4M190.2,338.42l2.83,2.83M190.2,341.25l2.83,-2.83M190.74,339.83h4M192.74,337.83v4M191.32,338.42l2.83,2.83M191.32,341.25l2.83,-2.83M191.86,339.83h4M193.86,337.83v4M192.45,338.42l2.83,2.83M192.45,341.25l2.83,-2.83M192.98,339.83h4M194.98,337.83v4M193.57,338.42l2.83,2.83M193.57,341.25l2.83,-2.83M194.1,339.83h4M196.1,337.83v4M194.69,338.42l2.83,2.83M194.69,341.25l2.83,-2.83M195.22,339.83h4M197.22,337.83v4M195.81,338.42l2.83,2.83M195.81,341.25l2.83,-2.83M196.34,339.83h4M198.34,337.83v4M196.93,338.42l2.83,2.83M196.93,341.25l2.83,-2.83M197.46,339.83h4M199.46,337.83v4M198.05,338.42l2.83,2.83M198.05,341.25l2.83,-2.83M198.58,339.83h4M200.58,337.83v4M199.17,338.42l2.83,2.83M199.17,341.25l2.83,-2.83M199.7,339.83h4M201.7,337.83v4M200.29,338.42l2.83,2.83M200.29,341.25l2.83,-2.83M200.82,339.83h4M202.82,337.83v4M201.41,338.42l2.83,2.83M201.41,341.25l2.83,-2.83M201.94,339.83h4M203.94,337.83v4M202.53,338.42l2.83,2.83M202.53,341.25l2.83,-2.83M203.06,339.83h4M205.06,337.83v4M203.65,338.42l2.83,2.83M203.65,341.25l2.83,-2.83M204.18,339.83h4M206.18,337.83v4M204.77,338.42l2.83,2.83M204.77,341.25l2.83,-2.83M205.3,339.83h4M207.3,337.83v4M205.89,338.42l2.83,2.83M205.89,341.25l2.83,-2.83M206.42,339.83h4M208.42,337.83v4M207.01,338.42l2.83,2.83M207.01,341.25l2.83,-2.83M207.54,339.83h4M209.54,337.83v4M208.13,338.42l2.83,2.83M208.13,341.25l2.83,-2.83M208.67,339.83h4M210.67,337.83v4M209.25,338.42l2.83,2.83M209.25,341.25l2.83,-2.83M209.79,339.83h4M211.79,337.83v4M210.37,338.42l2.83,2.83M210.37,341.25l2.83,-2.83M210.91,339.83h4M212.91,337.83v4M211.49,338.42l2.83,2.83M211.49,341.25l2.83,-2.83M212.03,339.83h4M214.03,337.83v4M212.61,338.42l2.83,2.83M212.61,341.25l2.83,-2.83M213.15,339.83h4M215.15,337.83v4M213.73,338.42l2.83,2.83M213.73,341.25l2.83,-2.83M214.27,339.83h4M216.27,337.83v4M214.85,338.42l2.83,2.83M214.85,341.25l2.83,-2.83M215.39,339.83h4M217.39,337.83v4M215.97,338.42l2.83,2.83M215.97,341.25l2.83,-2.83M216.51,339.83h4M218.51,337.83v4M217.09,338.42l2.83,2.83M217.09,341.25l2.83,-2.83M217.63,339.83h4M219.63,337.83v4M218.21,338.42l2.83,2.83M218.21,341.25l2.83,-2.83M218.75,339.83h4M220.75,337.83v4M219.33,338.42l2.83,2.83M219.33,341.25l2.83,-2.83M219.87,339.83h4M221.87,337.83v4M220.46,338.42l2.83,2.83M220.46,341.25l2.83,-2.83M220.99,339.83h4M222.99,337.83v4M221.58,338.42l2.83,2.83M221.58,341.25l2.83,-2.83M222.11,339.83h4M224.11,337.83v4M222.7,338.42l2.83,2.83M222.7,341.25l2.83,-2.83M223.23,339.83h4M225.23,337.83v4M223.82,338.42l2.83,2.83M223.82,341.25l2.83,-2.83M224.35,339.83h4M226.35,337.83v4M224.94,338.42l2.83,2.83M224.94,341.25l2.83,-2.83M225.47,339.83h4M227.47,337.83v4M226.06,338.42l2.83,2.83M226.06,341.25l2.83,-2.83M226.59,339.83h4M228.59,337.83v4M227.18,338.42l2.83,2.83M227.18,341.25l2.83,-2.83M227.71,339.83h4M229.71,337.83v4M228.3,338.42l2.83,2.83M228.3,341.25l2.83,-2.83M228.83,339.83h4M230.83,337.83v4M229.42,338.42l2.83,2.83M229.42,341.25l2.83,-2.83M229.95,339.83h4M231.95,337.83v4M230.54,338.42l2.83,2.83M230.54,341.25l2.83,-2.83M231.07,339.83h4M233.07,337.83v4M231.66,338.42l2.83,2.83M231.66,341.25l2.83,-2.83M232.19,339.83h4M234.19,337.83v4M232.78,338.42l2.83,2.83M232.78,341.25l2.83,-2.83M233.31,339.83h4M235.31,337.83v4M233.9,338.42l2.83,2.83M233.9,341.25l2.83,-2.83M234.43,339.83h4M236.43,337.83v4M235.02,338.42l2.83,2.83M235.02,341.25l2.83,-2.83M235.56,339.83h4M237.56,337.83v4M236.14,338.42l2.83,2.83M236.14,341.25l2.83,-2.83M236.68,339.83h4M238.68,337.83v4M237.26,338.42l2.83,2.83M237.26,341.25l2.83,-2.83M237.8,339.83h4M239.8,337.83v4M238.38,338.42l2.83,2.83M238.38,341.25l2.83,-2.83M238.92,339.83h4M240.92,337.83v4M239.5,338.42l2.83,2.83M239.5,341.25l2.83,-2.83M240.04,339.83h4M242.04,337.83v4M240.62,338.42l2.83,2.83M240.62,341.25l2.83,-2.83M241.16,339.83h4M243.16,337.83v4M241.74,338.42l2.83,2.83M241.74,341.25l2.83,-2.83M242.28,339.83h4M244.28,337.83v4M242.86,338.42l2.83,2.83M242.86,341.25l2.83,-2.83M243.4,339.83h4M245.4,337.83v4M243.98,338.42l2.83,2.83M243.98,341.25l2.83,-2.83M244.52,339.83h4M246.52,337.83v4M245.1,338.42l2.83,2.83M245.1,341.25l2.83,-2.83M245.64,339.83h4M247.64,337.83v4M246.22,338.42l2.83,2.83M246.22,341.25l2.83,-2.83M246.76,339.83h4M248.76,337.83v4M247.35,338.42l2.83,2.83M247.35,341.25l2.83,-2.83M247.88,339.83h4M249.88,337.83v4M248.47,338.42l2.83,2.83M248.47,341.25l2.83,-2.83M249,339.83h4M251,337.83v4M249.59,338.42l2.83,2.83M249.59,341.25l2.83,-2.83" fill="none" stroke="#1e90ff" stroke-width="1.1"/>
<polyline points="31.4,340.18 132.24,340.18 133.36,339.27 141.2,225.25 149.04,339.27 150.16,340.18 251,340.18" fill="none" stroke="#000000" stroke-width="1.4" stroke-linejoin="round" />
<polyline points="31.4,340.18 132.24,340.18 133.36,327.87 141.2,225.25 149.04,327.87 150.16,340.18 251,340.18" fill="none" stroke="#ffd800" stroke-width="1.5" stroke-linejoin="round" />
<rect x="175.6" y="230" width="70.20000000000002" height="49.5" fill="#fff" stroke="#8e8e8e" stroke-width="0.7"/>
<line x1="178.1" y1="235.4" x2="198.2" y2="235.4" stroke="#00ffff" stroke-width="1.7"/>
<text x="200" y="237.55" class="lg">CBOC(6,1,1/11)</text>
<line x1="178.1" y1="243.2" x2="198.2" y2="243.2" stroke="#55a51c" stroke-width="1.7"/>
<path d="M186.25,240.8L190.45,243.2L186.25,245.6Z" fill="none" stroke="#55a51c" stroke-width="1.9" stroke-linejoin="round"/>
<text x="200" y="245.35" class="lg">ASPeCT</text>
<line x1="178.1" y1="251.1" x2="198.2" y2="251.1" stroke="#ff0000" stroke-width="2.1"/>
<circle cx="188.15" cy="251.1" r="2.1" fill="none" stroke="#ff0000" stroke-width="1.9"/>
<text x="200" y="253.25" class="lg">algorithm A</text>
<line x1="178.1" y1="259.1" x2="198.2" y2="259.1" stroke="#1e90ff" stroke-width="1.8"/>
<path d="M186.74,257.69l2.83,2.83M186.74,260.51l2.83,-2.83" stroke="#1e90ff" stroke-width="0.6" fill="none"/>
<path d="M188.15,257.1v4" stroke="#1e90ff" stroke-width="1.2" fill="none"/>
<text x="200" y="261.25" class="lg">RSSA</text>
<line x1="178.1" y1="267.1" x2="198.2" y2="267.1" stroke="#000000" stroke-width="1.9"/>
<text x="200" y="269.25" class="lg">LASOA</text>
<line x1="178.1" y1="275.1" x2="198.2" y2="275.1" stroke="#ffd800" stroke-width="1.7"/>
<text x="200" y="277.25" class="lg">algorithm B</text>
<text x="129.4" y="431.6" class="cap" text-anchor="middle">(c)</text>
</g></svg></body></html>
